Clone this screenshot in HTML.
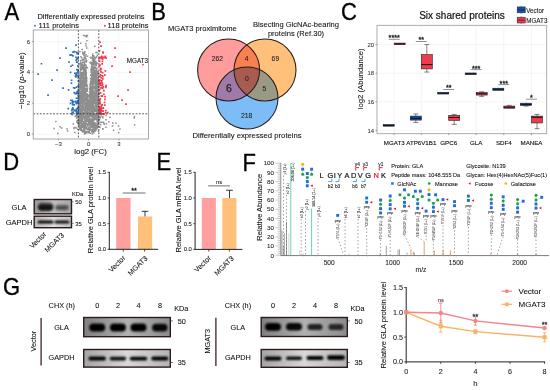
<!DOCTYPE html>
<html><head><meta charset="utf-8"><style>
html,body{margin:0;padding:0;background:#fff;overflow:hidden;}
svg{display:block;will-change:transform;}
text{font-family:"Liberation Sans",sans-serif;}
</style></head><body>
<svg width="550" height="390" viewBox="0 0 550 390">
<rect width="550" height="390" fill="#fff"/>
<defs><filter id="blur1" x="-50%" y="-80%" width="200%" height="260%"><feGaussianBlur stdDeviation="0.8"/></filter><filter id="blur05" x="-50%" y="-80%" width="200%" height="260%"><feGaussianBlur stdDeviation="0.45"/></filter></defs>
<text transform="translate(4.5,20.3) scale(1,1.09)" font-size="22" fill="#000" stroke="#000" stroke-width="0.3">A</text>
<text transform="translate(151.2,20.3) scale(1,1.09)" font-size="22" fill="#000" stroke="#000" stroke-width="0.3">B</text>
<text transform="translate(340.9,20.4) scale(1,1.09)" font-size="22" fill="#000" stroke="#000" stroke-width="0.3">C</text>
<text transform="translate(3.2,170.3) scale(1,1.09)" font-size="22" fill="#000" stroke="#000" stroke-width="0.3">D</text>
<text transform="translate(156.5,170.3) scale(1,1.09)" font-size="22" fill="#000" stroke="#000" stroke-width="0.3">E</text>
<text transform="translate(242.5,170.6) scale(1,1.09)" font-size="22" fill="#000" stroke="#000" stroke-width="0.3">F</text>
<text transform="translate(2.9,295.4) scale(1,1.09)" font-size="22" fill="#000" stroke="#000" stroke-width="0.3">G</text>
<line x1="58.30" y1="30.00" x2="58.30" y2="139.00" stroke="#f0f0f0" stroke-width="0.6" />
<line x1="88.60" y1="30.00" x2="88.60" y2="139.00" stroke="#f0f0f0" stroke-width="0.6" />
<line x1="118.90" y1="30.00" x2="118.90" y2="139.00" stroke="#f0f0f0" stroke-width="0.6" />
<line x1="33.30" y1="134.40" x2="148.50" y2="134.40" stroke="#f0f0f0" stroke-width="0.6" />
<line x1="33.30" y1="103.50" x2="148.50" y2="103.50" stroke="#f0f0f0" stroke-width="0.6" />
<line x1="33.30" y1="72.60" x2="148.50" y2="72.60" stroke="#f0f0f0" stroke-width="0.6" />
<line x1="33.30" y1="41.70" x2="148.50" y2="41.70" stroke="#f0f0f0" stroke-width="0.6" />
<path d="M86.9 107.1h1.5v1.5h-1.5zM81.3 87.7h1.5v1.5h-1.5zM79.4 111.7h1.5v1.5h-1.5zM79.3 128.8h1.5v1.5h-1.5zM97.9 92.5h1.5v1.5h-1.5zM91.1 131.2h1.5v1.5h-1.5zM88.4 127.0h1.5v1.5h-1.5zM81.4 98.2h1.5v1.5h-1.5zM87.0 113.2h1.5v1.5h-1.5zM98.2 85.5h1.5v1.5h-1.5zM84.0 112.6h1.5v1.5h-1.5zM83.5 95.5h1.5v1.5h-1.5zM95.1 100.0h1.5v1.5h-1.5zM97.4 117.7h1.5v1.5h-1.5zM96.4 100.3h1.5v1.5h-1.5zM97.8 98.8h1.5v1.5h-1.5zM93.6 108.3h1.5v1.5h-1.5zM79.3 95.1h1.5v1.5h-1.5zM79.9 109.0h1.5v1.5h-1.5zM79.6 116.1h1.5v1.5h-1.5zM89.1 95.3h1.5v1.5h-1.5zM81.4 87.9h1.5v1.5h-1.5zM79.9 105.5h1.5v1.5h-1.5zM81.9 79.7h1.5v1.5h-1.5zM83.8 54.7h1.5v1.5h-1.5zM81.8 94.6h1.5v1.5h-1.5zM79.5 67.4h1.5v1.5h-1.5zM81.9 106.5h1.5v1.5h-1.5zM83.6 123.7h1.5v1.5h-1.5zM79.3 98.5h1.5v1.5h-1.5zM85.2 99.0h1.5v1.5h-1.5zM97.4 92.3h1.5v1.5h-1.5zM81.3 118.9h1.5v1.5h-1.5zM96.3 116.8h1.5v1.5h-1.5zM92.8 69.6h1.5v1.5h-1.5zM81.5 80.6h1.5v1.5h-1.5zM86.2 123.7h1.5v1.5h-1.5zM78.3 91.1h1.5v1.5h-1.5zM82.8 76.3h1.5v1.5h-1.5zM89.9 80.4h1.5v1.5h-1.5zM78.9 115.5h1.5v1.5h-1.5zM89.1 106.9h1.5v1.5h-1.5zM96.5 118.9h1.5v1.5h-1.5zM81.1 101.2h1.5v1.5h-1.5zM97.8 92.6h1.5v1.5h-1.5zM91.8 128.9h1.5v1.5h-1.5zM77.8 90.5h1.5v1.5h-1.5zM92.0 82.1h1.5v1.5h-1.5zM84.1 89.6h1.5v1.5h-1.5zM92.8 67.3h1.5v1.5h-1.5zM92.8 69.8h1.5v1.5h-1.5zM84.8 91.9h1.5v1.5h-1.5zM96.2 78.1h1.5v1.5h-1.5zM95.4 95.0h1.5v1.5h-1.5zM90.4 90.1h1.5v1.5h-1.5zM79.1 90.0h1.5v1.5h-1.5zM98.1 106.0h1.5v1.5h-1.5zM92.7 91.9h1.5v1.5h-1.5zM78.1 101.9h1.5v1.5h-1.5zM82.8 79.4h1.5v1.5h-1.5zM81.7 117.6h1.5v1.5h-1.5zM96.3 81.1h1.5v1.5h-1.5zM84.3 88.6h1.5v1.5h-1.5zM81.6 83.0h1.5v1.5h-1.5zM95.8 101.4h1.5v1.5h-1.5zM89.6 94.7h1.5v1.5h-1.5zM94.9 71.4h1.5v1.5h-1.5zM92.2 114.9h1.5v1.5h-1.5zM86.8 111.5h1.5v1.5h-1.5zM81.9 100.5h1.5v1.5h-1.5zM84.0 69.6h1.5v1.5h-1.5zM95.6 128.5h1.5v1.5h-1.5zM92.2 78.0h1.5v1.5h-1.5zM77.8 124.3h1.5v1.5h-1.5zM86.9 109.5h1.5v1.5h-1.5zM80.4 128.1h1.5v1.5h-1.5zM90.5 89.2h1.5v1.5h-1.5zM94.2 63.4h1.5v1.5h-1.5zM91.7 114.7h1.5v1.5h-1.5zM77.7 103.5h1.5v1.5h-1.5zM92.3 101.6h1.5v1.5h-1.5zM92.0 87.6h1.5v1.5h-1.5zM90.2 74.4h1.5v1.5h-1.5zM96.3 125.9h1.5v1.5h-1.5zM96.8 102.8h1.5v1.5h-1.5zM90.5 70.7h1.5v1.5h-1.5zM85.3 88.1h1.5v1.5h-1.5zM97.1 105.9h1.5v1.5h-1.5zM91.0 69.5h1.5v1.5h-1.5zM90.8 70.2h1.5v1.5h-1.5zM81.9 52.8h1.5v1.5h-1.5zM84.1 99.1h1.5v1.5h-1.5zM79.2 108.1h1.5v1.5h-1.5zM88.9 129.7h1.5v1.5h-1.5zM94.3 126.8h1.5v1.5h-1.5zM94.1 73.5h1.5v1.5h-1.5zM80.4 118.9h1.5v1.5h-1.5zM97.1 108.7h1.5v1.5h-1.5zM97.2 97.2h1.5v1.5h-1.5zM83.5 78.4h1.5v1.5h-1.5zM90.7 96.8h1.5v1.5h-1.5zM83.9 102.7h1.5v1.5h-1.5zM95.0 71.4h1.5v1.5h-1.5zM97.6 103.0h1.5v1.5h-1.5zM89.4 92.2h1.5v1.5h-1.5zM90.0 129.2h1.5v1.5h-1.5zM97.6 94.2h1.5v1.5h-1.5zM89.2 95.2h1.5v1.5h-1.5zM91.8 93.9h1.5v1.5h-1.5zM97.4 78.1h1.5v1.5h-1.5zM83.0 100.4h1.5v1.5h-1.5zM94.4 69.7h1.5v1.5h-1.5zM96.7 121.2h1.5v1.5h-1.5zM93.7 110.6h1.5v1.5h-1.5zM91.7 104.1h1.5v1.5h-1.5zM84.8 82.4h1.5v1.5h-1.5zM80.0 99.6h1.5v1.5h-1.5zM82.7 97.2h1.5v1.5h-1.5zM85.3 96.3h1.5v1.5h-1.5zM90.7 88.0h1.5v1.5h-1.5zM95.2 116.2h1.5v1.5h-1.5zM92.9 80.2h1.5v1.5h-1.5zM96.2 77.9h1.5v1.5h-1.5zM82.0 61.4h1.5v1.5h-1.5zM95.9 81.9h1.5v1.5h-1.5zM82.8 122.5h1.5v1.5h-1.5zM94.8 122.8h1.5v1.5h-1.5zM85.8 80.2h1.5v1.5h-1.5zM77.8 85.7h1.5v1.5h-1.5zM97.6 122.2h1.5v1.5h-1.5zM81.4 126.8h1.5v1.5h-1.5zM79.7 94.0h1.5v1.5h-1.5zM89.3 118.4h1.5v1.5h-1.5zM81.3 65.3h1.5v1.5h-1.5zM96.7 122.7h1.5v1.5h-1.5zM78.7 84.0h1.5v1.5h-1.5zM84.2 97.6h1.5v1.5h-1.5zM88.2 131.9h1.5v1.5h-1.5zM92.0 66.7h1.5v1.5h-1.5zM81.2 107.4h1.5v1.5h-1.5zM81.5 117.3h1.5v1.5h-1.5zM92.1 68.0h1.5v1.5h-1.5zM90.5 96.7h1.5v1.5h-1.5zM97.9 85.3h1.5v1.5h-1.5zM82.8 69.9h1.5v1.5h-1.5zM94.4 103.1h1.5v1.5h-1.5zM96.1 76.7h1.5v1.5h-1.5zM93.4 102.6h1.5v1.5h-1.5zM92.5 91.0h1.5v1.5h-1.5zM77.7 111.7h1.5v1.5h-1.5zM90.7 68.4h1.5v1.5h-1.5zM91.3 104.7h1.5v1.5h-1.5zM91.2 103.3h1.5v1.5h-1.5zM98.2 101.3h1.5v1.5h-1.5zM92.0 130.1h1.5v1.5h-1.5zM90.3 93.0h1.5v1.5h-1.5zM82.8 115.7h1.5v1.5h-1.5zM85.3 122.9h1.5v1.5h-1.5zM82.7 89.9h1.5v1.5h-1.5zM97.6 102.2h1.5v1.5h-1.5zM89.9 84.9h1.5v1.5h-1.5zM78.4 103.0h1.5v1.5h-1.5zM81.0 98.1h1.5v1.5h-1.5zM90.2 90.3h1.5v1.5h-1.5zM85.1 92.3h1.5v1.5h-1.5zM83.3 73.5h1.5v1.5h-1.5zM83.6 127.7h1.5v1.5h-1.5zM80.7 82.8h1.5v1.5h-1.5zM85.6 126.7h1.5v1.5h-1.5zM98.0 91.2h1.5v1.5h-1.5zM79.0 99.5h1.5v1.5h-1.5zM97.7 117.7h1.5v1.5h-1.5zM97.8 92.4h1.5v1.5h-1.5zM90.0 92.1h1.5v1.5h-1.5zM81.7 126.8h1.5v1.5h-1.5zM86.9 110.1h1.5v1.5h-1.5zM89.6 98.0h1.5v1.5h-1.5zM98.2 79.8h1.5v1.5h-1.5zM92.7 67.5h1.5v1.5h-1.5zM93.8 82.9h1.5v1.5h-1.5zM84.9 91.4h1.5v1.5h-1.5zM89.8 77.7h1.5v1.5h-1.5zM93.1 61.2h1.5v1.5h-1.5zM96.5 74.6h1.5v1.5h-1.5zM78.3 105.1h1.5v1.5h-1.5zM90.4 121.8h1.5v1.5h-1.5zM85.2 106.8h1.5v1.5h-1.5zM92.9 70.6h1.5v1.5h-1.5zM79.0 89.2h1.5v1.5h-1.5zM93.4 110.5h1.5v1.5h-1.5zM86.3 104.5h1.5v1.5h-1.5zM84.2 79.6h1.5v1.5h-1.5zM86.3 105.8h1.5v1.5h-1.5zM79.5 125.5h1.5v1.5h-1.5zM89.2 96.3h1.5v1.5h-1.5zM91.7 124.9h1.5v1.5h-1.5zM81.9 77.5h1.5v1.5h-1.5zM79.1 94.3h1.5v1.5h-1.5zM83.3 117.0h1.5v1.5h-1.5zM84.9 121.6h1.5v1.5h-1.5zM92.2 91.6h1.5v1.5h-1.5zM96.6 95.1h1.5v1.5h-1.5zM94.2 108.9h1.5v1.5h-1.5zM84.1 82.8h1.5v1.5h-1.5zM82.6 99.3h1.5v1.5h-1.5zM85.1 104.0h1.5v1.5h-1.5zM81.5 88.8h1.5v1.5h-1.5zM94.0 97.6h1.5v1.5h-1.5zM81.1 84.5h1.5v1.5h-1.5zM95.8 96.1h1.5v1.5h-1.5zM79.2 72.5h1.5v1.5h-1.5zM79.2 90.4h1.5v1.5h-1.5zM80.4 113.5h1.5v1.5h-1.5zM82.0 87.7h1.5v1.5h-1.5zM88.3 105.9h1.5v1.5h-1.5zM97.6 99.2h1.5v1.5h-1.5zM96.5 105.2h1.5v1.5h-1.5zM94.6 81.9h1.5v1.5h-1.5zM94.8 82.7h1.5v1.5h-1.5zM97.4 95.5h1.5v1.5h-1.5zM94.1 102.0h1.5v1.5h-1.5zM85.3 115.3h1.5v1.5h-1.5zM81.7 74.1h1.5v1.5h-1.5zM78.7 111.6h1.5v1.5h-1.5zM79.8 120.3h1.5v1.5h-1.5zM78.7 109.7h1.5v1.5h-1.5zM89.6 121.6h1.5v1.5h-1.5zM81.3 114.8h1.5v1.5h-1.5zM82.3 113.8h1.5v1.5h-1.5zM81.3 113.4h1.5v1.5h-1.5zM81.0 93.7h1.5v1.5h-1.5zM94.4 98.7h1.5v1.5h-1.5zM82.9 99.8h1.5v1.5h-1.5zM94.1 100.1h1.5v1.5h-1.5zM91.1 110.9h1.5v1.5h-1.5zM77.7 99.6h1.5v1.5h-1.5zM92.3 84.3h1.5v1.5h-1.5zM80.7 111.0h1.5v1.5h-1.5zM95.5 92.3h1.5v1.5h-1.5zM90.7 86.8h1.5v1.5h-1.5zM80.6 82.9h1.5v1.5h-1.5zM77.5 89.2h1.5v1.5h-1.5zM79.2 118.1h1.5v1.5h-1.5zM92.4 90.6h1.5v1.5h-1.5zM97.3 94.2h1.5v1.5h-1.5zM95.3 102.9h1.5v1.5h-1.5zM96.5 123.1h1.5v1.5h-1.5zM94.6 91.5h1.5v1.5h-1.5zM80.7 71.7h1.5v1.5h-1.5zM83.9 107.4h1.5v1.5h-1.5zM84.9 101.9h1.5v1.5h-1.5zM94.7 102.7h1.5v1.5h-1.5zM92.2 111.0h1.5v1.5h-1.5zM94.1 113.8h1.5v1.5h-1.5zM90.3 91.2h1.5v1.5h-1.5zM83.7 102.1h1.5v1.5h-1.5zM85.6 115.9h1.5v1.5h-1.5zM92.7 105.8h1.5v1.5h-1.5zM97.1 114.3h1.5v1.5h-1.5zM94.6 124.1h1.5v1.5h-1.5zM80.4 80.0h1.5v1.5h-1.5zM81.2 99.5h1.5v1.5h-1.5zM94.9 113.8h1.5v1.5h-1.5zM80.7 122.0h1.5v1.5h-1.5zM85.9 92.9h1.5v1.5h-1.5zM93.4 103.0h1.5v1.5h-1.5zM86.0 131.5h1.5v1.5h-1.5zM85.8 83.5h1.5v1.5h-1.5zM91.2 97.6h1.5v1.5h-1.5zM77.8 101.4h1.5v1.5h-1.5zM79.7 104.0h1.5v1.5h-1.5zM80.7 92.6h1.5v1.5h-1.5zM96.2 101.6h1.5v1.5h-1.5zM80.4 87.7h1.5v1.5h-1.5zM98.0 98.4h1.5v1.5h-1.5zM81.6 71.8h1.5v1.5h-1.5zM90.5 110.1h1.5v1.5h-1.5zM84.3 93.4h1.5v1.5h-1.5zM80.0 77.1h1.5v1.5h-1.5zM80.3 90.4h1.5v1.5h-1.5zM89.1 111.8h1.5v1.5h-1.5zM96.4 84.3h1.5v1.5h-1.5zM80.0 82.4h1.5v1.5h-1.5zM83.5 87.0h1.5v1.5h-1.5zM94.7 116.8h1.5v1.5h-1.5zM88.8 116.1h1.5v1.5h-1.5zM98.0 83.7h1.5v1.5h-1.5zM91.1 79.8h1.5v1.5h-1.5zM85.4 82.9h1.5v1.5h-1.5zM94.2 93.2h1.5v1.5h-1.5zM80.4 104.4h1.5v1.5h-1.5zM89.3 108.6h1.5v1.5h-1.5zM89.3 102.0h1.5v1.5h-1.5zM90.8 116.2h1.5v1.5h-1.5zM97.4 95.2h1.5v1.5h-1.5zM93.2 72.6h1.5v1.5h-1.5zM86.0 99.9h1.5v1.5h-1.5zM89.2 88.4h1.5v1.5h-1.5zM84.1 60.8h1.5v1.5h-1.5zM92.7 83.3h1.5v1.5h-1.5zM93.1 125.5h1.5v1.5h-1.5zM80.0 97.2h1.5v1.5h-1.5zM88.4 112.2h1.5v1.5h-1.5zM83.8 126.1h1.5v1.5h-1.5zM96.4 71.2h1.5v1.5h-1.5zM91.3 68.6h1.5v1.5h-1.5zM82.1 84.9h1.5v1.5h-1.5zM80.0 97.9h1.5v1.5h-1.5zM97.2 110.2h1.5v1.5h-1.5zM84.2 126.2h1.5v1.5h-1.5zM96.1 105.0h1.5v1.5h-1.5zM89.6 128.3h1.5v1.5h-1.5zM78.1 102.1h1.5v1.5h-1.5zM96.9 79.7h1.5v1.5h-1.5zM96.1 115.2h1.5v1.5h-1.5zM94.9 118.3h1.5v1.5h-1.5zM95.7 63.5h1.5v1.5h-1.5zM81.7 76.8h1.5v1.5h-1.5zM78.5 125.4h1.5v1.5h-1.5zM92.5 74.1h1.5v1.5h-1.5zM92.3 116.3h1.5v1.5h-1.5zM91.9 123.2h1.5v1.5h-1.5zM82.1 108.7h1.5v1.5h-1.5zM92.2 110.4h1.5v1.5h-1.5zM91.3 70.2h1.5v1.5h-1.5zM85.2 94.2h1.5v1.5h-1.5zM82.2 112.6h1.5v1.5h-1.5zM96.7 94.1h1.5v1.5h-1.5zM79.3 81.9h1.5v1.5h-1.5zM86.6 128.9h1.5v1.5h-1.5zM89.9 108.4h1.5v1.5h-1.5zM82.7 108.4h1.5v1.5h-1.5zM93.2 111.2h1.5v1.5h-1.5zM83.3 74.7h1.5v1.5h-1.5zM87.8 120.2h1.5v1.5h-1.5zM89.0 87.8h1.5v1.5h-1.5zM93.7 95.1h1.5v1.5h-1.5zM97.2 121.9h1.5v1.5h-1.5zM93.7 109.9h1.5v1.5h-1.5zM93.8 93.1h1.5v1.5h-1.5zM82.1 93.5h1.5v1.5h-1.5zM81.2 96.2h1.5v1.5h-1.5zM86.5 99.4h1.5v1.5h-1.5zM82.9 69.7h1.5v1.5h-1.5zM89.3 92.9h1.5v1.5h-1.5zM93.9 105.9h1.5v1.5h-1.5zM78.3 111.6h1.5v1.5h-1.5zM90.4 90.4h1.5v1.5h-1.5zM79.3 85.6h1.5v1.5h-1.5zM81.0 85.9h1.5v1.5h-1.5zM94.7 74.2h1.5v1.5h-1.5zM78.7 119.4h1.5v1.5h-1.5zM87.6 120.4h1.5v1.5h-1.5zM86.9 99.5h1.5v1.5h-1.5zM78.3 122.7h1.5v1.5h-1.5zM85.6 102.7h1.5v1.5h-1.5zM93.3 77.2h1.5v1.5h-1.5zM82.2 112.1h1.5v1.5h-1.5zM85.0 94.7h1.5v1.5h-1.5zM78.3 100.7h1.5v1.5h-1.5zM91.0 75.3h1.5v1.5h-1.5zM95.4 89.2h1.5v1.5h-1.5zM95.9 84.1h1.5v1.5h-1.5zM85.4 77.0h1.5v1.5h-1.5zM81.9 93.9h1.5v1.5h-1.5zM80.9 114.8h1.5v1.5h-1.5zM81.9 101.7h1.5v1.5h-1.5zM98.1 95.5h1.5v1.5h-1.5zM95.4 125.3h1.5v1.5h-1.5zM91.8 98.5h1.5v1.5h-1.5zM83.2 108.7h1.5v1.5h-1.5zM92.3 117.6h1.5v1.5h-1.5zM96.9 105.1h1.5v1.5h-1.5zM93.4 130.6h1.5v1.5h-1.5zM84.1 108.6h1.5v1.5h-1.5zM79.2 84.0h1.5v1.5h-1.5zM88.3 127.6h1.5v1.5h-1.5zM85.6 118.9h1.5v1.5h-1.5zM89.8 129.1h1.5v1.5h-1.5zM83.9 121.3h1.5v1.5h-1.5zM92.1 107.6h1.5v1.5h-1.5zM92.5 113.9h1.5v1.5h-1.5zM83.3 83.9h1.5v1.5h-1.5zM85.9 116.6h1.5v1.5h-1.5zM83.5 100.4h1.5v1.5h-1.5zM81.9 86.5h1.5v1.5h-1.5zM97.7 86.8h1.5v1.5h-1.5zM81.9 76.8h1.5v1.5h-1.5zM91.3 106.7h1.5v1.5h-1.5zM90.6 123.8h1.5v1.5h-1.5zM86.3 104.2h1.5v1.5h-1.5zM84.3 93.5h1.5v1.5h-1.5zM83.3 93.7h1.5v1.5h-1.5zM80.9 83.2h1.5v1.5h-1.5zM82.4 97.0h1.5v1.5h-1.5zM80.6 90.6h1.5v1.5h-1.5zM92.0 130.6h1.5v1.5h-1.5zM85.6 105.3h1.5v1.5h-1.5zM78.8 103.8h1.5v1.5h-1.5zM89.6 94.8h1.5v1.5h-1.5zM84.2 104.2h1.5v1.5h-1.5zM96.0 92.7h1.5v1.5h-1.5zM82.9 97.6h1.5v1.5h-1.5zM90.2 68.8h1.5v1.5h-1.5zM85.0 90.4h1.5v1.5h-1.5zM90.5 90.0h1.5v1.5h-1.5zM86.0 80.8h1.5v1.5h-1.5zM95.7 102.6h1.5v1.5h-1.5zM96.4 96.0h1.5v1.5h-1.5zM83.9 102.9h1.5v1.5h-1.5zM97.8 116.5h1.5v1.5h-1.5zM91.6 109.7h1.5v1.5h-1.5zM77.5 121.1h1.5v1.5h-1.5zM97.6 113.8h1.5v1.5h-1.5zM84.7 77.8h1.5v1.5h-1.5zM91.9 82.8h1.5v1.5h-1.5zM97.5 94.9h1.5v1.5h-1.5zM85.1 94.1h1.5v1.5h-1.5zM82.4 107.7h1.5v1.5h-1.5zM84.2 119.9h1.5v1.5h-1.5zM78.8 126.4h1.5v1.5h-1.5zM79.6 103.2h1.5v1.5h-1.5zM93.5 95.9h1.5v1.5h-1.5zM80.8 126.6h1.5v1.5h-1.5zM82.7 100.2h1.5v1.5h-1.5zM94.0 113.3h1.5v1.5h-1.5zM92.3 101.2h1.5v1.5h-1.5zM84.4 74.0h1.5v1.5h-1.5zM89.3 105.9h1.5v1.5h-1.5zM92.2 80.7h1.5v1.5h-1.5zM80.1 110.0h1.5v1.5h-1.5zM91.4 131.3h1.5v1.5h-1.5zM97.6 103.2h1.5v1.5h-1.5zM90.6 95.6h1.5v1.5h-1.5zM96.9 87.3h1.5v1.5h-1.5zM79.9 128.9h1.5v1.5h-1.5zM83.4 121.5h1.5v1.5h-1.5zM84.3 131.1h1.5v1.5h-1.5zM88.7 110.0h1.5v1.5h-1.5zM94.1 72.4h1.5v1.5h-1.5zM83.4 84.3h1.5v1.5h-1.5zM97.9 106.1h1.5v1.5h-1.5zM91.9 120.6h1.5v1.5h-1.5zM81.1 123.4h1.5v1.5h-1.5zM96.9 122.9h1.5v1.5h-1.5zM84.2 130.4h1.5v1.5h-1.5zM89.2 107.1h1.5v1.5h-1.5zM82.2 91.9h1.5v1.5h-1.5zM85.1 126.1h1.5v1.5h-1.5zM96.0 108.2h1.5v1.5h-1.5zM79.1 74.4h1.5v1.5h-1.5zM81.7 68.2h1.5v1.5h-1.5zM87.5 109.6h1.5v1.5h-1.5zM78.6 96.4h1.5v1.5h-1.5zM91.1 68.7h1.5v1.5h-1.5zM95.4 72.4h1.5v1.5h-1.5zM86.7 116.2h1.5v1.5h-1.5zM78.0 124.0h1.5v1.5h-1.5zM79.9 81.0h1.5v1.5h-1.5zM83.9 91.5h1.5v1.5h-1.5zM93.9 75.3h1.5v1.5h-1.5zM94.7 84.1h1.5v1.5h-1.5zM98.0 102.0h1.5v1.5h-1.5zM92.1 106.3h1.5v1.5h-1.5zM96.4 112.2h1.5v1.5h-1.5zM85.5 102.8h1.5v1.5h-1.5zM91.1 81.5h1.5v1.5h-1.5zM84.8 111.3h1.5v1.5h-1.5zM96.3 108.5h1.5v1.5h-1.5zM92.9 112.1h1.5v1.5h-1.5zM92.9 118.1h1.5v1.5h-1.5zM79.7 121.9h1.5v1.5h-1.5zM84.7 94.8h1.5v1.5h-1.5zM85.8 106.6h1.5v1.5h-1.5zM84.1 79.9h1.5v1.5h-1.5zM79.7 69.1h1.5v1.5h-1.5zM82.0 101.3h1.5v1.5h-1.5zM92.1 78.7h1.5v1.5h-1.5zM97.2 108.6h1.5v1.5h-1.5zM81.3 122.4h1.5v1.5h-1.5zM90.7 93.1h1.5v1.5h-1.5zM90.8 66.1h1.5v1.5h-1.5zM95.3 81.6h1.5v1.5h-1.5zM91.8 95.8h1.5v1.5h-1.5zM91.3 113.1h1.5v1.5h-1.5zM89.9 86.3h1.5v1.5h-1.5zM89.8 86.0h1.5v1.5h-1.5zM96.8 70.7h1.5v1.5h-1.5zM92.8 102.7h1.5v1.5h-1.5zM92.8 63.0h1.5v1.5h-1.5zM80.1 73.8h1.5v1.5h-1.5zM97.0 72.2h1.5v1.5h-1.5zM94.0 128.3h1.5v1.5h-1.5zM95.5 85.4h1.5v1.5h-1.5zM82.7 90.7h1.5v1.5h-1.5zM95.5 117.8h1.5v1.5h-1.5zM83.3 91.9h1.5v1.5h-1.5zM93.8 95.0h1.5v1.5h-1.5zM82.5 75.2h1.5v1.5h-1.5zM94.0 121.9h1.5v1.5h-1.5zM78.2 109.5h1.5v1.5h-1.5zM95.4 116.5h1.5v1.5h-1.5zM85.5 77.3h1.5v1.5h-1.5zM81.8 89.0h1.5v1.5h-1.5zM95.7 87.4h1.5v1.5h-1.5zM86.4 131.5h1.5v1.5h-1.5zM84.5 110.4h1.5v1.5h-1.5zM90.0 74.1h1.5v1.5h-1.5zM81.2 94.4h1.5v1.5h-1.5zM80.1 121.4h1.5v1.5h-1.5zM97.0 119.3h1.5v1.5h-1.5zM98.1 99.1h1.5v1.5h-1.5zM92.8 100.3h1.5v1.5h-1.5zM80.5 87.2h1.5v1.5h-1.5zM86.3 97.1h1.5v1.5h-1.5zM84.7 90.4h1.5v1.5h-1.5zM83.4 76.5h1.5v1.5h-1.5zM83.4 93.7h1.5v1.5h-1.5zM96.9 110.1h1.5v1.5h-1.5zM92.9 126.3h1.5v1.5h-1.5zM86.2 111.4h1.5v1.5h-1.5zM91.4 110.7h1.5v1.5h-1.5zM86.0 108.4h1.5v1.5h-1.5zM86.2 101.2h1.5v1.5h-1.5zM94.5 88.0h1.5v1.5h-1.5zM79.5 87.1h1.5v1.5h-1.5zM79.3 93.0h1.5v1.5h-1.5zM91.4 100.6h1.5v1.5h-1.5zM96.1 89.4h1.5v1.5h-1.5zM87.2 106.2h1.5v1.5h-1.5zM87.1 94.4h1.5v1.5h-1.5zM97.6 71.4h1.5v1.5h-1.5zM98.1 104.9h1.5v1.5h-1.5zM92.0 53.2h1.5v1.5h-1.5zM78.8 99.5h1.5v1.5h-1.5zM82.0 65.7h1.5v1.5h-1.5zM81.8 103.3h1.5v1.5h-1.5zM92.9 123.4h1.5v1.5h-1.5zM80.9 87.8h1.5v1.5h-1.5zM82.7 82.7h1.5v1.5h-1.5zM92.7 93.9h1.5v1.5h-1.5zM77.8 94.0h1.5v1.5h-1.5zM97.1 108.3h1.5v1.5h-1.5zM88.6 93.9h1.5v1.5h-1.5zM79.8 98.3h1.5v1.5h-1.5zM80.0 98.7h1.5v1.5h-1.5zM80.1 108.0h1.5v1.5h-1.5zM93.6 109.1h1.5v1.5h-1.5zM86.1 96.3h1.5v1.5h-1.5zM89.1 96.1h1.5v1.5h-1.5zM95.1 116.3h1.5v1.5h-1.5zM97.6 96.5h1.5v1.5h-1.5zM85.9 79.4h1.5v1.5h-1.5zM86.0 132.1h1.5v1.5h-1.5zM80.6 82.0h1.5v1.5h-1.5zM80.7 101.7h1.5v1.5h-1.5zM78.0 80.7h1.5v1.5h-1.5zM90.8 67.3h1.5v1.5h-1.5zM78.4 116.7h1.5v1.5h-1.5zM79.8 76.7h1.5v1.5h-1.5zM84.3 80.5h1.5v1.5h-1.5zM97.1 96.9h1.5v1.5h-1.5zM87.9 107.2h1.5v1.5h-1.5zM92.8 110.6h1.5v1.5h-1.5zM85.1 106.9h1.5v1.5h-1.5zM86.4 97.4h1.5v1.5h-1.5zM78.5 101.3h1.5v1.5h-1.5zM88.8 102.2h1.5v1.5h-1.5zM82.1 104.9h1.5v1.5h-1.5zM87.5 113.5h1.5v1.5h-1.5zM93.0 99.1h1.5v1.5h-1.5zM89.8 82.8h1.5v1.5h-1.5zM85.1 108.3h1.5v1.5h-1.5zM90.1 96.0h1.5v1.5h-1.5zM78.6 113.5h1.5v1.5h-1.5zM94.0 96.8h1.5v1.5h-1.5zM95.3 88.7h1.5v1.5h-1.5zM79.2 74.3h1.5v1.5h-1.5zM94.7 78.2h1.5v1.5h-1.5zM93.8 80.5h1.5v1.5h-1.5zM78.6 96.8h1.5v1.5h-1.5zM90.7 63.5h1.5v1.5h-1.5zM89.5 132.5h1.5v1.5h-1.5zM92.8 71.5h1.5v1.5h-1.5zM96.5 125.4h1.5v1.5h-1.5zM93.7 106.2h1.5v1.5h-1.5zM86.8 98.5h1.5v1.5h-1.5zM79.9 127.0h1.5v1.5h-1.5zM79.9 73.0h1.5v1.5h-1.5zM91.3 121.1h1.5v1.5h-1.5zM83.9 68.4h1.5v1.5h-1.5zM89.1 97.7h1.5v1.5h-1.5zM80.0 129.5h1.5v1.5h-1.5zM86.4 106.4h1.5v1.5h-1.5zM91.5 74.3h1.5v1.5h-1.5zM85.5 81.5h1.5v1.5h-1.5zM79.6 95.4h1.5v1.5h-1.5zM81.7 107.2h1.5v1.5h-1.5zM80.9 99.1h1.5v1.5h-1.5zM85.5 85.7h1.5v1.5h-1.5zM95.0 99.5h1.5v1.5h-1.5zM97.8 109.2h1.5v1.5h-1.5zM92.0 76.7h1.5v1.5h-1.5zM89.4 108.5h1.5v1.5h-1.5zM78.8 89.6h1.5v1.5h-1.5zM86.5 93.6h1.5v1.5h-1.5zM89.1 89.2h1.5v1.5h-1.5zM87.6 115.5h1.5v1.5h-1.5zM93.1 66.7h1.5v1.5h-1.5zM78.2 92.8h1.5v1.5h-1.5zM89.3 119.7h1.5v1.5h-1.5zM97.2 89.7h1.5v1.5h-1.5zM94.2 110.1h1.5v1.5h-1.5zM81.6 89.4h1.5v1.5h-1.5zM90.1 82.0h1.5v1.5h-1.5zM96.2 67.6h1.5v1.5h-1.5zM91.8 86.5h1.5v1.5h-1.5zM83.5 61.5h1.5v1.5h-1.5zM92.6 130.5h1.5v1.5h-1.5zM88.6 109.6h1.5v1.5h-1.5zM83.5 95.2h1.5v1.5h-1.5zM83.1 107.2h1.5v1.5h-1.5zM83.2 121.1h1.5v1.5h-1.5zM95.3 76.3h1.5v1.5h-1.5zM90.1 97.3h1.5v1.5h-1.5zM91.2 68.9h1.5v1.5h-1.5zM93.6 66.4h1.5v1.5h-1.5zM85.0 75.6h1.5v1.5h-1.5zM82.3 86.2h1.5v1.5h-1.5zM97.1 99.3h1.5v1.5h-1.5zM79.7 73.2h1.5v1.5h-1.5zM91.1 119.8h1.5v1.5h-1.5zM89.2 119.9h1.5v1.5h-1.5zM91.3 123.7h1.5v1.5h-1.5zM78.1 109.8h1.5v1.5h-1.5zM95.2 86.2h1.5v1.5h-1.5zM88.3 114.7h1.5v1.5h-1.5zM88.4 103.2h1.5v1.5h-1.5zM87.8 102.1h1.5v1.5h-1.5zM87.6 124.3h1.5v1.5h-1.5zM87.6 106.2h1.5v1.5h-1.5zM80.3 112.7h1.5v1.5h-1.5zM84.4 71.2h1.5v1.5h-1.5zM97.2 95.2h1.5v1.5h-1.5zM95.3 95.7h1.5v1.5h-1.5zM89.7 82.2h1.5v1.5h-1.5zM90.2 125.4h1.5v1.5h-1.5zM78.1 74.7h1.5v1.5h-1.5zM94.7 91.7h1.5v1.5h-1.5zM93.2 79.9h1.5v1.5h-1.5zM77.5 77.5h1.5v1.5h-1.5zM94.8 98.1h1.5v1.5h-1.5zM84.4 78.6h1.5v1.5h-1.5zM82.9 88.5h1.5v1.5h-1.5zM88.4 101.4h1.5v1.5h-1.5zM82.3 64.5h1.5v1.5h-1.5zM81.1 96.1h1.5v1.5h-1.5zM93.8 102.6h1.5v1.5h-1.5zM82.4 95.2h1.5v1.5h-1.5zM82.8 76.4h1.5v1.5h-1.5zM81.3 106.6h1.5v1.5h-1.5zM92.6 76.6h1.5v1.5h-1.5zM93.9 79.2h1.5v1.5h-1.5zM82.5 113.8h1.5v1.5h-1.5zM86.1 101.8h1.5v1.5h-1.5zM96.4 73.5h1.5v1.5h-1.5zM85.5 71.8h1.5v1.5h-1.5zM84.5 69.2h1.5v1.5h-1.5zM85.3 82.2h1.5v1.5h-1.5zM96.5 120.8h1.5v1.5h-1.5zM81.7 59.0h1.5v1.5h-1.5zM84.6 80.6h1.5v1.5h-1.5zM80.4 118.0h1.5v1.5h-1.5zM80.3 100.5h1.5v1.5h-1.5zM95.8 101.0h1.5v1.5h-1.5zM85.2 124.3h1.5v1.5h-1.5zM83.1 115.3h1.5v1.5h-1.5zM84.7 127.6h1.5v1.5h-1.5zM83.8 91.6h1.5v1.5h-1.5zM93.3 126.3h1.5v1.5h-1.5zM82.1 125.4h1.5v1.5h-1.5zM83.9 93.3h1.5v1.5h-1.5zM80.8 114.0h1.5v1.5h-1.5zM95.0 74.0h1.5v1.5h-1.5zM93.3 117.4h1.5v1.5h-1.5zM81.0 82.2h1.5v1.5h-1.5zM81.9 74.0h1.5v1.5h-1.5zM87.1 109.2h1.5v1.5h-1.5zM78.3 115.7h1.5v1.5h-1.5zM90.3 88.4h1.5v1.5h-1.5zM84.0 101.0h1.5v1.5h-1.5zM95.8 98.6h1.5v1.5h-1.5zM87.0 109.0h1.5v1.5h-1.5zM96.5 78.6h1.5v1.5h-1.5zM95.8 114.9h1.5v1.5h-1.5zM88.0 116.6h1.5v1.5h-1.5zM92.5 111.1h1.5v1.5h-1.5zM89.6 104.8h1.5v1.5h-1.5zM79.5 80.2h1.5v1.5h-1.5zM84.7 76.7h1.5v1.5h-1.5zM88.1 105.1h1.5v1.5h-1.5zM77.5 107.6h1.5v1.5h-1.5zM90.6 94.9h1.5v1.5h-1.5zM79.3 99.1h1.5v1.5h-1.5zM97.6 114.1h1.5v1.5h-1.5zM86.7 110.1h1.5v1.5h-1.5zM94.7 71.5h1.5v1.5h-1.5zM82.7 95.8h1.5v1.5h-1.5zM87.9 106.2h1.5v1.5h-1.5zM81.5 76.0h1.5v1.5h-1.5zM97.8 72.4h1.5v1.5h-1.5zM91.7 69.6h1.5v1.5h-1.5zM94.1 118.9h1.5v1.5h-1.5zM94.4 70.7h1.5v1.5h-1.5zM77.9 102.0h1.5v1.5h-1.5zM84.6 67.8h1.5v1.5h-1.5zM96.8 98.8h1.5v1.5h-1.5zM78.8 81.6h1.5v1.5h-1.5zM95.6 109.3h1.5v1.5h-1.5zM81.3 73.2h1.5v1.5h-1.5zM90.4 122.2h1.5v1.5h-1.5zM92.6 64.5h1.5v1.5h-1.5zM93.8 65.8h1.5v1.5h-1.5zM89.3 89.3h1.5v1.5h-1.5zM85.4 105.9h1.5v1.5h-1.5zM77.9 116.5h1.5v1.5h-1.5zM91.0 66.1h1.5v1.5h-1.5zM91.9 110.1h1.5v1.5h-1.5zM81.3 88.0h1.5v1.5h-1.5zM91.7 59.8h1.5v1.5h-1.5zM96.4 111.8h1.5v1.5h-1.5zM97.3 98.4h1.5v1.5h-1.5zM84.4 113.3h1.5v1.5h-1.5zM88.6 96.9h1.5v1.5h-1.5zM92.9 87.1h1.5v1.5h-1.5zM82.5 104.0h1.5v1.5h-1.5zM78.9 96.9h1.5v1.5h-1.5zM97.2 92.5h1.5v1.5h-1.5zM86.1 99.7h1.5v1.5h-1.5zM97.4 122.8h1.5v1.5h-1.5zM86.5 96.0h1.5v1.5h-1.5zM90.8 75.5h1.5v1.5h-1.5zM96.2 71.9h1.5v1.5h-1.5zM88.4 113.9h1.5v1.5h-1.5zM93.4 87.1h1.5v1.5h-1.5zM83.1 80.0h1.5v1.5h-1.5zM92.6 86.1h1.5v1.5h-1.5zM92.1 89.1h1.5v1.5h-1.5zM95.9 126.8h1.5v1.5h-1.5zM78.9 105.8h1.5v1.5h-1.5zM80.1 97.5h1.5v1.5h-1.5zM89.4 84.8h1.5v1.5h-1.5zM91.6 89.2h1.5v1.5h-1.5zM87.3 131.4h1.5v1.5h-1.5zM79.0 125.5h1.5v1.5h-1.5zM97.3 79.9h1.5v1.5h-1.5zM79.9 111.6h1.5v1.5h-1.5zM82.0 98.1h1.5v1.5h-1.5zM85.7 78.6h1.5v1.5h-1.5zM82.8 96.3h1.5v1.5h-1.5zM85.1 104.1h1.5v1.5h-1.5zM86.9 104.3h1.5v1.5h-1.5zM83.8 70.5h1.5v1.5h-1.5zM86.9 107.4h1.5v1.5h-1.5zM85.3 69.4h1.5v1.5h-1.5zM97.8 93.9h1.5v1.5h-1.5zM92.9 109.0h1.5v1.5h-1.5zM92.5 74.2h1.5v1.5h-1.5zM86.5 89.8h1.5v1.5h-1.5zM82.2 66.5h1.5v1.5h-1.5zM84.6 88.0h1.5v1.5h-1.5zM77.8 120.7h1.5v1.5h-1.5zM90.2 110.6h1.5v1.5h-1.5zM78.7 98.8h1.5v1.5h-1.5zM94.5 86.3h1.5v1.5h-1.5zM92.3 80.1h1.5v1.5h-1.5zM93.0 82.8h1.5v1.5h-1.5zM89.1 93.1h1.5v1.5h-1.5zM98.0 109.4h1.5v1.5h-1.5zM92.6 55.4h1.5v1.5h-1.5zM83.2 99.0h1.5v1.5h-1.5zM80.9 92.1h1.5v1.5h-1.5zM96.0 83.3h1.5v1.5h-1.5zM86.2 120.7h1.5v1.5h-1.5zM84.8 107.5h1.5v1.5h-1.5zM91.8 81.7h1.5v1.5h-1.5zM94.7 105.4h1.5v1.5h-1.5zM88.6 130.1h1.5v1.5h-1.5zM85.2 107.9h1.5v1.5h-1.5zM95.6 75.5h1.5v1.5h-1.5zM82.6 123.9h1.5v1.5h-1.5zM94.0 76.1h1.5v1.5h-1.5zM82.9 130.3h1.5v1.5h-1.5zM94.5 72.1h1.5v1.5h-1.5zM81.8 107.1h1.5v1.5h-1.5zM95.7 117.7h1.5v1.5h-1.5zM98.0 97.9h1.5v1.5h-1.5zM80.6 68.0h1.5v1.5h-1.5zM84.5 80.7h1.5v1.5h-1.5zM96.5 87.3h1.5v1.5h-1.5zM81.0 116.7h1.5v1.5h-1.5zM95.8 68.7h1.5v1.5h-1.5zM82.2 84.6h1.5v1.5h-1.5zM78.4 91.7h1.5v1.5h-1.5zM78.8 95.3h1.5v1.5h-1.5zM84.8 64.7h1.5v1.5h-1.5zM78.8 125.1h1.5v1.5h-1.5zM77.9 116.9h1.5v1.5h-1.5zM91.3 82.5h1.5v1.5h-1.5zM84.2 93.9h1.5v1.5h-1.5zM84.9 103.0h1.5v1.5h-1.5zM82.6 131.2h1.5v1.5h-1.5zM83.9 85.0h1.5v1.5h-1.5zM83.0 90.8h1.5v1.5h-1.5zM88.1 104.7h1.5v1.5h-1.5zM95.9 88.0h1.5v1.5h-1.5zM91.9 97.5h1.5v1.5h-1.5zM86.0 101.1h1.5v1.5h-1.5zM93.9 130.1h1.5v1.5h-1.5zM83.7 129.5h1.5v1.5h-1.5zM94.0 116.1h1.5v1.5h-1.5zM95.5 80.6h1.5v1.5h-1.5zM91.7 97.2h1.5v1.5h-1.5zM85.7 98.7h1.5v1.5h-1.5zM95.8 64.7h1.5v1.5h-1.5zM79.0 115.8h1.5v1.5h-1.5zM97.6 115.7h1.5v1.5h-1.5zM95.4 96.3h1.5v1.5h-1.5zM80.5 99.5h1.5v1.5h-1.5zM89.8 97.7h1.5v1.5h-1.5zM96.2 89.8h1.5v1.5h-1.5zM82.0 109.1h1.5v1.5h-1.5zM89.5 83.6h1.5v1.5h-1.5zM77.8 119.0h1.5v1.5h-1.5zM79.0 81.0h1.5v1.5h-1.5zM84.4 121.3h1.5v1.5h-1.5zM90.7 109.8h1.5v1.5h-1.5zM94.4 126.8h1.5v1.5h-1.5zM78.2 101.0h1.5v1.5h-1.5zM80.4 119.0h1.5v1.5h-1.5zM84.1 116.1h1.5v1.5h-1.5zM90.7 76.1h1.5v1.5h-1.5zM96.9 102.6h1.5v1.5h-1.5zM94.6 110.1h1.5v1.5h-1.5zM92.3 59.9h1.5v1.5h-1.5zM82.4 106.6h1.5v1.5h-1.5zM96.5 118.2h1.5v1.5h-1.5zM82.4 109.4h1.5v1.5h-1.5zM95.0 89.3h1.5v1.5h-1.5zM90.5 109.0h1.5v1.5h-1.5zM92.4 93.9h1.5v1.5h-1.5zM85.4 93.0h1.5v1.5h-1.5zM78.5 101.0h1.5v1.5h-1.5zM84.3 118.0h1.5v1.5h-1.5zM89.8 91.1h1.5v1.5h-1.5zM79.1 79.8h1.5v1.5h-1.5zM78.1 86.9h1.5v1.5h-1.5zM90.3 71.5h1.5v1.5h-1.5zM93.3 72.7h1.5v1.5h-1.5zM80.5 119.6h1.5v1.5h-1.5zM78.2 103.5h1.5v1.5h-1.5zM79.2 128.5h1.5v1.5h-1.5zM95.1 129.7h1.5v1.5h-1.5zM79.8 115.1h1.5v1.5h-1.5zM81.4 85.3h1.5v1.5h-1.5zM80.9 117.5h1.5v1.5h-1.5zM88.0 102.1h1.5v1.5h-1.5zM87.3 114.5h1.5v1.5h-1.5zM84.4 132.0h1.5v1.5h-1.5zM95.9 98.4h1.5v1.5h-1.5zM97.0 122.9h1.5v1.5h-1.5zM85.4 83.9h1.5v1.5h-1.5zM83.4 79.7h1.5v1.5h-1.5zM92.0 55.0h1.5v1.5h-1.5zM81.3 89.6h1.5v1.5h-1.5zM79.8 66.7h1.5v1.5h-1.5zM92.9 82.5h1.5v1.5h-1.5zM97.4 87.3h1.5v1.5h-1.5zM91.1 79.6h1.5v1.5h-1.5zM80.4 122.8h1.5v1.5h-1.5zM93.7 125.4h1.5v1.5h-1.5zM90.5 86.4h1.5v1.5h-1.5zM81.4 96.1h1.5v1.5h-1.5zM95.3 101.7h1.5v1.5h-1.5zM91.9 114.6h1.5v1.5h-1.5zM95.1 104.4h1.5v1.5h-1.5zM77.5 90.4h1.5v1.5h-1.5zM90.7 125.0h1.5v1.5h-1.5zM92.3 77.1h1.5v1.5h-1.5zM95.3 63.5h1.5v1.5h-1.5zM86.2 108.9h1.5v1.5h-1.5zM92.9 91.3h1.5v1.5h-1.5zM91.7 56.2h1.5v1.5h-1.5zM81.7 82.0h1.5v1.5h-1.5zM80.8 115.5h1.5v1.5h-1.5zM92.6 86.4h1.5v1.5h-1.5zM91.5 121.9h1.5v1.5h-1.5zM78.2 106.6h1.5v1.5h-1.5zM94.6 76.4h1.5v1.5h-1.5zM85.2 123.2h1.5v1.5h-1.5zM90.8 129.0h1.5v1.5h-1.5zM80.8 126.5h1.5v1.5h-1.5zM84.6 119.8h1.5v1.5h-1.5zM91.4 89.6h1.5v1.5h-1.5zM89.6 84.4h1.5v1.5h-1.5zM91.5 69.9h1.5v1.5h-1.5zM90.6 95.0h1.5v1.5h-1.5zM77.7 105.6h1.5v1.5h-1.5zM78.7 89.3h1.5v1.5h-1.5zM98.1 85.4h1.5v1.5h-1.5zM83.5 82.6h1.5v1.5h-1.5zM87.5 109.6h1.5v1.5h-1.5zM85.8 117.0h1.5v1.5h-1.5zM80.6 99.6h1.5v1.5h-1.5zM90.0 106.8h1.5v1.5h-1.5zM85.1 78.7h1.5v1.5h-1.5zM81.9 88.4h1.5v1.5h-1.5zM80.2 121.0h1.5v1.5h-1.5zM96.0 87.5h1.5v1.5h-1.5zM81.9 100.1h1.5v1.5h-1.5zM90.0 97.7h1.5v1.5h-1.5zM80.4 78.4h1.5v1.5h-1.5zM79.7 95.9h1.5v1.5h-1.5zM96.2 80.2h1.5v1.5h-1.5zM81.7 92.4h1.5v1.5h-1.5zM83.7 67.0h1.5v1.5h-1.5zM81.8 72.9h1.5v1.5h-1.5zM97.2 96.5h1.5v1.5h-1.5zM84.1 78.5h1.5v1.5h-1.5zM78.3 112.4h1.5v1.5h-1.5zM80.4 93.0h1.5v1.5h-1.5zM82.6 94.5h1.5v1.5h-1.5zM84.1 74.0h1.5v1.5h-1.5zM84.5 94.4h1.5v1.5h-1.5zM91.9 120.7h1.5v1.5h-1.5zM79.4 121.5h1.5v1.5h-1.5zM94.6 107.7h1.5v1.5h-1.5zM85.1 116.7h1.5v1.5h-1.5zM97.7 95.6h1.5v1.5h-1.5zM89.9 87.5h1.5v1.5h-1.5zM93.5 75.0h1.5v1.5h-1.5zM85.9 93.0h1.5v1.5h-1.5zM85.2 89.8h1.5v1.5h-1.5zM84.8 102.5h1.5v1.5h-1.5zM95.1 72.5h1.5v1.5h-1.5zM85.5 93.4h1.5v1.5h-1.5zM82.7 77.9h1.5v1.5h-1.5zM96.6 109.5h1.5v1.5h-1.5zM85.3 84.5h1.5v1.5h-1.5zM96.0 124.6h1.5v1.5h-1.5zM82.7 72.1h1.5v1.5h-1.5zM84.8 98.9h1.5v1.5h-1.5zM81.6 110.6h1.5v1.5h-1.5zM92.6 128.8h1.5v1.5h-1.5zM90.7 113.9h1.5v1.5h-1.5zM79.9 126.6h1.5v1.5h-1.5zM93.9 96.9h1.5v1.5h-1.5zM89.9 105.7h1.5v1.5h-1.5zM78.2 89.6h1.5v1.5h-1.5zM84.9 66.9h1.5v1.5h-1.5zM95.5 81.4h1.5v1.5h-1.5zM79.3 98.8h1.5v1.5h-1.5zM79.5 119.1h1.5v1.5h-1.5zM98.1 98.3h1.5v1.5h-1.5zM96.1 81.7h1.5v1.5h-1.5zM91.4 95.6h1.5v1.5h-1.5zM91.8 80.9h1.5v1.5h-1.5zM79.4 122.5h1.5v1.5h-1.5zM78.4 109.5h1.5v1.5h-1.5zM86.6 90.6h1.5v1.5h-1.5zM89.2 106.2h1.5v1.5h-1.5zM95.0 67.5h1.5v1.5h-1.5zM77.5 94.6h1.5v1.5h-1.5zM78.9 114.8h1.5v1.5h-1.5zM93.4 102.8h1.5v1.5h-1.5zM88.3 116.9h1.5v1.5h-1.5zM87.1 123.2h1.5v1.5h-1.5zM80.3 113.9h1.5v1.5h-1.5zM94.8 102.6h1.5v1.5h-1.5zM80.8 115.5h1.5v1.5h-1.5zM93.2 87.1h1.5v1.5h-1.5zM96.9 119.7h1.5v1.5h-1.5zM82.3 68.6h1.5v1.5h-1.5zM96.4 108.6h1.5v1.5h-1.5zM82.5 85.4h1.5v1.5h-1.5zM92.4 94.3h1.5v1.5h-1.5zM87.2 108.7h1.5v1.5h-1.5zM86.9 109.5h1.5v1.5h-1.5zM89.2 121.1h1.5v1.5h-1.5zM79.1 103.1h1.5v1.5h-1.5zM97.0 110.4h1.5v1.5h-1.5zM85.1 107.6h1.5v1.5h-1.5zM80.3 110.3h1.5v1.5h-1.5zM81.1 124.2h1.5v1.5h-1.5zM77.8 96.1h1.5v1.5h-1.5zM93.9 124.7h1.5v1.5h-1.5zM81.4 86.2h1.5v1.5h-1.5zM83.7 91.5h1.5v1.5h-1.5zM84.8 114.5h1.5v1.5h-1.5zM94.3 66.8h1.5v1.5h-1.5zM90.0 112.6h1.5v1.5h-1.5zM98.1 120.7h1.5v1.5h-1.5zM94.2 95.2h1.5v1.5h-1.5zM94.9 81.1h1.5v1.5h-1.5zM81.7 88.6h1.5v1.5h-1.5zM78.5 117.3h1.5v1.5h-1.5zM83.5 97.9h1.5v1.5h-1.5zM94.5 124.4h1.5v1.5h-1.5zM82.6 113.1h1.5v1.5h-1.5zM86.0 96.0h1.5v1.5h-1.5zM83.5 131.1h1.5v1.5h-1.5zM91.5 102.3h1.5v1.5h-1.5zM83.1 126.6h1.5v1.5h-1.5zM83.6 129.6h1.5v1.5h-1.5zM87.4 130.9h1.5v1.5h-1.5zM95.7 98.1h1.5v1.5h-1.5zM78.0 124.8h1.5v1.5h-1.5zM93.8 106.9h1.5v1.5h-1.5zM93.1 93.8h1.5v1.5h-1.5zM93.9 73.5h1.5v1.5h-1.5zM91.5 101.4h1.5v1.5h-1.5zM95.3 127.8h1.5v1.5h-1.5zM93.1 73.7h1.5v1.5h-1.5zM78.5 108.1h1.5v1.5h-1.5zM85.3 88.4h1.5v1.5h-1.5zM80.5 85.0h1.5v1.5h-1.5zM77.6 121.2h1.5v1.5h-1.5zM92.7 104.8h1.5v1.5h-1.5zM79.1 97.2h1.5v1.5h-1.5zM92.7 81.3h1.5v1.5h-1.5zM78.1 102.2h1.5v1.5h-1.5zM84.5 57.9h1.5v1.5h-1.5zM80.0 97.3h1.5v1.5h-1.5zM83.1 105.9h1.5v1.5h-1.5zM86.0 98.9h1.5v1.5h-1.5zM86.5 85.2h1.5v1.5h-1.5zM96.3 88.8h1.5v1.5h-1.5zM82.2 86.2h1.5v1.5h-1.5zM90.1 99.8h1.5v1.5h-1.5zM98.1 126.3h1.5v1.5h-1.5zM81.8 81.0h1.5v1.5h-1.5zM94.9 110.4h1.5v1.5h-1.5zM93.8 67.8h1.5v1.5h-1.5zM82.9 52.7h1.5v1.5h-1.5zM92.4 87.9h1.5v1.5h-1.5zM93.0 108.0h1.5v1.5h-1.5zM84.2 69.0h1.5v1.5h-1.5zM81.8 114.3h1.5v1.5h-1.5zM97.4 72.4h1.5v1.5h-1.5zM95.1 80.8h1.5v1.5h-1.5zM94.9 127.7h1.5v1.5h-1.5zM78.7 85.1h1.5v1.5h-1.5zM98.1 111.0h1.5v1.5h-1.5zM91.5 103.5h1.5v1.5h-1.5zM90.8 126.4h1.5v1.5h-1.5zM96.2 101.2h1.5v1.5h-1.5zM81.7 105.2h1.5v1.5h-1.5zM91.6 132.9h1.5v1.5h-1.5zM85.7 112.3h1.5v1.5h-1.5zM82.2 82.5h1.5v1.5h-1.5zM96.4 83.9h1.5v1.5h-1.5zM77.9 90.6h1.5v1.5h-1.5zM90.2 105.7h1.5v1.5h-1.5zM84.5 126.1h1.5v1.5h-1.5zM91.6 62.1h1.5v1.5h-1.5zM91.3 73.1h1.5v1.5h-1.5zM94.4 72.8h1.5v1.5h-1.5zM95.4 88.8h1.5v1.5h-1.5zM85.0 78.0h1.5v1.5h-1.5zM97.9 99.2h1.5v1.5h-1.5zM95.2 96.2h1.5v1.5h-1.5zM96.1 113.9h1.5v1.5h-1.5zM77.7 89.4h1.5v1.5h-1.5zM85.7 107.8h1.5v1.5h-1.5zM91.8 96.8h1.5v1.5h-1.5zM80.0 91.2h1.5v1.5h-1.5zM81.5 97.7h1.5v1.5h-1.5zM82.2 66.8h1.5v1.5h-1.5zM83.5 94.6h1.5v1.5h-1.5zM88.3 126.3h1.5v1.5h-1.5zM84.7 105.5h1.5v1.5h-1.5zM94.4 87.2h1.5v1.5h-1.5zM95.5 90.7h1.5v1.5h-1.5zM78.6 80.4h1.5v1.5h-1.5zM98.0 84.9h1.5v1.5h-1.5zM80.7 97.2h1.5v1.5h-1.5zM80.2 77.6h1.5v1.5h-1.5zM88.1 104.6h1.5v1.5h-1.5zM78.9 79.6h1.5v1.5h-1.5zM82.9 87.1h1.5v1.5h-1.5zM84.1 79.9h1.5v1.5h-1.5zM96.3 62.3h1.5v1.5h-1.5zM82.7 76.1h1.5v1.5h-1.5zM79.3 125.0h1.5v1.5h-1.5zM97.2 123.0h1.5v1.5h-1.5zM92.4 73.7h1.5v1.5h-1.5zM78.7 84.6h1.5v1.5h-1.5zM94.5 130.2h1.5v1.5h-1.5zM92.0 128.2h1.5v1.5h-1.5zM88.4 120.2h1.5v1.5h-1.5zM92.4 82.7h1.5v1.5h-1.5zM84.3 99.2h1.5v1.5h-1.5zM88.4 113.4h1.5v1.5h-1.5zM83.4 73.9h1.5v1.5h-1.5zM85.1 116.7h1.5v1.5h-1.5zM77.5 77.1h1.5v1.5h-1.5zM89.7 126.3h1.5v1.5h-1.5zM80.8 83.8h1.5v1.5h-1.5zM97.3 111.4h1.5v1.5h-1.5zM82.3 129.7h1.5v1.5h-1.5zM87.7 101.6h1.5v1.5h-1.5zM85.1 70.4h1.5v1.5h-1.5zM88.5 123.2h1.5v1.5h-1.5zM92.1 113.9h1.5v1.5h-1.5zM91.7 108.3h1.5v1.5h-1.5zM80.7 81.6h1.5v1.5h-1.5zM96.5 127.3h1.5v1.5h-1.5zM85.1 74.5h1.5v1.5h-1.5zM78.8 84.7h1.5v1.5h-1.5zM84.8 124.1h1.5v1.5h-1.5zM84.9 85.9h1.5v1.5h-1.5zM91.1 121.4h1.5v1.5h-1.5zM82.9 73.1h1.5v1.5h-1.5zM89.0 87.7h1.5v1.5h-1.5zM92.3 108.7h1.5v1.5h-1.5zM81.6 98.8h1.5v1.5h-1.5zM83.3 84.6h1.5v1.5h-1.5zM86.1 127.7h1.5v1.5h-1.5zM80.0 67.9h1.5v1.5h-1.5zM85.6 72.7h1.5v1.5h-1.5zM81.0 116.0h1.5v1.5h-1.5zM79.2 100.6h1.5v1.5h-1.5zM79.8 98.0h1.5v1.5h-1.5zM80.3 85.9h1.5v1.5h-1.5zM94.1 67.8h1.5v1.5h-1.5zM80.3 99.4h1.5v1.5h-1.5zM78.0 85.8h1.5v1.5h-1.5zM91.6 63.5h1.5v1.5h-1.5zM94.8 81.8h1.5v1.5h-1.5zM94.2 126.6h1.5v1.5h-1.5zM93.3 91.0h1.5v1.5h-1.5zM98.0 89.1h1.5v1.5h-1.5zM97.6 84.6h1.5v1.5h-1.5zM95.8 86.9h1.5v1.5h-1.5zM78.8 95.7h1.5v1.5h-1.5zM97.3 100.3h1.5v1.5h-1.5zM78.8 104.3h1.5v1.5h-1.5zM79.1 98.2h1.5v1.5h-1.5zM95.2 94.8h1.5v1.5h-1.5zM85.9 118.6h1.5v1.5h-1.5zM87.0 124.9h1.5v1.5h-1.5zM86.3 120.0h1.5v1.5h-1.5zM94.7 97.9h1.5v1.5h-1.5zM80.8 114.1h1.5v1.5h-1.5zM94.9 92.9h1.5v1.5h-1.5zM78.4 120.6h1.5v1.5h-1.5zM86.4 84.8h1.5v1.5h-1.5zM82.8 129.0h1.5v1.5h-1.5zM89.1 118.1h1.5v1.5h-1.5zM81.7 130.9h1.5v1.5h-1.5zM78.0 121.4h1.5v1.5h-1.5zM77.8 111.2h1.5v1.5h-1.5zM82.6 89.0h1.5v1.5h-1.5zM83.3 94.5h1.5v1.5h-1.5zM83.5 72.0h1.5v1.5h-1.5zM91.6 72.3h1.5v1.5h-1.5zM84.6 107.6h1.5v1.5h-1.5zM90.9 106.4h1.5v1.5h-1.5zM79.8 111.5h1.5v1.5h-1.5zM79.5 84.1h1.5v1.5h-1.5zM80.4 105.9h1.5v1.5h-1.5zM96.8 87.9h1.5v1.5h-1.5zM94.8 60.6h1.5v1.5h-1.5zM90.4 88.1h1.5v1.5h-1.5zM84.2 113.3h1.5v1.5h-1.5zM90.8 64.1h1.5v1.5h-1.5zM92.4 101.1h1.5v1.5h-1.5zM88.8 97.5h1.5v1.5h-1.5zM91.6 88.8h1.5v1.5h-1.5zM88.9 98.3h1.5v1.5h-1.5zM95.9 69.5h1.5v1.5h-1.5zM83.5 101.1h1.5v1.5h-1.5zM81.2 83.3h1.5v1.5h-1.5zM79.2 117.6h1.5v1.5h-1.5zM81.5 124.2h1.5v1.5h-1.5zM90.4 89.0h1.5v1.5h-1.5zM90.2 82.5h1.5v1.5h-1.5zM81.9 75.8h1.5v1.5h-1.5zM89.6 84.5h1.5v1.5h-1.5zM93.4 107.9h1.5v1.5h-1.5zM85.2 89.5h1.5v1.5h-1.5zM81.3 66.4h1.5v1.5h-1.5zM97.9 113.5h1.5v1.5h-1.5zM85.4 124.0h1.5v1.5h-1.5zM77.8 107.1h1.5v1.5h-1.5zM93.7 100.4h1.5v1.5h-1.5zM92.9 94.0h1.5v1.5h-1.5zM91.3 91.8h1.5v1.5h-1.5zM79.3 107.1h1.5v1.5h-1.5zM97.6 109.0h1.5v1.5h-1.5zM80.9 120.0h1.5v1.5h-1.5zM95.9 117.9h1.5v1.5h-1.5zM92.3 57.3h1.5v1.5h-1.5zM79.3 76.5h1.5v1.5h-1.5zM77.6 101.1h1.5v1.5h-1.5zM90.7 96.2h1.5v1.5h-1.5zM80.9 80.8h1.5v1.5h-1.5zM79.8 93.6h1.5v1.5h-1.5zM87.3 100.0h1.5v1.5h-1.5zM84.2 71.3h1.5v1.5h-1.5zM78.4 90.6h1.5v1.5h-1.5zM87.6 115.0h1.5v1.5h-1.5zM86.6 99.2h1.5v1.5h-1.5zM90.0 95.5h1.5v1.5h-1.5zM94.0 66.7h1.5v1.5h-1.5zM82.4 101.9h1.5v1.5h-1.5zM82.7 82.7h1.5v1.5h-1.5zM83.0 76.9h1.5v1.5h-1.5zM86.6 99.6h1.5v1.5h-1.5zM97.2 77.7h1.5v1.5h-1.5zM94.5 116.6h1.5v1.5h-1.5zM84.0 94.2h1.5v1.5h-1.5zM97.6 103.4h1.5v1.5h-1.5zM96.4 97.1h1.5v1.5h-1.5zM82.4 123.0h1.5v1.5h-1.5zM96.7 97.1h1.5v1.5h-1.5zM81.6 114.7h1.5v1.5h-1.5zM89.7 123.2h1.5v1.5h-1.5zM82.5 81.1h1.5v1.5h-1.5zM82.2 78.1h1.5v1.5h-1.5zM89.6 104.6h1.5v1.5h-1.5zM98.2 119.1h1.5v1.5h-1.5zM79.2 115.7h1.5v1.5h-1.5zM93.4 96.9h1.5v1.5h-1.5zM80.5 97.5h1.5v1.5h-1.5zM86.7 106.9h1.5v1.5h-1.5zM92.1 107.7h1.5v1.5h-1.5zM93.7 123.8h1.5v1.5h-1.5zM80.1 98.0h1.5v1.5h-1.5zM83.4 68.4h1.5v1.5h-1.5zM86.5 95.7h1.5v1.5h-1.5zM93.4 102.0h1.5v1.5h-1.5zM91.8 101.8h1.5v1.5h-1.5zM77.6 104.5h1.5v1.5h-1.5zM88.1 109.8h1.5v1.5h-1.5zM85.8 108.9h1.5v1.5h-1.5zM89.9 102.9h1.5v1.5h-1.5zM93.7 87.1h1.5v1.5h-1.5zM79.6 113.3h1.5v1.5h-1.5zM97.2 101.9h1.5v1.5h-1.5zM92.8 119.6h1.5v1.5h-1.5zM82.1 119.2h1.5v1.5h-1.5zM78.0 104.7h1.5v1.5h-1.5zM77.7 104.1h1.5v1.5h-1.5zM91.2 124.0h1.5v1.5h-1.5zM82.3 75.7h1.5v1.5h-1.5zM93.4 73.3h1.5v1.5h-1.5zM90.0 86.5h1.5v1.5h-1.5zM81.3 92.4h1.5v1.5h-1.5zM89.8 94.8h1.5v1.5h-1.5zM90.7 102.9h1.5v1.5h-1.5zM95.0 95.5h1.5v1.5h-1.5zM95.8 71.0h1.5v1.5h-1.5zM91.8 89.2h1.5v1.5h-1.5zM82.6 108.7h1.5v1.5h-1.5zM90.2 85.8h1.5v1.5h-1.5zM90.1 108.1h1.5v1.5h-1.5zM91.9 65.7h1.5v1.5h-1.5zM84.1 100.2h1.5v1.5h-1.5zM90.6 70.7h1.5v1.5h-1.5zM93.4 60.1h1.5v1.5h-1.5zM86.8 105.6h1.5v1.5h-1.5zM91.0 100.3h1.5v1.5h-1.5zM85.0 93.0h1.5v1.5h-1.5zM97.2 122.1h1.5v1.5h-1.5zM96.2 106.9h1.5v1.5h-1.5zM77.8 91.6h1.5v1.5h-1.5zM78.9 97.2h1.5v1.5h-1.5zM94.6 60.9h1.5v1.5h-1.5zM81.2 105.3h1.5v1.5h-1.5zM83.5 111.2h1.5v1.5h-1.5zM78.7 101.0h1.5v1.5h-1.5zM92.5 92.1h1.5v1.5h-1.5zM95.6 91.9h1.5v1.5h-1.5zM91.6 85.5h1.5v1.5h-1.5zM81.7 76.5h1.5v1.5h-1.5zM90.5 107.8h1.5v1.5h-1.5zM87.2 103.6h1.5v1.5h-1.5zM84.8 112.1h1.5v1.5h-1.5zM90.1 87.9h1.5v1.5h-1.5zM83.4 69.1h1.5v1.5h-1.5zM82.5 72.2h1.5v1.5h-1.5zM91.7 116.2h1.5v1.5h-1.5zM85.5 98.0h1.5v1.5h-1.5zM84.4 102.0h1.5v1.5h-1.5zM79.4 83.0h1.5v1.5h-1.5zM84.8 68.5h1.5v1.5h-1.5zM95.7 90.5h1.5v1.5h-1.5zM94.9 93.7h1.5v1.5h-1.5zM89.8 126.3h1.5v1.5h-1.5zM85.0 132.4h1.5v1.5h-1.5zM93.1 123.6h1.5v1.5h-1.5zM86.2 97.4h1.5v1.5h-1.5zM80.5 87.5h1.5v1.5h-1.5zM82.3 73.7h1.5v1.5h-1.5zM86.8 112.8h1.5v1.5h-1.5zM83.9 109.5h1.5v1.5h-1.5zM97.0 84.9h1.5v1.5h-1.5zM91.5 115.0h1.5v1.5h-1.5zM83.8 115.7h1.5v1.5h-1.5zM83.4 92.0h1.5v1.5h-1.5zM93.2 116.9h1.5v1.5h-1.5zM79.4 121.7h1.5v1.5h-1.5zM87.7 111.7h1.5v1.5h-1.5zM93.8 105.4h1.5v1.5h-1.5zM78.0 91.4h1.5v1.5h-1.5zM85.6 98.6h1.5v1.5h-1.5zM88.7 119.3h1.5v1.5h-1.5zM79.0 63.0h1.5v1.5h-1.5zM90.0 87.1h1.5v1.5h-1.5zM78.3 92.7h1.5v1.5h-1.5zM87.4 109.8h1.5v1.5h-1.5zM93.7 102.9h1.5v1.5h-1.5zM78.2 93.8h1.5v1.5h-1.5zM97.0 100.5h1.5v1.5h-1.5zM91.6 80.7h1.5v1.5h-1.5zM86.0 83.3h1.5v1.5h-1.5zM84.6 96.5h1.5v1.5h-1.5zM86.4 97.0h1.5v1.5h-1.5zM78.6 120.8h1.5v1.5h-1.5zM85.5 107.3h1.5v1.5h-1.5zM93.2 105.7h1.5v1.5h-1.5zM95.4 126.4h1.5v1.5h-1.5zM91.2 65.8h1.5v1.5h-1.5zM90.2 102.7h1.5v1.5h-1.5zM81.2 115.8h1.5v1.5h-1.5zM94.0 87.5h1.5v1.5h-1.5zM94.7 85.5h1.5v1.5h-1.5zM81.2 93.5h1.5v1.5h-1.5zM87.0 119.0h1.5v1.5h-1.5zM83.0 128.2h1.5v1.5h-1.5zM90.9 78.7h1.5v1.5h-1.5zM82.7 93.6h1.5v1.5h-1.5zM96.7 93.2h1.5v1.5h-1.5zM87.1 109.3h1.5v1.5h-1.5zM78.9 99.6h1.5v1.5h-1.5zM93.0 79.1h1.5v1.5h-1.5zM81.1 81.5h1.5v1.5h-1.5zM90.4 102.6h1.5v1.5h-1.5zM92.7 121.5h1.5v1.5h-1.5zM78.3 106.3h1.5v1.5h-1.5zM82.2 123.6h1.5v1.5h-1.5zM94.9 112.8h1.5v1.5h-1.5zM93.1 132.1h1.5v1.5h-1.5zM81.0 129.7h1.5v1.5h-1.5zM80.8 71.7h1.5v1.5h-1.5zM93.3 71.0h1.5v1.5h-1.5zM97.6 81.1h1.5v1.5h-1.5zM94.7 74.5h1.5v1.5h-1.5zM90.7 75.2h1.5v1.5h-1.5zM95.7 107.0h1.5v1.5h-1.5zM78.0 92.8h1.5v1.5h-1.5zM93.2 94.1h1.5v1.5h-1.5zM81.9 106.7h1.5v1.5h-1.5zM85.0 106.6h1.5v1.5h-1.5zM78.6 96.8h1.5v1.5h-1.5zM93.1 125.1h1.5v1.5h-1.5zM83.3 102.3h1.5v1.5h-1.5zM83.6 131.3h1.5v1.5h-1.5zM86.8 128.2h1.5v1.5h-1.5zM78.0 107.6h1.5v1.5h-1.5zM78.9 102.6h1.5v1.5h-1.5zM88.3 119.2h1.5v1.5h-1.5zM87.5 104.1h1.5v1.5h-1.5zM89.6 88.5h1.5v1.5h-1.5zM82.8 83.7h1.5v1.5h-1.5zM81.7 86.2h1.5v1.5h-1.5zM98.0 115.1h1.5v1.5h-1.5zM90.5 121.0h1.5v1.5h-1.5zM81.1 99.5h1.5v1.5h-1.5zM96.6 78.4h1.5v1.5h-1.5zM88.5 127.7h1.5v1.5h-1.5zM79.8 75.8h1.5v1.5h-1.5zM83.7 93.0h1.5v1.5h-1.5zM93.6 95.4h1.5v1.5h-1.5zM97.6 90.5h1.5v1.5h-1.5zM78.0 84.0h1.5v1.5h-1.5zM84.5 124.9h1.5v1.5h-1.5zM79.2 88.7h1.5v1.5h-1.5zM97.0 124.1h1.5v1.5h-1.5zM93.6 95.0h1.5v1.5h-1.5zM93.7 117.9h1.5v1.5h-1.5zM80.4 126.2h1.5v1.5h-1.5zM86.4 128.2h1.5v1.5h-1.5zM93.2 117.5h1.5v1.5h-1.5zM79.6 92.1h1.5v1.5h-1.5zM89.6 101.2h1.5v1.5h-1.5zM84.7 99.6h1.5v1.5h-1.5zM79.0 86.4h1.5v1.5h-1.5zM90.4 113.4h1.5v1.5h-1.5zM87.0 125.1h1.5v1.5h-1.5zM80.3 97.2h1.5v1.5h-1.5zM88.6 106.5h1.5v1.5h-1.5zM92.1 125.9h1.5v1.5h-1.5zM95.0 110.1h1.5v1.5h-1.5zM90.5 122.6h1.5v1.5h-1.5zM96.4 126.0h1.5v1.5h-1.5zM81.3 85.3h1.5v1.5h-1.5zM80.4 112.8h1.5v1.5h-1.5zM90.0 80.7h1.5v1.5h-1.5zM95.5 77.5h1.5v1.5h-1.5zM95.2 88.7h1.5v1.5h-1.5zM90.3 80.7h1.5v1.5h-1.5zM89.0 124.2h1.5v1.5h-1.5zM78.6 95.6h1.5v1.5h-1.5zM79.2 118.7h1.5v1.5h-1.5zM97.5 104.7h1.5v1.5h-1.5zM77.6 117.3h1.5v1.5h-1.5zM78.8 114.5h1.5v1.5h-1.5zM77.8 121.0h1.5v1.5h-1.5zM96.7 77.2h1.5v1.5h-1.5zM93.6 105.6h1.5v1.5h-1.5zM92.8 99.0h1.5v1.5h-1.5zM79.8 85.2h1.5v1.5h-1.5zM82.7 96.9h1.5v1.5h-1.5zM96.4 86.1h1.5v1.5h-1.5zM91.9 66.4h1.5v1.5h-1.5zM89.8 90.8h1.5v1.5h-1.5zM88.9 114.0h1.5v1.5h-1.5zM81.4 98.0h1.5v1.5h-1.5zM83.9 133.2h1.5v1.5h-1.5zM81.8 95.0h1.5v1.5h-1.5zM85.7 122.7h1.5v1.5h-1.5zM91.8 69.5h1.5v1.5h-1.5zM79.4 99.6h1.5v1.5h-1.5zM88.0 100.1h1.5v1.5h-1.5zM98.0 85.8h1.5v1.5h-1.5zM91.3 77.2h1.5v1.5h-1.5zM98.2 116.7h1.5v1.5h-1.5zM94.5 67.1h1.5v1.5h-1.5zM82.2 93.1h1.5v1.5h-1.5zM96.7 105.7h1.5v1.5h-1.5zM90.2 69.1h1.5v1.5h-1.5zM83.6 81.0h1.5v1.5h-1.5zM97.8 123.5h1.5v1.5h-1.5zM90.5 79.2h1.5v1.5h-1.5zM83.3 125.5h1.5v1.5h-1.5zM81.1 107.8h1.5v1.5h-1.5zM80.5 123.5h1.5v1.5h-1.5zM91.7 90.2h1.5v1.5h-1.5zM97.8 111.8h1.5v1.5h-1.5zM93.6 79.2h1.5v1.5h-1.5zM84.6 128.1h1.5v1.5h-1.5zM79.2 93.5h1.5v1.5h-1.5zM97.3 102.0h1.5v1.5h-1.5zM93.9 86.9h1.5v1.5h-1.5zM91.2 83.6h1.5v1.5h-1.5zM92.5 122.8h1.5v1.5h-1.5zM79.3 111.0h1.5v1.5h-1.5zM81.0 124.8h1.5v1.5h-1.5zM80.1 94.3h1.5v1.5h-1.5zM85.0 84.0h1.5v1.5h-1.5zM96.5 82.5h1.5v1.5h-1.5zM80.3 96.5h1.5v1.5h-1.5zM82.1 82.5h1.5v1.5h-1.5zM84.8 117.8h1.5v1.5h-1.5zM83.0 92.7h1.5v1.5h-1.5zM78.6 123.7h1.5v1.5h-1.5zM90.4 121.9h1.5v1.5h-1.5zM88.5 96.1h1.5v1.5h-1.5zM96.7 117.6h1.5v1.5h-1.5zM92.8 98.8h1.5v1.5h-1.5zM81.9 73.7h1.5v1.5h-1.5zM87.3 105.4h1.5v1.5h-1.5zM92.5 124.0h1.5v1.5h-1.5zM86.9 107.0h1.5v1.5h-1.5zM81.6 87.6h1.5v1.5h-1.5zM78.3 120.4h1.5v1.5h-1.5zM94.8 79.5h1.5v1.5h-1.5zM95.9 107.4h1.5v1.5h-1.5zM94.8 129.8h1.5v1.5h-1.5zM84.5 99.4h1.5v1.5h-1.5zM77.6 93.5h1.5v1.5h-1.5zM81.8 105.9h1.5v1.5h-1.5zM81.1 99.2h1.5v1.5h-1.5zM82.0 112.7h1.5v1.5h-1.5zM98.1 112.7h1.5v1.5h-1.5zM97.8 92.9h1.5v1.5h-1.5zM90.7 89.3h1.5v1.5h-1.5zM98.2 82.2h1.5v1.5h-1.5zM90.2 128.8h1.5v1.5h-1.5zM81.8 72.1h1.5v1.5h-1.5zM91.2 130.3h1.5v1.5h-1.5zM96.9 100.3h1.5v1.5h-1.5zM96.6 77.5h1.5v1.5h-1.5zM81.1 108.4h1.5v1.5h-1.5zM84.1 133.1h1.5v1.5h-1.5zM97.6 85.8h1.5v1.5h-1.5zM83.6 122.9h1.5v1.5h-1.5zM86.3 105.2h1.5v1.5h-1.5zM85.9 76.7h1.5v1.5h-1.5zM79.1 81.6h1.5v1.5h-1.5zM80.2 68.1h1.5v1.5h-1.5zM97.4 96.8h1.5v1.5h-1.5zM89.2 96.9h1.5v1.5h-1.5zM84.0 63.3h1.5v1.5h-1.5zM78.9 105.7h1.5v1.5h-1.5zM92.1 67.1h1.5v1.5h-1.5zM93.7 78.6h1.5v1.5h-1.5zM84.4 125.1h1.5v1.5h-1.5zM92.5 75.1h1.5v1.5h-1.5zM81.5 103.0h1.5v1.5h-1.5zM83.5 77.0h1.5v1.5h-1.5zM96.4 79.7h1.5v1.5h-1.5zM97.7 126.0h1.5v1.5h-1.5zM85.9 102.6h1.5v1.5h-1.5zM79.6 112.9h1.5v1.5h-1.5zM79.2 101.7h1.5v1.5h-1.5zM84.5 94.0h1.5v1.5h-1.5zM80.7 128.3h1.5v1.5h-1.5zM91.8 95.1h1.5v1.5h-1.5zM86.0 77.3h1.5v1.5h-1.5zM78.6 111.9h1.5v1.5h-1.5zM84.4 92.3h1.5v1.5h-1.5zM83.6 90.6h1.5v1.5h-1.5zM92.3 104.1h1.5v1.5h-1.5zM92.6 122.9h1.5v1.5h-1.5zM84.1 85.6h1.5v1.5h-1.5zM90.2 91.4h1.5v1.5h-1.5zM95.4 110.4h1.5v1.5h-1.5zM81.8 123.5h1.5v1.5h-1.5zM79.0 97.9h1.5v1.5h-1.5zM95.8 75.1h1.5v1.5h-1.5zM95.1 113.6h1.5v1.5h-1.5zM85.4 74.9h1.5v1.5h-1.5zM90.6 104.4h1.5v1.5h-1.5zM79.3 95.6h1.5v1.5h-1.5zM91.1 80.7h1.5v1.5h-1.5zM96.4 123.2h1.5v1.5h-1.5zM85.1 70.5h1.5v1.5h-1.5zM87.2 105.8h1.5v1.5h-1.5zM94.1 109.0h1.5v1.5h-1.5zM92.6 129.9h1.5v1.5h-1.5zM84.9 72.3h1.5v1.5h-1.5zM85.3 92.4h1.5v1.5h-1.5zM91.9 78.4h1.5v1.5h-1.5zM90.4 108.6h1.5v1.5h-1.5zM82.2 80.8h1.5v1.5h-1.5zM79.3 71.0h1.5v1.5h-1.5zM93.7 78.4h1.5v1.5h-1.5zM92.9 130.7h1.5v1.5h-1.5zM88.3 128.9h1.5v1.5h-1.5zM79.9 98.1h1.5v1.5h-1.5zM82.0 124.4h1.5v1.5h-1.5zM80.0 59.7h1.5v1.5h-1.5zM80.3 118.2h1.5v1.5h-1.5zM95.7 85.4h1.5v1.5h-1.5zM97.5 81.8h1.5v1.5h-1.5zM95.0 74.5h1.5v1.5h-1.5zM96.2 62.8h1.5v1.5h-1.5zM93.3 96.5h1.5v1.5h-1.5zM92.2 92.5h1.5v1.5h-1.5zM96.9 89.5h1.5v1.5h-1.5zM84.1 105.0h1.5v1.5h-1.5zM82.0 91.2h1.5v1.5h-1.5zM96.4 124.7h1.5v1.5h-1.5zM83.4 87.7h1.5v1.5h-1.5zM98.1 81.4h1.5v1.5h-1.5zM88.5 94.9h1.5v1.5h-1.5zM91.6 81.0h1.5v1.5h-1.5zM94.8 81.5h1.5v1.5h-1.5zM94.4 115.0h1.5v1.5h-1.5zM95.1 118.6h1.5v1.5h-1.5zM91.1 87.0h1.5v1.5h-1.5zM80.8 75.3h1.5v1.5h-1.5zM97.1 123.6h1.5v1.5h-1.5zM92.0 103.4h1.5v1.5h-1.5zM86.0 114.5h1.5v1.5h-1.5zM95.1 129.6h1.5v1.5h-1.5zM92.5 82.3h1.5v1.5h-1.5zM86.1 126.4h1.5v1.5h-1.5zM94.9 129.8h1.5v1.5h-1.5zM80.8 113.8h1.5v1.5h-1.5zM94.4 101.4h1.5v1.5h-1.5zM85.5 74.6h1.5v1.5h-1.5zM95.3 104.4h1.5v1.5h-1.5zM93.4 74.4h1.5v1.5h-1.5zM78.9 107.9h1.5v1.5h-1.5zM85.8 94.2h1.5v1.5h-1.5zM81.5 120.5h1.5v1.5h-1.5zM83.1 66.0h1.5v1.5h-1.5zM97.5 94.1h1.5v1.5h-1.5zM85.1 68.6h1.5v1.5h-1.5zM91.7 89.3h1.5v1.5h-1.5zM86.4 88.0h1.5v1.5h-1.5zM93.6 109.2h1.5v1.5h-1.5zM97.4 98.8h1.5v1.5h-1.5zM87.9 121.9h1.5v1.5h-1.5zM85.2 94.6h1.5v1.5h-1.5zM88.2 99.9h1.5v1.5h-1.5zM87.7 99.7h1.5v1.5h-1.5zM78.5 100.5h1.5v1.5h-1.5zM82.7 84.5h1.5v1.5h-1.5zM97.5 93.6h1.5v1.5h-1.5zM90.3 80.9h1.5v1.5h-1.5zM81.5 103.4h1.5v1.5h-1.5zM89.6 91.4h1.5v1.5h-1.5zM86.6 98.4h1.5v1.5h-1.5zM83.0 61.7h1.5v1.5h-1.5zM82.1 64.2h1.5v1.5h-1.5zM95.2 74.0h1.5v1.5h-1.5zM90.2 118.2h1.5v1.5h-1.5zM89.7 99.5h1.5v1.5h-1.5zM96.3 75.0h1.5v1.5h-1.5zM91.5 103.3h1.5v1.5h-1.5zM92.9 97.5h1.5v1.5h-1.5zM96.0 90.6h1.5v1.5h-1.5zM91.3 122.5h1.5v1.5h-1.5zM88.0 118.7h1.5v1.5h-1.5zM83.6 107.6h1.5v1.5h-1.5zM83.3 94.5h1.5v1.5h-1.5zM90.9 80.1h1.5v1.5h-1.5zM85.6 117.2h1.5v1.5h-1.5zM93.1 62.4h1.5v1.5h-1.5zM95.8 110.0h1.5v1.5h-1.5zM80.2 87.9h1.5v1.5h-1.5zM84.7 89.6h1.5v1.5h-1.5zM90.3 78.3h1.5v1.5h-1.5zM94.7 102.3h1.5v1.5h-1.5zM90.8 94.3h1.5v1.5h-1.5zM91.6 110.3h1.5v1.5h-1.5zM97.4 104.5h1.5v1.5h-1.5zM97.6 119.9h1.5v1.5h-1.5zM82.7 106.6h1.5v1.5h-1.5zM80.2 81.1h1.5v1.5h-1.5zM79.7 91.3h1.5v1.5h-1.5zM78.8 87.0h1.5v1.5h-1.5zM78.1 110.3h1.5v1.5h-1.5zM78.2 109.3h1.5v1.5h-1.5zM85.0 110.0h1.5v1.5h-1.5zM87.3 100.4h1.5v1.5h-1.5zM81.3 97.8h1.5v1.5h-1.5zM92.8 95.9h1.5v1.5h-1.5zM81.9 106.7h1.5v1.5h-1.5zM86.1 101.8h1.5v1.5h-1.5zM81.8 90.3h1.5v1.5h-1.5zM90.1 120.6h1.5v1.5h-1.5zM95.2 64.5h1.5v1.5h-1.5zM79.8 111.0h1.5v1.5h-1.5zM97.1 99.5h1.5v1.5h-1.5zM95.5 80.2h1.5v1.5h-1.5zM94.9 93.6h1.5v1.5h-1.5zM95.3 83.3h1.5v1.5h-1.5zM88.2 123.5h1.5v1.5h-1.5zM96.2 111.5h1.5v1.5h-1.5zM93.6 129.3h1.5v1.5h-1.5zM87.8 107.1h1.5v1.5h-1.5zM88.9 94.9h1.5v1.5h-1.5zM93.2 114.9h1.5v1.5h-1.5zM82.4 108.0h1.5v1.5h-1.5zM82.9 108.1h1.5v1.5h-1.5zM88.2 128.2h1.5v1.5h-1.5zM89.8 87.5h1.5v1.5h-1.5zM85.4 130.8h1.5v1.5h-1.5zM79.7 114.9h1.5v1.5h-1.5zM92.8 68.8h1.5v1.5h-1.5zM80.8 116.1h1.5v1.5h-1.5zM89.3 111.4h1.5v1.5h-1.5zM96.2 92.4h1.5v1.5h-1.5zM91.8 90.5h1.5v1.5h-1.5zM84.3 79.4h1.5v1.5h-1.5zM90.9 118.2h1.5v1.5h-1.5zM92.1 130.5h1.5v1.5h-1.5zM88.9 95.2h1.5v1.5h-1.5zM96.4 93.5h1.5v1.5h-1.5zM93.0 86.8h1.5v1.5h-1.5zM88.0 107.7h1.5v1.5h-1.5zM83.7 124.2h1.5v1.5h-1.5zM88.3 101.1h1.5v1.5h-1.5zM89.9 96.0h1.5v1.5h-1.5zM94.7 105.5h1.5v1.5h-1.5zM95.9 105.4h1.5v1.5h-1.5zM97.0 98.9h1.5v1.5h-1.5zM88.6 112.0h1.5v1.5h-1.5zM86.7 109.6h1.5v1.5h-1.5zM79.1 94.1h1.5v1.5h-1.5zM79.4 79.1h1.5v1.5h-1.5zM84.0 108.4h1.5v1.5h-1.5zM92.5 102.4h1.5v1.5h-1.5zM96.6 77.3h1.5v1.5h-1.5zM91.8 108.5h1.5v1.5h-1.5zM90.8 109.9h1.5v1.5h-1.5zM95.1 91.4h1.5v1.5h-1.5zM95.6 92.7h1.5v1.5h-1.5zM95.4 98.7h1.5v1.5h-1.5zM97.6 100.8h1.5v1.5h-1.5zM91.1 112.1h1.5v1.5h-1.5zM92.8 62.6h1.5v1.5h-1.5zM93.2 62.0h1.5v1.5h-1.5zM79.7 77.0h1.5v1.5h-1.5zM94.0 76.9h1.5v1.5h-1.5zM91.0 129.1h1.5v1.5h-1.5zM77.7 104.8h1.5v1.5h-1.5zM77.7 88.0h1.5v1.5h-1.5zM77.5 97.4h1.5v1.5h-1.5zM82.9 95.1h1.5v1.5h-1.5zM79.9 117.3h1.5v1.5h-1.5zM92.7 60.8h1.5v1.5h-1.5zM86.0 117.9h1.5v1.5h-1.5zM91.0 104.6h1.5v1.5h-1.5zM94.7 66.7h1.5v1.5h-1.5zM81.2 122.9h1.5v1.5h-1.5zM96.4 108.8h1.5v1.5h-1.5zM91.7 118.2h1.5v1.5h-1.5zM91.2 114.5h1.5v1.5h-1.5zM80.6 77.4h1.5v1.5h-1.5zM90.0 99.7h1.5v1.5h-1.5zM88.9 112.0h1.5v1.5h-1.5zM91.1 110.8h1.5v1.5h-1.5zM85.4 123.8h1.5v1.5h-1.5zM78.3 107.7h1.5v1.5h-1.5zM85.3 71.5h1.5v1.5h-1.5zM78.3 86.4h1.5v1.5h-1.5zM84.9 111.6h1.5v1.5h-1.5zM90.2 119.9h1.5v1.5h-1.5zM91.6 77.1h1.5v1.5h-1.5zM98.1 112.2h1.5v1.5h-1.5zM88.2 106.0h1.5v1.5h-1.5zM86.0 98.0h1.5v1.5h-1.5zM96.3 102.6h1.5v1.5h-1.5zM94.4 85.4h1.5v1.5h-1.5zM91.0 100.9h1.5v1.5h-1.5zM98.2 86.4h1.5v1.5h-1.5zM92.2 89.7h1.5v1.5h-1.5zM93.0 60.8h1.5v1.5h-1.5zM85.9 79.3h1.5v1.5h-1.5zM91.9 99.7h1.5v1.5h-1.5zM80.0 97.8h1.5v1.5h-1.5zM93.1 68.1h1.5v1.5h-1.5zM77.7 85.2h1.5v1.5h-1.5zM84.8 94.4h1.5v1.5h-1.5zM83.4 116.3h1.5v1.5h-1.5zM91.9 90.5h1.5v1.5h-1.5zM96.5 78.8h1.5v1.5h-1.5zM77.9 102.7h1.5v1.5h-1.5zM85.8 110.9h1.5v1.5h-1.5zM78.8 106.4h1.5v1.5h-1.5zM88.9 127.3h1.5v1.5h-1.5zM84.9 73.4h1.5v1.5h-1.5zM83.5 66.8h1.5v1.5h-1.5zM95.5 100.1h1.5v1.5h-1.5zM84.3 79.1h1.5v1.5h-1.5zM97.3 74.6h1.5v1.5h-1.5zM91.6 113.3h1.5v1.5h-1.5zM92.8 97.1h1.5v1.5h-1.5zM78.2 89.9h1.5v1.5h-1.5zM81.2 89.9h1.5v1.5h-1.5zM86.5 106.2h1.5v1.5h-1.5zM93.6 74.6h1.5v1.5h-1.5zM96.9 106.0h1.5v1.5h-1.5zM84.1 113.1h1.5v1.5h-1.5zM93.1 117.6h1.5v1.5h-1.5zM84.0 107.9h1.5v1.5h-1.5zM87.1 96.3h1.5v1.5h-1.5zM98.0 118.0h1.5v1.5h-1.5zM81.4 89.2h1.5v1.5h-1.5zM84.4 67.2h1.5v1.5h-1.5zM84.1 94.5h1.5v1.5h-1.5zM81.2 87.6h1.5v1.5h-1.5zM98.0 92.4h1.5v1.5h-1.5zM89.3 103.1h1.5v1.5h-1.5zM79.3 106.3h1.5v1.5h-1.5zM85.1 120.6h1.5v1.5h-1.5zM97.2 97.6h1.5v1.5h-1.5zM82.3 99.4h1.5v1.5h-1.5zM81.1 81.0h1.5v1.5h-1.5zM96.9 94.2h1.5v1.5h-1.5zM88.6 101.5h1.5v1.5h-1.5zM91.8 96.2h1.5v1.5h-1.5zM94.4 81.9h1.5v1.5h-1.5zM78.3 102.6h1.5v1.5h-1.5zM81.1 109.7h1.5v1.5h-1.5zM82.3 80.1h1.5v1.5h-1.5zM88.0 127.6h1.5v1.5h-1.5zM78.2 120.1h1.5v1.5h-1.5zM83.6 118.2h1.5v1.5h-1.5zM95.1 83.0h1.5v1.5h-1.5zM81.2 92.8h1.5v1.5h-1.5zM78.3 111.0h1.5v1.5h-1.5zM83.7 84.9h1.5v1.5h-1.5zM96.0 71.6h1.5v1.5h-1.5zM97.4 84.3h1.5v1.5h-1.5zM81.5 118.4h1.5v1.5h-1.5zM95.0 81.6h1.5v1.5h-1.5zM80.2 111.7h1.5v1.5h-1.5zM96.6 111.1h1.5v1.5h-1.5zM94.0 95.6h1.5v1.5h-1.5zM89.1 115.5h1.5v1.5h-1.5zM91.4 118.8h1.5v1.5h-1.5zM82.5 99.8h1.5v1.5h-1.5zM79.8 97.5h1.5v1.5h-1.5zM81.1 106.4h1.5v1.5h-1.5zM87.9 128.6h1.5v1.5h-1.5zM82.9 116.7h1.5v1.5h-1.5zM81.1 118.7h1.5v1.5h-1.5zM92.9 106.4h1.5v1.5h-1.5zM83.2 94.2h1.5v1.5h-1.5zM89.3 84.3h1.5v1.5h-1.5zM83.3 82.0h1.5v1.5h-1.5zM81.1 74.7h1.5v1.5h-1.5zM88.6 130.7h1.5v1.5h-1.5zM84.9 77.7h1.5v1.5h-1.5zM77.6 107.9h1.5v1.5h-1.5zM89.4 86.2h1.5v1.5h-1.5zM80.2 69.6h1.5v1.5h-1.5zM78.0 102.6h1.5v1.5h-1.5zM94.7 66.6h1.5v1.5h-1.5zM94.4 122.8h1.5v1.5h-1.5zM95.9 113.7h1.5v1.5h-1.5zM81.8 95.2h1.5v1.5h-1.5zM78.4 91.8h1.5v1.5h-1.5zM84.8 70.9h1.5v1.5h-1.5zM89.1 97.9h1.5v1.5h-1.5zM86.8 117.9h1.5v1.5h-1.5zM94.1 69.8h1.5v1.5h-1.5zM80.9 114.2h1.5v1.5h-1.5zM98.2 76.2h1.5v1.5h-1.5zM90.9 75.9h1.5v1.5h-1.5zM95.4 101.3h1.5v1.5h-1.5zM89.2 128.1h1.5v1.5h-1.5zM81.2 97.4h1.5v1.5h-1.5zM90.7 115.6h1.5v1.5h-1.5zM86.2 119.2h1.5v1.5h-1.5zM82.8 124.1h1.5v1.5h-1.5zM81.1 98.0h1.5v1.5h-1.5zM97.5 72.0h1.5v1.5h-1.5zM90.5 105.9h1.5v1.5h-1.5zM83.2 124.4h1.5v1.5h-1.5zM91.8 112.1h1.5v1.5h-1.5zM98.1 104.9h1.5v1.5h-1.5zM92.0 77.6h1.5v1.5h-1.5zM88.0 119.6h1.5v1.5h-1.5zM79.8 116.7h1.5v1.5h-1.5zM84.6 97.7h1.5v1.5h-1.5zM88.5 128.1h1.5v1.5h-1.5zM89.2 103.7h1.5v1.5h-1.5zM98.2 106.4h1.5v1.5h-1.5zM83.7 118.3h1.5v1.5h-1.5zM84.0 78.6h1.5v1.5h-1.5zM84.8 77.0h1.5v1.5h-1.5zM83.7 108.8h1.5v1.5h-1.5zM95.1 124.7h1.5v1.5h-1.5zM94.8 80.6h1.5v1.5h-1.5zM77.8 108.6h1.5v1.5h-1.5zM81.1 57.2h1.5v1.5h-1.5zM81.9 63.3h1.5v1.5h-1.5zM92.2 130.1h1.5v1.5h-1.5zM77.9 84.2h1.5v1.5h-1.5zM79.9 83.0h1.5v1.5h-1.5zM91.5 99.1h1.5v1.5h-1.5zM85.2 75.2h1.5v1.5h-1.5zM80.6 81.4h1.5v1.5h-1.5zM93.6 69.8h1.5v1.5h-1.5zM94.7 87.7h1.5v1.5h-1.5zM84.9 122.6h1.5v1.5h-1.5zM78.3 97.8h1.5v1.5h-1.5zM80.8 104.7h1.5v1.5h-1.5zM84.7 67.0h1.5v1.5h-1.5zM97.8 115.4h1.5v1.5h-1.5zM91.9 89.6h1.5v1.5h-1.5zM84.0 71.6h1.5v1.5h-1.5zM82.0 84.8h1.5v1.5h-1.5zM79.0 125.4h1.5v1.5h-1.5zM94.2 79.8h1.5v1.5h-1.5zM93.2 70.9h1.5v1.5h-1.5zM80.3 87.1h1.5v1.5h-1.5zM84.9 80.7h1.5v1.5h-1.5zM80.9 102.5h1.5v1.5h-1.5zM81.4 117.1h1.5v1.5h-1.5zM91.9 124.0h1.5v1.5h-1.5zM94.9 79.8h1.5v1.5h-1.5zM90.9 65.9h1.5v1.5h-1.5zM87.8 116.1h1.5v1.5h-1.5zM96.4 102.0h1.5v1.5h-1.5zM85.9 115.0h1.5v1.5h-1.5zM91.2 71.9h1.5v1.5h-1.5zM85.8 89.7h1.5v1.5h-1.5zM85.6 104.3h1.5v1.5h-1.5zM81.1 83.9h1.5v1.5h-1.5zM78.4 95.5h1.5v1.5h-1.5zM80.8 102.0h1.5v1.5h-1.5zM79.5 119.6h1.5v1.5h-1.5zM81.8 129.7h1.5v1.5h-1.5zM77.6 105.1h1.5v1.5h-1.5zM80.3 77.9h1.5v1.5h-1.5zM87.0 114.8h1.5v1.5h-1.5zM81.3 109.8h1.5v1.5h-1.5zM88.8 122.1h1.5v1.5h-1.5zM78.9 77.5h1.5v1.5h-1.5zM77.7 93.4h1.5v1.5h-1.5zM78.4 107.0h1.5v1.5h-1.5zM92.1 82.4h1.5v1.5h-1.5zM92.0 106.0h1.5v1.5h-1.5zM87.5 101.8h1.5v1.5h-1.5zM79.7 127.7h1.5v1.5h-1.5zM90.9 61.9h1.5v1.5h-1.5zM89.8 91.9h1.5v1.5h-1.5zM83.3 68.4h1.5v1.5h-1.5zM82.9 111.9h1.5v1.5h-1.5zM96.6 99.3h1.5v1.5h-1.5zM92.6 104.5h1.5v1.5h-1.5zM88.0 108.3h1.5v1.5h-1.5zM88.2 120.9h1.5v1.5h-1.5zM96.4 96.3h1.5v1.5h-1.5zM83.6 82.7h1.5v1.5h-1.5zM79.9 84.2h1.5v1.5h-1.5zM92.9 64.4h1.5v1.5h-1.5zM81.3 90.1h1.5v1.5h-1.5zM86.7 87.3h1.5v1.5h-1.5zM87.3 99.0h1.5v1.5h-1.5zM88.7 102.3h1.5v1.5h-1.5zM96.2 103.9h1.5v1.5h-1.5zM84.0 88.1h1.5v1.5h-1.5zM91.3 85.4h1.5v1.5h-1.5zM77.6 110.9h1.5v1.5h-1.5zM91.9 112.1h1.5v1.5h-1.5zM96.7 88.1h1.5v1.5h-1.5zM90.4 114.4h1.5v1.5h-1.5zM82.0 95.8h1.5v1.5h-1.5zM96.0 87.7h1.5v1.5h-1.5zM98.2 99.9h1.5v1.5h-1.5zM83.8 131.2h1.5v1.5h-1.5zM95.5 82.2h1.5v1.5h-1.5zM77.7 91.2h1.5v1.5h-1.5zM90.2 97.7h1.5v1.5h-1.5zM81.2 96.5h1.5v1.5h-1.5zM95.4 116.7h1.5v1.5h-1.5zM80.5 114.4h1.5v1.5h-1.5zM83.8 115.2h1.5v1.5h-1.5zM82.2 78.5h1.5v1.5h-1.5zM97.0 104.7h1.5v1.5h-1.5zM78.7 124.7h1.5v1.5h-1.5zM91.1 63.8h1.5v1.5h-1.5zM79.8 99.2h1.5v1.5h-1.5zM78.0 123.2h1.5v1.5h-1.5zM80.6 112.9h1.5v1.5h-1.5zM94.3 89.6h1.5v1.5h-1.5zM93.0 91.7h1.5v1.5h-1.5zM79.1 105.5h1.5v1.5h-1.5zM97.8 118.9h1.5v1.5h-1.5zM84.2 110.5h1.5v1.5h-1.5zM85.7 98.2h1.5v1.5h-1.5zM96.8 88.0h1.5v1.5h-1.5zM96.5 103.0h1.5v1.5h-1.5zM91.0 79.1h1.5v1.5h-1.5zM84.3 92.7h1.5v1.5h-1.5zM97.9 106.7h1.5v1.5h-1.5zM82.7 70.2h1.5v1.5h-1.5zM85.4 96.7h1.5v1.5h-1.5zM81.7 99.5h1.5v1.5h-1.5zM79.0 110.4h1.5v1.5h-1.5zM88.8 91.3h1.5v1.5h-1.5zM93.4 85.8h1.5v1.5h-1.5zM80.8 84.4h1.5v1.5h-1.5zM78.4 121.5h1.5v1.5h-1.5zM77.5 104.9h1.5v1.5h-1.5zM91.3 96.9h1.5v1.5h-1.5zM92.6 120.0h1.5v1.5h-1.5zM78.9 127.9h1.5v1.5h-1.5zM92.7 82.7h1.5v1.5h-1.5zM96.0 85.4h1.5v1.5h-1.5zM87.3 102.6h1.5v1.5h-1.5zM90.0 94.1h1.5v1.5h-1.5zM86.5 89.3h1.5v1.5h-1.5zM92.2 73.6h1.5v1.5h-1.5zM80.0 125.0h1.5v1.5h-1.5zM86.6 94.9h1.5v1.5h-1.5zM83.0 121.1h1.5v1.5h-1.5zM89.5 106.8h1.5v1.5h-1.5zM92.6 59.9h1.5v1.5h-1.5zM82.0 89.7h1.5v1.5h-1.5zM94.0 45.4h1.5v1.5h-1.5zM91.2 67.3h1.5v1.5h-1.5zM77.5 69.3h1.5v1.5h-1.5zM90.9 105.7h1.5v1.5h-1.5zM93.6 95.8h1.5v1.5h-1.5zM79.2 118.4h1.5v1.5h-1.5zM92.0 120.2h1.5v1.5h-1.5zM91.9 126.3h1.5v1.5h-1.5zM96.2 89.5h1.5v1.5h-1.5zM81.0 112.3h1.5v1.5h-1.5zM81.0 88.4h1.5v1.5h-1.5zM91.3 77.9h1.5v1.5h-1.5zM80.0 117.1h1.5v1.5h-1.5zM95.2 90.9h1.5v1.5h-1.5zM82.4 101.8h1.5v1.5h-1.5zM78.0 115.8h1.5v1.5h-1.5zM79.6 91.7h1.5v1.5h-1.5zM82.0 92.4h1.5v1.5h-1.5zM84.6 70.8h1.5v1.5h-1.5zM80.3 63.0h1.5v1.5h-1.5zM85.7 66.5h1.5v1.5h-1.5zM82.7 59.3h1.5v1.5h-1.5zM81.1 65.0h1.5v1.5h-1.5zM82.7 66.9h1.5v1.5h-1.5zM78.8 63.2h1.5v1.5h-1.5zM81.8 63.7h1.5v1.5h-1.5zM84.4 60.8h1.5v1.5h-1.5zM83.6 56.6h1.5v1.5h-1.5zM84.4 35.3h1.5v1.5h-1.5zM83.2 53.1h1.5v1.5h-1.5zM83.2 66.3h1.5v1.5h-1.5zM85.4 58.3h1.5v1.5h-1.5zM79.1 51.1h1.5v1.5h-1.5zM82.8 34.8h1.5v1.5h-1.5zM82.1 59.6h1.5v1.5h-1.5zM85.9 35.9h1.5v1.5h-1.5zM84.9 60.2h1.5v1.5h-1.5zM82.2 51.4h1.5v1.5h-1.5zM85.9 59.9h1.5v1.5h-1.5zM84.4 57.4h1.5v1.5h-1.5zM83.2 64.4h1.5v1.5h-1.5zM81.0 63.7h1.5v1.5h-1.5zM86.6 66.9h1.5v1.5h-1.5zM80.5 64.5h1.5v1.5h-1.5zM85.3 54.0h1.5v1.5h-1.5zM81.2 65.9h1.5v1.5h-1.5zM84.1 50.9h1.5v1.5h-1.5zM83.9 52.3h1.5v1.5h-1.5zM83.5 66.9h1.5v1.5h-1.5zM85.1 42.9h1.5v1.5h-1.5zM80.1 61.5h1.5v1.5h-1.5zM86.6 34.8h1.5v1.5h-1.5zM85.3 45.2h1.5v1.5h-1.5zM80.0 42.5h1.5v1.5h-1.5zM85.3 64.6h1.5v1.5h-1.5zM86.0 47.3h1.5v1.5h-1.5zM86.1 40.1h1.5v1.5h-1.5zM79.5 65.0h1.5v1.5h-1.5zM85.2 65.0h1.5v1.5h-1.5zM81.5 48.7h1.5v1.5h-1.5zM85.4 61.2h1.5v1.5h-1.5zM82.1 53.1h1.5v1.5h-1.5zM86.7 55.5h1.5v1.5h-1.5zM81.5 64.0h1.5v1.5h-1.5zM80.2 56.0h1.5v1.5h-1.5zM84.5 64.2h1.5v1.5h-1.5zM84.7 56.2h1.5v1.5h-1.5zM83.3 58.3h1.5v1.5h-1.5zM82.0 67.0h1.5v1.5h-1.5zM83.1 54.3h1.5v1.5h-1.5zM85.9 34.8h1.5v1.5h-1.5zM83.9 65.1h1.5v1.5h-1.5zM85.6 60.9h1.5v1.5h-1.5zM86.5 34.8h1.5v1.5h-1.5zM89.9 62.3h1.5v1.5h-1.5zM89.6 56.8h1.5v1.5h-1.5zM92.9 57.5h1.5v1.5h-1.5zM91.7 57.9h1.5v1.5h-1.5zM90.0 61.4h1.5v1.5h-1.5zM94.8 61.2h1.5v1.5h-1.5zM90.1 57.2h1.5v1.5h-1.5zM96.6 51.8h1.5v1.5h-1.5zM95.9 56.1h1.5v1.5h-1.5zM89.3 61.7h1.5v1.5h-1.5zM93.6 58.7h1.5v1.5h-1.5zM95.5 62.4h1.5v1.5h-1.5zM93.9 62.2h1.5v1.5h-1.5zM94.9 62.1h1.5v1.5h-1.5zM92.9 55.0h1.5v1.5h-1.5zM96.6 54.4h1.5v1.5h-1.5zM95.1 60.8h1.5v1.5h-1.5zM94.0 58.6h1.5v1.5h-1.5zM93.0 57.9h1.5v1.5h-1.5zM92.6 60.1h1.5v1.5h-1.5zM95.0 57.2h1.5v1.5h-1.5zM96.6 51.8h1.5v1.5h-1.5zM95.3 62.0h1.5v1.5h-1.5zM93.0 59.0h1.5v1.5h-1.5zM95.2 51.8h1.5v1.5h-1.5zM90.7 62.5h1.5v1.5h-1.5zM95.8 51.8h1.5v1.5h-1.5zM91.8 57.8h1.5v1.5h-1.5zM92.1 60.1h1.5v1.5h-1.5zM94.0 56.5h1.5v1.5h-1.5zM102.2 128.0h1.5v1.5h-1.5zM108.1 121.0h1.5v1.5h-1.5zM72.6 123.3h1.5v1.5h-1.5zM76.5 116.5h1.5v1.5h-1.5zM112.0 122.2h1.5v1.5h-1.5zM99.2 126.5h1.5v1.5h-1.5zM76.9 128.6h1.5v1.5h-1.5zM99.4 116.8h1.5v1.5h-1.5zM76.1 121.2h1.5v1.5h-1.5zM102.6 121.4h1.5v1.5h-1.5zM75.4 127.3h1.5v1.5h-1.5zM105.5 114.7h1.5v1.5h-1.5zM102.9 113.7h1.5v1.5h-1.5zM99.6 117.0h1.5v1.5h-1.5zM75.8 117.6h1.5v1.5h-1.5zM76.4 119.8h1.5v1.5h-1.5zM105.6 122.9h1.5v1.5h-1.5zM99.8 124.0h1.5v1.5h-1.5zM115.2 122.3h1.5v1.5h-1.5zM102.0 128.4h1.5v1.5h-1.5zM102.0 115.9h1.5v1.5h-1.5zM102.2 117.0h1.5v1.5h-1.5zM73.4 126.8h1.5v1.5h-1.5zM75.6 113.7h1.5v1.5h-1.5zM74.5 115.4h1.5v1.5h-1.5zM100.9 121.4h1.5v1.5h-1.5zM75.5 114.9h1.5v1.5h-1.5zM77.2 122.5h1.5v1.5h-1.5zM99.9 121.8h1.5v1.5h-1.5zM103.2 122.5h1.5v1.5h-1.5zM71.6 113.9h1.5v1.5h-1.5zM76.1 115.3h1.5v1.5h-1.5zM98.9 118.9h1.5v1.5h-1.5zM73.2 127.8h1.5v1.5h-1.5zM100.4 115.3h1.5v1.5h-1.5zM109.2 116.4h1.5v1.5h-1.5zM77.0 114.3h1.5v1.5h-1.5zM75.2 126.8h1.5v1.5h-1.5zM105.2 126.5h1.5v1.5h-1.5zM111.8 125.2h1.5v1.5h-1.5zM133.7 115.8h1.5v1.5h-1.5zM59.3 126.0h1.5v1.5h-1.5zM85.3 124.2h1.5v1.5h-1.5zM96.3 120.1h1.5v1.5h-1.5zM55.1 120.8h1.5v1.5h-1.5zM117.8 125.3h1.5v1.5h-1.5zM66.3 128.2h1.5v1.5h-1.5zM97.7 130.6h1.5v1.5h-1.5zM60.9 127.3h1.5v1.5h-1.5zM105.3 119.1h1.5v1.5h-1.5zM91.8 130.1h1.5v1.5h-1.5zM74.1 131.8h1.5v1.5h-1.5zM133.9 124.3h1.5v1.5h-1.5zM119.2 128.3h1.5v1.5h-1.5zM66.9 130.2h1.5v1.5h-1.5zM77.3 120.2h1.5v1.5h-1.5zM92.6 126.9h1.5v1.5h-1.5zM53.2 127.8h1.5v1.5h-1.5zM112.8 129.6h1.5v1.5h-1.5zM133.5 117.3h1.5v1.5h-1.5zM57.0 132.8h1.5v1.5h-1.5zM117.9 132.1h1.5v1.5h-1.5zM103.5 123.6h1.5v1.5h-1.5zM79.6 122.1h1.5v1.5h-1.5z" fill="#8e8e8e"/>
<path d="M71.7 64.4h1.7v1.7h-1.7zM77.0 112.8h1.7v1.7h-1.7zM76.3 107.7h1.7v1.7h-1.7zM70.9 109.8h1.7v1.7h-1.7zM74.0 51.0h1.7v1.7h-1.7zM67.4 107.8h1.7v1.7h-1.7zM77.3 110.7h1.7v1.7h-1.7zM77.3 101.3h1.7v1.7h-1.7zM71.8 108.4h1.7v1.7h-1.7zM76.2 97.4h1.7v1.7h-1.7zM75.6 112.4h1.7v1.7h-1.7zM77.0 108.0h1.7v1.7h-1.7zM77.3 52.3h1.7v1.7h-1.7zM76.7 52.4h1.7v1.7h-1.7zM73.9 87.2h1.7v1.7h-1.7zM77.0 65.0h1.7v1.7h-1.7zM70.8 54.0h1.7v1.7h-1.7zM73.3 104.0h1.7v1.7h-1.7zM69.7 102.6h1.7v1.7h-1.7zM73.4 50.7h1.7v1.7h-1.7zM72.3 111.4h1.7v1.7h-1.7zM77.6 97.5h1.7v1.7h-1.7zM76.3 52.7h1.7v1.7h-1.7zM75.6 97.4h1.7v1.7h-1.7zM71.9 102.2h1.7v1.7h-1.7zM75.1 76.0h1.7v1.7h-1.7zM77.0 101.9h1.7v1.7h-1.7zM71.5 100.7h1.7v1.7h-1.7zM74.3 92.7h1.7v1.7h-1.7zM75.7 86.3h1.7v1.7h-1.7zM77.5 107.1h1.7v1.7h-1.7zM75.7 110.4h1.7v1.7h-1.7zM75.2 56.4h1.7v1.7h-1.7zM77.4 107.3h1.7v1.7h-1.7zM71.8 103.7h1.7v1.7h-1.7zM75.7 111.8h1.7v1.7h-1.7zM77.0 100.2h1.7v1.7h-1.7zM72.1 55.0h1.7v1.7h-1.7zM75.9 91.2h1.7v1.7h-1.7zM75.1 101.0h1.7v1.7h-1.7zM77.2 90.5h1.7v1.7h-1.7zM76.0 72.2h1.7v1.7h-1.7zM70.6 82.2h1.7v1.7h-1.7zM70.1 99.4h1.7v1.7h-1.7zM75.7 111.4h1.7v1.7h-1.7zM75.5 92.7h1.7v1.7h-1.7zM71.4 111.9h1.7v1.7h-1.7zM76.3 112.9h1.7v1.7h-1.7zM74.8 74.2h1.7v1.7h-1.7zM75.8 61.2h1.7v1.7h-1.7zM77.2 69.6h1.7v1.7h-1.7zM75.4 102.7h1.7v1.7h-1.7zM77.5 85.1h1.7v1.7h-1.7zM77.6 94.7h1.7v1.7h-1.7zM77.1 56.7h1.7v1.7h-1.7zM75.4 59.3h1.7v1.7h-1.7zM76.5 100.7h1.7v1.7h-1.7zM74.7 100.4h1.7v1.7h-1.7zM70.9 113.1h1.7v1.7h-1.7zM71.5 99.4h1.7v1.7h-1.7zM72.9 101.1h1.7v1.7h-1.7zM76.2 74.5h1.7v1.7h-1.7zM75.8 58.2h1.7v1.7h-1.7zM76.8 107.3h1.7v1.7h-1.7zM75.3 108.8h1.7v1.7h-1.7zM69.7 71.6h1.7v1.7h-1.7zM77.1 57.7h1.7v1.7h-1.7zM74.4 110.0h1.7v1.7h-1.7zM67.7 89.1h1.7v1.7h-1.7zM76.5 61.3h1.7v1.7h-1.7zM73.4 91.8h1.7v1.7h-1.7zM74.6 75.4h1.7v1.7h-1.7zM77.1 71.3h1.7v1.7h-1.7zM71.9 107.0h1.7v1.7h-1.7zM74.0 72.4h1.7v1.7h-1.7zM72.4 108.5h1.7v1.7h-1.7zM77.1 52.7h1.7v1.7h-1.7zM77.5 80.2h1.7v1.7h-1.7zM77.5 102.2h1.7v1.7h-1.7zM72.8 86.9h1.7v1.7h-1.7zM76.0 51.6h1.7v1.7h-1.7zM70.7 79.4h1.7v1.7h-1.7zM73.4 109.5h1.7v1.7h-1.7zM76.6 112.9h1.7v1.7h-1.7zM70.2 65.4h1.7v1.7h-1.7zM71.4 108.1h1.7v1.7h-1.7zM76.0 101.7h1.7v1.7h-1.7zM76.0 68.7h1.7v1.7h-1.7zM77.1 69.7h1.7v1.7h-1.7zM77.4 75.3h1.7v1.7h-1.7zM77.0 100.1h1.7v1.7h-1.7zM75.7 72.5h1.7v1.7h-1.7zM77.0 92.3h1.7v1.7h-1.7zM75.5 108.8h1.7v1.7h-1.7zM77.5 107.1h1.7v1.7h-1.7zM40.6 62.9h1.7v1.7h-1.7zM37.2 73.2h1.7v1.7h-1.7zM51.2 79.2h1.7v1.7h-1.7zM47.2 94.2h1.7v1.7h-1.7zM59.2 57.2h1.7v1.7h-1.7zM65.2 47.2h1.7v1.7h-1.7zM69.2 54.2h1.7v1.7h-1.7zM62.2 87.2h1.7v1.7h-1.7zM56.2 69.2h1.7v1.7h-1.7zM72.2 51.2h1.7v1.7h-1.7zM75.2 44.2h1.7v1.7h-1.7zM68.2 61.2h1.7v1.7h-1.7z" fill="#2a72c0"/>
<path d="M100.1 111.2h1.7v1.7h-1.7zM100.8 109.9h1.7v1.7h-1.7zM99.8 108.5h1.7v1.7h-1.7zM99.2 103.0h1.7v1.7h-1.7zM98.8 112.7h1.7v1.7h-1.7zM98.2 92.9h1.7v1.7h-1.7zM99.9 110.1h1.7v1.7h-1.7zM102.0 75.8h1.7v1.7h-1.7zM106.9 111.7h1.7v1.7h-1.7zM98.8 60.5h1.7v1.7h-1.7zM100.1 111.7h1.7v1.7h-1.7zM98.5 65.0h1.7v1.7h-1.7zM104.2 95.7h1.7v1.7h-1.7zM101.0 79.9h1.7v1.7h-1.7zM99.7 92.0h1.7v1.7h-1.7zM99.1 64.3h1.7v1.7h-1.7zM101.8 83.9h1.7v1.7h-1.7zM98.5 106.2h1.7v1.7h-1.7zM101.8 57.7h1.7v1.7h-1.7zM101.5 95.4h1.7v1.7h-1.7zM99.1 83.4h1.7v1.7h-1.7zM102.3 110.2h1.7v1.7h-1.7zM101.3 104.0h1.7v1.7h-1.7zM98.6 50.0h1.7v1.7h-1.7zM99.4 112.3h1.7v1.7h-1.7zM102.5 56.5h1.7v1.7h-1.7zM101.2 84.4h1.7v1.7h-1.7zM101.8 87.5h1.7v1.7h-1.7zM99.2 101.2h1.7v1.7h-1.7zM100.2 68.5h1.7v1.7h-1.7zM102.3 52.1h1.7v1.7h-1.7zM102.2 107.4h1.7v1.7h-1.7zM100.7 86.8h1.7v1.7h-1.7zM101.8 71.7h1.7v1.7h-1.7zM104.1 98.6h1.7v1.7h-1.7zM101.4 95.0h1.7v1.7h-1.7zM104.8 111.9h1.7v1.7h-1.7zM99.9 110.7h1.7v1.7h-1.7zM101.3 63.1h1.7v1.7h-1.7zM98.6 88.9h1.7v1.7h-1.7zM100.3 105.4h1.7v1.7h-1.7zM100.0 56.4h1.7v1.7h-1.7zM101.5 84.5h1.7v1.7h-1.7zM104.2 56.7h1.7v1.7h-1.7zM100.9 57.6h1.7v1.7h-1.7zM104.5 70.0h1.7v1.7h-1.7zM99.1 75.2h1.7v1.7h-1.7zM98.8 107.3h1.7v1.7h-1.7zM103.3 56.4h1.7v1.7h-1.7zM98.8 88.6h1.7v1.7h-1.7zM100.6 108.1h1.7v1.7h-1.7zM98.5 109.9h1.7v1.7h-1.7zM103.1 113.2h1.7v1.7h-1.7zM101.7 58.4h1.7v1.7h-1.7zM101.4 113.0h1.7v1.7h-1.7zM98.7 57.9h1.7v1.7h-1.7zM99.7 67.5h1.7v1.7h-1.7zM100.4 77.1h1.7v1.7h-1.7zM101.4 82.3h1.7v1.7h-1.7zM102.5 107.1h1.7v1.7h-1.7zM98.5 112.3h1.7v1.7h-1.7zM100.4 109.8h1.7v1.7h-1.7zM101.6 60.6h1.7v1.7h-1.7zM98.2 80.4h1.7v1.7h-1.7zM98.6 79.0h1.7v1.7h-1.7zM98.2 57.8h1.7v1.7h-1.7zM102.0 78.0h1.7v1.7h-1.7zM103.9 104.2h1.7v1.7h-1.7zM100.6 95.3h1.7v1.7h-1.7zM99.4 97.9h1.7v1.7h-1.7zM103.0 93.4h1.7v1.7h-1.7zM99.6 84.6h1.7v1.7h-1.7zM99.7 74.1h1.7v1.7h-1.7zM99.2 82.7h1.7v1.7h-1.7zM99.6 82.1h1.7v1.7h-1.7zM104.5 55.4h1.7v1.7h-1.7zM100.1 71.1h1.7v1.7h-1.7zM105.0 86.5h1.7v1.7h-1.7zM103.0 89.7h1.7v1.7h-1.7zM98.9 99.4h1.7v1.7h-1.7zM101.1 104.6h1.7v1.7h-1.7zM98.4 111.1h1.7v1.7h-1.7zM100.3 87.0h1.7v1.7h-1.7zM104.0 74.2h1.7v1.7h-1.7zM100.6 56.5h1.7v1.7h-1.7zM99.5 79.4h1.7v1.7h-1.7zM99.0 56.8h1.7v1.7h-1.7zM99.8 113.1h1.7v1.7h-1.7zM99.0 108.5h1.7v1.7h-1.7zM105.0 109.8h1.7v1.7h-1.7zM100.5 113.2h1.7v1.7h-1.7zM103.7 101.6h1.7v1.7h-1.7zM102.5 86.0h1.7v1.7h-1.7zM100.4 81.2h1.7v1.7h-1.7zM101.0 55.5h1.7v1.7h-1.7zM101.5 75.1h1.7v1.7h-1.7zM99.5 69.0h1.7v1.7h-1.7zM100.1 113.0h1.7v1.7h-1.7zM100.1 106.3h1.7v1.7h-1.7zM105.2 84.7h1.7v1.7h-1.7zM114.2 47.2h1.7v1.7h-1.7zM114.2 56.2h1.7v1.7h-1.7zM129.2 71.2h1.7v1.7h-1.7zM127.2 89.2h1.7v1.7h-1.7zM121.2 99.2h1.7v1.7h-1.7zM99.2 41.2h1.7v1.7h-1.7zM100.2 45.2h1.7v1.7h-1.7zM111.2 65.2h1.7v1.7h-1.7zM105.2 57.2h1.7v1.7h-1.7zM117.2 95.2h1.7v1.7h-1.7zM102.2 51.2h1.7v1.7h-1.7zM125.2 103.2h1.7v1.7h-1.7z" fill="#f03a4a"/>
<circle cx="143" cy="64.6" r="0.9" fill="#f03a4a"/>
<line x1="78.40" y1="30.00" x2="78.40" y2="139.00" stroke="#222" stroke-width="0.75" stroke-dasharray="1.8,1.5"/>
<line x1="98.80" y1="30.00" x2="98.80" y2="139.00" stroke="#222" stroke-width="0.75" stroke-dasharray="1.8,1.5"/>
<line x1="33.30" y1="113.80" x2="148.50" y2="113.80" stroke="#222" stroke-width="0.75" stroke-dasharray="1.8,1.5"/>
<rect x="33.30" y="30.00" width="115.20" height="109.00" fill="none" stroke="#a8a8a8" stroke-width="1.0" />
<line x1="31.80" y1="134.00" x2="33.30" y2="134.00" stroke="#666" stroke-width="0.6" />
<text x="30.10" y="136.10" font-size="6.0" text-anchor="end" fill="#333" stroke="#333" stroke-width="0.08" >0</text>
<line x1="31.80" y1="103.20" x2="33.30" y2="103.20" stroke="#666" stroke-width="0.6" />
<text x="30.10" y="105.30" font-size="6.0" text-anchor="end" fill="#333" stroke="#333" stroke-width="0.08" >2</text>
<line x1="31.80" y1="72.00" x2="33.30" y2="72.00" stroke="#666" stroke-width="0.6" />
<text x="30.10" y="74.10" font-size="6.0" text-anchor="end" fill="#333" stroke="#333" stroke-width="0.08" >4</text>
<line x1="31.80" y1="41.60" x2="33.30" y2="41.60" stroke="#666" stroke-width="0.6" />
<text x="30.10" y="43.70" font-size="6.0" text-anchor="end" fill="#333" stroke="#333" stroke-width="0.08" >6</text>
<line x1="58.30" y1="139.00" x2="58.30" y2="140.50" stroke="#666" stroke-width="0.6" />
<text x="58.30" y="145.60" font-size="6.0" text-anchor="middle" fill="#333" stroke="#333" stroke-width="0.08" >−3</text>
<line x1="88.60" y1="139.00" x2="88.60" y2="140.50" stroke="#666" stroke-width="0.6" />
<text x="88.60" y="145.60" font-size="6.0" text-anchor="middle" fill="#333" stroke="#333" stroke-width="0.08" >0</text>
<line x1="118.90" y1="139.00" x2="118.90" y2="140.50" stroke="#666" stroke-width="0.6" />
<text x="118.90" y="145.60" font-size="6.0" text-anchor="middle" fill="#333" stroke="#333" stroke-width="0.08" >3</text>
<text x="90.60" y="153.50" font-size="7.8" text-anchor="middle" fill="#111" stroke="#111" stroke-width="0.08" >log2 (FC)</text>
<text transform="translate(23.6,80.8) rotate(-90)" font-size="7.8" text-anchor="middle" fill="#111" stroke="#111" stroke-width="0.08">−log10 (<tspan font-style="italic">p</tspan>-value)</text>
<text x="37.40" y="19.20" font-size="7.55" text-anchor="start" fill="#111" stroke="#111" stroke-width="0.08" >Differentially expressed proteins</text>
<rect x="34.1" y="24.9" width="1.7" height="1.7" fill="#2a72c0"/>
<text x="38.60" y="27.90" font-size="7.55" text-anchor="start" fill="#111" stroke="#111" stroke-width="0.08" >111 proteins</text>
<rect x="104" y="24.9" width="1.7" height="1.7" fill="#f03a4a"/>
<text x="107.60" y="27.90" font-size="7.55" text-anchor="start" fill="#111" stroke="#111" stroke-width="0.08" >118 proteins</text>
<text x="126.80" y="62.60" font-size="6.3" text-anchor="start" fill="#111" stroke="#111" stroke-width="0.08" >MGAT3</text>
<defs><clipPath id="cL"><circle cx="228.6" cy="70.0" r="31"/></clipPath><clipPath id="cR"><circle cx="265.0" cy="70.0" r="31"/></clipPath></defs>
<circle cx="228.6" cy="70.0" r="31" fill="#ff9c9c"/>
<circle cx="265.0" cy="70.0" r="31" fill="#ffc07c"/>
<circle cx="247.0" cy="98.0" r="31" fill="#7cbdf8"/>
<circle cx="265.0" cy="70.0" r="31" fill="#f98050" clip-path="url(#cL)"/>
<circle cx="247.0" cy="98.0" r="31" fill="#a07aa8" clip-path="url(#cL)"/>
<circle cx="247.0" cy="98.0" r="31" fill="#9a9a84" clip-path="url(#cR)"/>
<g clip-path="url(#cL)"><circle cx="247.0" cy="98.0" r="31" fill="#a85c50" clip-path="url(#cR)"/></g>
<circle cx="228.6" cy="70.0" r="31" fill="none" stroke="#2a1c1c" stroke-width="1.05"/>
<circle cx="265.0" cy="70.0" r="31" fill="none" stroke="#2a1c1c" stroke-width="1.05"/>
<circle cx="247.0" cy="98.0" r="31" fill="none" stroke="#2a1c1c" stroke-width="1.05"/>
<text x="217.40" y="61.10" font-size="6.8" text-anchor="middle" fill="#222" stroke="#222" stroke-width="0.08" >262</text>
<text x="246.60" y="61.10" font-size="6.8" text-anchor="middle" fill="#222" stroke="#222" stroke-width="0.08" >4</text>
<text x="275.40" y="61.10" font-size="6.8" text-anchor="middle" fill="#222" stroke="#222" stroke-width="0.08" >69</text>
<text x="247.00" y="80.60" font-size="6.8" text-anchor="middle" fill="#222" stroke="#222" stroke-width="0.08" >0</text>
<text x="229.00" y="92.20" font-size="10.5" text-anchor="middle" fill="#222" stroke="#222" stroke-width="0.25" >6</text>
<text x="264.40" y="91.00" font-size="6.8" text-anchor="middle" fill="#222" stroke="#222" stroke-width="0.08" >5</text>
<text x="246.60" y="117.60" font-size="6.8" text-anchor="middle" fill="#222" stroke="#222" stroke-width="0.08" >218</text>
<text x="168.00" y="31.20" font-size="7.55" text-anchor="start" fill="#111" stroke="#111" stroke-width="0.08" >MGAT3 proximitome</text>
<text x="296.00" y="26.60" font-size="7.55" text-anchor="middle" fill="#111" stroke="#111" stroke-width="0.08" >Bisecting GlcNAc-bearing</text>
<text x="296.00" y="35.90" font-size="7.55" text-anchor="middle" fill="#111" stroke="#111" stroke-width="0.08" >proteins (Ref.30)</text>
<text x="247.00" y="138.30" font-size="7.7" text-anchor="middle" fill="#111" stroke="#111" stroke-width="0.08" >Differentially expressed proteins</text>
<line x1="377.00" y1="130.40" x2="546.60" y2="130.40" stroke="#efefef" stroke-width="0.6" />
<line x1="377.00" y1="101.80" x2="546.60" y2="101.80" stroke="#efefef" stroke-width="0.6" />
<line x1="377.00" y1="73.20" x2="546.60" y2="73.20" stroke="#efefef" stroke-width="0.6" />
<line x1="377.00" y1="44.60" x2="546.60" y2="44.60" stroke="#efefef" stroke-width="0.6" />
<line x1="394.20" y1="25.40" x2="394.20" y2="133.60" stroke="#efefef" stroke-width="0.6" />
<line x1="421.30" y1="25.40" x2="421.30" y2="133.60" stroke="#efefef" stroke-width="0.6" />
<line x1="448.70" y1="25.40" x2="448.70" y2="133.60" stroke="#efefef" stroke-width="0.6" />
<line x1="476.20" y1="25.40" x2="476.20" y2="133.60" stroke="#efefef" stroke-width="0.6" />
<line x1="503.80" y1="25.40" x2="503.80" y2="133.60" stroke="#efefef" stroke-width="0.6" />
<line x1="531.50" y1="25.40" x2="531.50" y2="133.60" stroke="#efefef" stroke-width="0.6" />
<line x1="388.70" y1="124.68" x2="388.70" y2="125.11" stroke="#333" stroke-width="0.6" />
<line x1="388.70" y1="126.11" x2="388.70" y2="125.68" stroke="#333" stroke-width="0.6" />
<rect x="383.20" y="124.60" width="11.00" height="1.60" fill="#1452b0" stroke="#222" stroke-width="0.6" />
<line x1="383.20" y1="125.40" x2="394.20" y2="125.40" stroke="#111" stroke-width="1.0" />
<line x1="399.70" y1="43.17" x2="399.70" y2="43.46" stroke="#333" stroke-width="0.6" />
<line x1="399.70" y1="44.89" x2="399.70" y2="44.31" stroke="#333" stroke-width="0.6" />
<rect x="394.20" y="43.08" width="11.00" height="1.60" fill="#f03a4e" stroke="#222" stroke-width="0.6" />
<line x1="394.20" y1="43.88" x2="405.20" y2="43.88" stroke="#111" stroke-width="1.0" />
<line x1="415.80" y1="113.95" x2="415.80" y2="116.10" stroke="#333" stroke-width="0.6" />
<line x1="415.80" y1="122.53" x2="415.80" y2="120.10" stroke="#333" stroke-width="0.6" />
<line x1="413.30" y1="113.95" x2="418.30" y2="113.95" stroke="#333" stroke-width="0.6" />
<line x1="413.30" y1="122.53" x2="418.30" y2="122.53" stroke="#333" stroke-width="0.6" />
<rect x="410.30" y="116.10" width="11.00" height="4.00" fill="#1452b0" stroke="#222" stroke-width="0.6" />
<line x1="410.30" y1="118.25" x2="421.30" y2="118.25" stroke="#111" stroke-width="1.0" />
<line x1="426.80" y1="44.60" x2="426.80" y2="54.61" stroke="#333" stroke-width="0.6" />
<line x1="426.80" y1="72.06" x2="426.80" y2="68.91" stroke="#333" stroke-width="0.6" />
<line x1="424.30" y1="44.60" x2="429.30" y2="44.60" stroke="#333" stroke-width="0.6" />
<line x1="424.30" y1="72.06" x2="429.30" y2="72.06" stroke="#333" stroke-width="0.6" />
<rect x="421.30" y="54.61" width="11.00" height="14.30" fill="#f03a4e" stroke="#222" stroke-width="0.6" />
<line x1="421.30" y1="64.62" x2="432.30" y2="64.62" stroke="#111" stroke-width="1.0" />
<line x1="443.20" y1="92.79" x2="443.20" y2="92.93" stroke="#333" stroke-width="0.6" />
<line x1="443.20" y1="93.65" x2="443.20" y2="93.51" stroke="#333" stroke-width="0.6" />
<rect x="437.70" y="92.42" width="11.00" height="1.60" fill="#1452b0" stroke="#222" stroke-width="0.6" />
<line x1="437.70" y1="93.22" x2="448.70" y2="93.22" stroke="#111" stroke-width="1.0" />
<line x1="454.20" y1="114.38" x2="454.20" y2="115.38" stroke="#333" stroke-width="0.6" />
<line x1="454.20" y1="124.39" x2="454.20" y2="120.39" stroke="#333" stroke-width="0.6" />
<line x1="451.70" y1="114.38" x2="456.70" y2="114.38" stroke="#333" stroke-width="0.6" />
<line x1="451.70" y1="124.39" x2="456.70" y2="124.39" stroke="#333" stroke-width="0.6" />
<rect x="448.70" y="115.38" width="11.00" height="5.01" fill="#f03a4e" stroke="#222" stroke-width="0.6" />
<line x1="448.70" y1="117.53" x2="459.70" y2="117.53" stroke="#111" stroke-width="1.0" />
<line x1="470.70" y1="73.20" x2="470.70" y2="73.49" stroke="#333" stroke-width="0.6" />
<line x1="470.70" y1="74.34" x2="470.70" y2="74.06" stroke="#333" stroke-width="0.6" />
<rect x="465.20" y="72.97" width="11.00" height="1.60" fill="#1452b0" stroke="#222" stroke-width="0.6" />
<line x1="465.20" y1="73.77" x2="476.20" y2="73.77" stroke="#111" stroke-width="1.0" />
<line x1="481.70" y1="91.79" x2="481.70" y2="92.51" stroke="#333" stroke-width="0.6" />
<line x1="481.70" y1="96.37" x2="481.70" y2="95.08" stroke="#333" stroke-width="0.6" />
<line x1="479.20" y1="91.79" x2="484.20" y2="91.79" stroke="#333" stroke-width="0.6" />
<line x1="479.20" y1="96.37" x2="484.20" y2="96.37" stroke="#333" stroke-width="0.6" />
<rect x="476.20" y="92.51" width="11.00" height="2.57" fill="#f03a4e" stroke="#222" stroke-width="0.6" />
<line x1="476.20" y1="93.79" x2="487.20" y2="93.79" stroke="#111" stroke-width="1.0" />
<line x1="498.30" y1="87.93" x2="498.30" y2="88.22" stroke="#333" stroke-width="0.6" />
<line x1="498.30" y1="90.65" x2="498.30" y2="90.36" stroke="#333" stroke-width="0.6" />
<rect x="492.80" y="88.22" width="11.00" height="2.14" fill="#1452b0" stroke="#222" stroke-width="0.6" />
<line x1="492.80" y1="89.22" x2="503.80" y2="89.22" stroke="#111" stroke-width="1.0" />
<line x1="509.30" y1="105.38" x2="509.30" y2="106.09" stroke="#333" stroke-width="0.6" />
<line x1="509.30" y1="108.66" x2="509.30" y2="108.23" stroke="#333" stroke-width="0.6" />
<line x1="506.80" y1="105.38" x2="511.80" y2="105.38" stroke="#333" stroke-width="0.6" />
<rect x="503.80" y="106.09" width="11.00" height="2.14" fill="#f03a4e" stroke="#222" stroke-width="0.6" />
<line x1="503.80" y1="107.23" x2="514.80" y2="107.23" stroke="#111" stroke-width="1.0" />
<line x1="526.00" y1="102.52" x2="526.00" y2="103.23" stroke="#333" stroke-width="0.6" />
<line x1="526.00" y1="106.09" x2="526.00" y2="105.38" stroke="#333" stroke-width="0.6" />
<line x1="523.50" y1="106.09" x2="528.50" y2="106.09" stroke="#333" stroke-width="0.6" />
<rect x="520.50" y="103.23" width="11.00" height="2.14" fill="#1452b0" stroke="#222" stroke-width="0.6" />
<line x1="520.50" y1="104.37" x2="531.50" y2="104.37" stroke="#111" stroke-width="1.0" />
<line x1="537.00" y1="114.38" x2="537.00" y2="116.10" stroke="#333" stroke-width="0.6" />
<line x1="537.00" y1="128.68" x2="537.00" y2="122.96" stroke="#333" stroke-width="0.6" />
<line x1="534.50" y1="114.38" x2="539.50" y2="114.38" stroke="#333" stroke-width="0.6" />
<line x1="534.50" y1="128.68" x2="539.50" y2="128.68" stroke="#333" stroke-width="0.6" />
<rect x="531.50" y="116.10" width="11.00" height="6.86" fill="#f03a4e" stroke="#222" stroke-width="0.6" />
<line x1="531.50" y1="117.24" x2="542.50" y2="117.24" stroke="#111" stroke-width="1.0" />
<line x1="388.70" y1="39.30" x2="399.70" y2="39.30" stroke="#444" stroke-width="0.6" />
<text x="394.20" y="40.20" font-size="7.2" text-anchor="middle" fill="#222" stroke="#222" stroke-width="0.35" >****</text>
<line x1="415.80" y1="41.50" x2="426.80" y2="41.50" stroke="#444" stroke-width="0.6" />
<text x="421.30" y="42.40" font-size="7.2" text-anchor="middle" fill="#222" stroke="#222" stroke-width="0.35" >**</text>
<line x1="443.20" y1="89.50" x2="454.20" y2="89.50" stroke="#444" stroke-width="0.6" />
<text x="448.70" y="90.40" font-size="7.2" text-anchor="middle" fill="#222" stroke="#222" stroke-width="0.35" >**</text>
<line x1="470.70" y1="69.60" x2="481.70" y2="69.60" stroke="#444" stroke-width="0.6" />
<text x="476.20" y="70.50" font-size="7.2" text-anchor="middle" fill="#222" stroke="#222" stroke-width="0.35" >***</text>
<line x1="498.30" y1="84.60" x2="509.30" y2="84.60" stroke="#444" stroke-width="0.6" />
<text x="503.80" y="85.50" font-size="7.2" text-anchor="middle" fill="#222" stroke="#222" stroke-width="0.35" >***</text>
<line x1="526.00" y1="99.20" x2="537.00" y2="99.20" stroke="#444" stroke-width="0.6" />
<text x="531.50" y="100.10" font-size="7.2" text-anchor="middle" fill="#222" stroke="#222" stroke-width="0.35" >*</text>
<rect x="377.00" y="25.40" width="169.60" height="108.20" fill="none" stroke="#b4b4b4" stroke-width="1.1" />
<line x1="375.50" y1="130.40" x2="377.00" y2="130.40" stroke="#666" stroke-width="0.6" />
<text x="374.00" y="132.50" font-size="5.9" text-anchor="end" fill="#333" stroke="#333" stroke-width="0.08" >14</text>
<line x1="375.50" y1="101.80" x2="377.00" y2="101.80" stroke="#666" stroke-width="0.6" />
<text x="374.00" y="103.90" font-size="5.9" text-anchor="end" fill="#333" stroke="#333" stroke-width="0.08" >16</text>
<line x1="375.50" y1="73.20" x2="377.00" y2="73.20" stroke="#666" stroke-width="0.6" />
<text x="374.00" y="75.30" font-size="5.9" text-anchor="end" fill="#333" stroke="#333" stroke-width="0.08" >18</text>
<line x1="375.50" y1="44.60" x2="377.00" y2="44.60" stroke="#666" stroke-width="0.6" />
<text x="374.00" y="46.70" font-size="5.9" text-anchor="end" fill="#333" stroke="#333" stroke-width="0.08" >20</text>
<line x1="394.20" y1="133.60" x2="394.20" y2="135.10" stroke="#666" stroke-width="0.6" />
<text x="394.20" y="145.30" font-size="6.2" text-anchor="middle" fill="#111" stroke="#111" stroke-width="0.12" >MGAT3</text>
<line x1="421.30" y1="133.60" x2="421.30" y2="135.10" stroke="#666" stroke-width="0.6" />
<text x="421.30" y="145.30" font-size="6.2" text-anchor="middle" fill="#111" stroke="#111" stroke-width="0.12" >ATP6V1B1</text>
<line x1="448.70" y1="133.60" x2="448.70" y2="135.10" stroke="#666" stroke-width="0.6" />
<text x="448.70" y="145.30" font-size="6.2" text-anchor="middle" fill="#111" stroke="#111" stroke-width="0.12" >GPC6</text>
<line x1="476.20" y1="133.60" x2="476.20" y2="135.10" stroke="#666" stroke-width="0.6" />
<text x="476.20" y="145.30" font-size="6.2" text-anchor="middle" fill="#111" stroke="#111" stroke-width="0.12" >GLA</text>
<line x1="503.80" y1="133.60" x2="503.80" y2="135.10" stroke="#666" stroke-width="0.6" />
<text x="503.80" y="145.30" font-size="6.2" text-anchor="middle" fill="#111" stroke="#111" stroke-width="0.12" >SDF4</text>
<line x1="531.50" y1="133.60" x2="531.50" y2="135.10" stroke="#666" stroke-width="0.6" />
<text x="531.50" y="145.30" font-size="6.2" text-anchor="middle" fill="#111" stroke="#111" stroke-width="0.12" >MANEA</text>
<text transform="translate(362.60,78.80) rotate(-90)" font-size="7.7" text-anchor="middle" fill="#111" stroke="#111" stroke-width="0.08">log2 (Abundance)</text>
<text x="462.00" y="18.80" font-size="10.0" text-anchor="middle" fill="#111" stroke="#111" stroke-width="0.2" >Six shared proteins</text>
<rect x="517.20" y="6.90" width="8.00" height="5.90" fill="#1452b0" stroke="#222" stroke-width="0.5" />
<line x1="517.20" y1="9.85" x2="525.20" y2="9.85" stroke="#111" stroke-width="0.6" />
<line x1="521.20" y1="5.80" x2="521.20" y2="6.90" stroke="#333" stroke-width="0.5" />
<line x1="521.20" y1="12.80" x2="521.20" y2="13.90" stroke="#333" stroke-width="0.5" />
<rect x="517.20" y="17.20" width="8.00" height="5.80" fill="#f03a4e" stroke="#222" stroke-width="0.5" />
<line x1="517.20" y1="20.10" x2="525.20" y2="20.10" stroke="#111" stroke-width="0.6" />
<line x1="521.20" y1="16.10" x2="521.20" y2="17.20" stroke="#333" stroke-width="0.5" />
<line x1="521.20" y1="23.00" x2="521.20" y2="24.10" stroke="#333" stroke-width="0.5" />
<text x="526.20" y="13.00" font-size="6.3" text-anchor="start" fill="#111" stroke="#111" stroke-width="0.08" >Vector</text>
<text x="526.20" y="23.20" font-size="6.3" text-anchor="start" fill="#111" stroke="#111" stroke-width="0.08" >MGAT3</text>
<defs><linearGradient id="g34_199" x1="0" y1="0" x2="1" y2="0"><stop offset="0" stop-color="#9a9a9a"/><stop offset="0.5" stop-color="#c0c0c0"/><stop offset="1" stop-color="#a8a8a8"/></linearGradient></defs>
<rect x="34.2" y="199.5" width="37.3" height="14.3" fill="url(#g34_199)"/>
<rect x="37.60" y="202.55" width="16" height="8.5" rx="4.25" fill="#000" opacity="0.55" filter="url(#blur1)"/>
<rect x="38.60" y="204.85" width="14" height="5.5" rx="2.75" fill="#000" opacity="0.75" filter="url(#blur1)"/>
<rect x="55.00" y="204.60" width="14" height="6" rx="3.00" fill="#000" opacity="0.35" filter="url(#blur1)"/>
<rect x="56.50" y="206.30" width="11" height="3" rx="1.50" fill="#000" opacity="0.4" filter="url(#blur1)"/>
<rect x="34.2" y="199.5" width="37.3" height="14.3" fill="none" stroke="#2b1a1a" stroke-width="1.4"/>
<defs><linearGradient id="g34_216" x1="0" y1="0" x2="1" y2="0"><stop offset="0" stop-color="#b8b8b8"/><stop offset="0.5" stop-color="#dedede"/><stop offset="1" stop-color="#c4c4c4"/></linearGradient></defs>
<rect x="34.2" y="216.2" width="37.3" height="11.5" fill="url(#g34_216)"/>
<rect x="37.60" y="220.50" width="16" height="3.0" rx="1.50" fill="#000" opacity="1.0" filter="url(#blur1)"/>
<rect x="54.50" y="220.50" width="15" height="3.0" rx="1.50" fill="#000" opacity="0.95" filter="url(#blur1)"/>
<rect x="34.2" y="216.2" width="37.3" height="11.5" fill="none" stroke="#2b1a1a" stroke-width="1.4"/>
<text x="26.60" y="209.80" font-size="7.5" text-anchor="end" fill="#111" stroke="#111" stroke-width="0.08" >GLA</text>
<text x="32.40" y="224.50" font-size="7.5" text-anchor="end" fill="#111" stroke="#111" stroke-width="0.08" >GAPDH</text>
<text x="72.00" y="196.40" font-size="5.8" text-anchor="start" fill="#111" stroke="#111" stroke-width="0.08" >KDa</text>
<line x1="71.20" y1="201.80" x2="73.60" y2="201.80" stroke="#333" stroke-width="0.6" />
<text x="75.20" y="203.90" font-size="5.8" text-anchor="start" fill="#111" stroke="#111" stroke-width="0.08" >50</text>
<line x1="71.20" y1="223.40" x2="73.60" y2="223.40" stroke="#333" stroke-width="0.6" />
<text x="75.20" y="225.50" font-size="5.8" text-anchor="start" fill="#111" stroke="#111" stroke-width="0.08" >35</text>
<text transform="translate(46.80,234.60) rotate(-45)" font-size="7.2" text-anchor="end" fill="#111" stroke="#111" stroke-width="0.08">Vector</text>
<text transform="translate(64.60,235.60) rotate(-45)" font-size="7.2" text-anchor="end" fill="#111" stroke="#111" stroke-width="0.08">MGAT3</text>
<rect x="116.20" y="198.00" width="14.30" height="51.30" fill="#ffa0a0" stroke="none" stroke-width="1" />
<rect x="138.00" y="216.47" width="14.20" height="32.83" fill="#ffc07c" stroke="none" stroke-width="1" />
<line x1="145.00" y1="216.47" x2="145.00" y2="211.34" stroke="#222" stroke-width="0.9" />
<line x1="141.70" y1="211.34" x2="148.30" y2="211.34" stroke="#222" stroke-width="0.9" />
<line x1="109.30" y1="171.95" x2="109.30" y2="249.30" stroke="#222" stroke-width="1.0" />
<line x1="108.80" y1="249.30" x2="158.20" y2="249.30" stroke="#222" stroke-width="1.0" />
<line x1="107.50" y1="249.30" x2="109.30" y2="249.30" stroke="#222" stroke-width="0.8" />
<text x="106.10" y="251.30" font-size="5.9" text-anchor="end" fill="#222" stroke="#222" stroke-width="0.08" >0.0</text>
<line x1="107.50" y1="223.65" x2="109.30" y2="223.65" stroke="#222" stroke-width="0.8" />
<text x="106.10" y="225.65" font-size="5.9" text-anchor="end" fill="#222" stroke="#222" stroke-width="0.08" >0.5</text>
<line x1="107.50" y1="198.00" x2="109.30" y2="198.00" stroke="#222" stroke-width="0.8" />
<text x="106.10" y="200.00" font-size="5.9" text-anchor="end" fill="#222" stroke="#222" stroke-width="0.08" >1.0</text>
<line x1="107.50" y1="172.35" x2="109.30" y2="172.35" stroke="#222" stroke-width="0.8" />
<text x="106.10" y="174.35" font-size="5.9" text-anchor="end" fill="#222" stroke="#222" stroke-width="0.08" >1.5</text>
<line x1="122.70" y1="193.00" x2="145.50" y2="193.00" stroke="#333" stroke-width="0.7" />
<text x="134.10" y="193.20" font-size="7.2" text-anchor="middle" fill="#222" stroke="#222" stroke-width="0.35" >**</text>
<text transform="translate(93.30,210.00) rotate(-90)" font-size="7.5" text-anchor="middle" fill="#111" stroke="#111" stroke-width="0.08">Relative GLA protein level</text>
<line x1="123.30" y1="249.30" x2="123.30" y2="251.60" stroke="#222" stroke-width="0.8" />
<line x1="144.60" y1="249.30" x2="144.60" y2="251.60" stroke="#222" stroke-width="0.8" />
<text transform="translate(125.90,258.40) rotate(-45)" font-size="7.2" text-anchor="end" fill="#111" stroke="#111" stroke-width="0.08">Vector</text>
<text transform="translate(148.00,258.80) rotate(-45)" font-size="7.2" text-anchor="end" fill="#111" stroke="#111" stroke-width="0.08">MGAT3</text>
<rect x="201.80" y="198.00" width="14.10" height="51.40" fill="#ffa0a0" stroke="none" stroke-width="1" />
<rect x="222.30" y="198.00" width="14.10" height="51.40" fill="#ffc07c" stroke="none" stroke-width="1" />
<line x1="229.50" y1="198.00" x2="229.50" y2="190.29" stroke="#222" stroke-width="0.9" />
<line x1="226.20" y1="190.29" x2="232.80" y2="190.29" stroke="#222" stroke-width="0.9" />
<line x1="195.10" y1="171.90" x2="195.10" y2="249.40" stroke="#222" stroke-width="1.0" />
<line x1="194.60" y1="249.40" x2="242.40" y2="249.40" stroke="#222" stroke-width="1.0" />
<line x1="193.30" y1="249.40" x2="195.10" y2="249.40" stroke="#222" stroke-width="0.8" />
<text x="191.90" y="251.40" font-size="5.9" text-anchor="end" fill="#222" stroke="#222" stroke-width="0.08" >0.0</text>
<line x1="193.30" y1="223.70" x2="195.10" y2="223.70" stroke="#222" stroke-width="0.8" />
<text x="191.90" y="225.70" font-size="5.9" text-anchor="end" fill="#222" stroke="#222" stroke-width="0.08" >0.5</text>
<line x1="193.30" y1="198.00" x2="195.10" y2="198.00" stroke="#222" stroke-width="0.8" />
<text x="191.90" y="200.00" font-size="5.9" text-anchor="end" fill="#222" stroke="#222" stroke-width="0.08" >1.0</text>
<line x1="193.30" y1="172.30" x2="195.10" y2="172.30" stroke="#222" stroke-width="0.8" />
<text x="191.90" y="174.30" font-size="5.9" text-anchor="end" fill="#222" stroke="#222" stroke-width="0.08" >1.5</text>
<line x1="208.20" y1="185.90" x2="230.00" y2="185.90" stroke="#333" stroke-width="0.7" />
<text x="219.10" y="183.60" font-size="5.8" text-anchor="middle" fill="#222" stroke="#222" stroke-width="0.08" >ns</text>
<text transform="translate(180.80,210.00) rotate(-90)" font-size="7.5" text-anchor="middle" fill="#111" stroke="#111" stroke-width="0.08">Relative GLA mRNA level</text>
<line x1="208.80" y1="249.40" x2="208.80" y2="251.60" stroke="#222" stroke-width="0.8" />
<line x1="229.30" y1="249.40" x2="229.30" y2="251.60" stroke="#222" stroke-width="0.8" />
<text transform="translate(211.50,258.40) rotate(-45)" font-size="7.2" text-anchor="end" fill="#111" stroke="#111" stroke-width="0.08">Vector</text>
<text transform="translate(234.30,258.80) rotate(-45)" font-size="7.2" text-anchor="end" fill="#111" stroke="#111" stroke-width="0.08">MGAT3</text>
<line x1="275.60" y1="255.30" x2="280.80" y2="255.30" stroke="#808080" stroke-width="0.45" />
<line x1="277.80" y1="253.46" x2="280.80" y2="253.46" stroke="#808080" stroke-width="0.45" />
<line x1="277.80" y1="251.62" x2="280.80" y2="251.62" stroke="#808080" stroke-width="0.45" />
<line x1="277.80" y1="249.77" x2="280.80" y2="249.77" stroke="#808080" stroke-width="0.45" />
<line x1="277.80" y1="247.93" x2="280.80" y2="247.93" stroke="#808080" stroke-width="0.45" />
<line x1="275.60" y1="246.09" x2="280.80" y2="246.09" stroke="#808080" stroke-width="0.45" />
<line x1="277.80" y1="244.25" x2="280.80" y2="244.25" stroke="#808080" stroke-width="0.45" />
<line x1="277.80" y1="242.41" x2="280.80" y2="242.41" stroke="#808080" stroke-width="0.45" />
<line x1="277.80" y1="240.56" x2="280.80" y2="240.56" stroke="#808080" stroke-width="0.45" />
<line x1="277.80" y1="238.72" x2="280.80" y2="238.72" stroke="#808080" stroke-width="0.45" />
<line x1="275.60" y1="236.88" x2="280.80" y2="236.88" stroke="#808080" stroke-width="0.45" />
<line x1="277.80" y1="235.04" x2="280.80" y2="235.04" stroke="#808080" stroke-width="0.45" />
<line x1="277.80" y1="233.20" x2="280.80" y2="233.20" stroke="#808080" stroke-width="0.45" />
<line x1="277.80" y1="231.35" x2="280.80" y2="231.35" stroke="#808080" stroke-width="0.45" />
<line x1="277.80" y1="229.51" x2="280.80" y2="229.51" stroke="#808080" stroke-width="0.45" />
<line x1="275.60" y1="227.67" x2="280.80" y2="227.67" stroke="#808080" stroke-width="0.45" />
<line x1="277.80" y1="225.83" x2="280.80" y2="225.83" stroke="#808080" stroke-width="0.45" />
<line x1="277.80" y1="223.99" x2="280.80" y2="223.99" stroke="#808080" stroke-width="0.45" />
<line x1="277.80" y1="222.14" x2="280.80" y2="222.14" stroke="#808080" stroke-width="0.45" />
<line x1="277.80" y1="220.30" x2="280.80" y2="220.30" stroke="#808080" stroke-width="0.45" />
<line x1="275.60" y1="218.46" x2="280.80" y2="218.46" stroke="#808080" stroke-width="0.45" />
<line x1="277.80" y1="216.62" x2="280.80" y2="216.62" stroke="#808080" stroke-width="0.45" />
<line x1="277.80" y1="214.78" x2="280.80" y2="214.78" stroke="#808080" stroke-width="0.45" />
<line x1="277.80" y1="212.93" x2="280.80" y2="212.93" stroke="#808080" stroke-width="0.45" />
<line x1="277.80" y1="211.09" x2="280.80" y2="211.09" stroke="#808080" stroke-width="0.45" />
<line x1="275.60" y1="209.25" x2="280.80" y2="209.25" stroke="#808080" stroke-width="0.45" />
<line x1="277.80" y1="207.41" x2="280.80" y2="207.41" stroke="#808080" stroke-width="0.45" />
<line x1="277.80" y1="205.57" x2="280.80" y2="205.57" stroke="#808080" stroke-width="0.45" />
<line x1="277.80" y1="203.72" x2="280.80" y2="203.72" stroke="#808080" stroke-width="0.45" />
<line x1="277.80" y1="201.88" x2="280.80" y2="201.88" stroke="#808080" stroke-width="0.45" />
<line x1="275.60" y1="200.04" x2="280.80" y2="200.04" stroke="#808080" stroke-width="0.45" />
<line x1="277.80" y1="198.20" x2="280.80" y2="198.20" stroke="#808080" stroke-width="0.45" />
<line x1="277.80" y1="196.36" x2="280.80" y2="196.36" stroke="#808080" stroke-width="0.45" />
<line x1="277.80" y1="194.51" x2="280.80" y2="194.51" stroke="#808080" stroke-width="0.45" />
<line x1="277.80" y1="192.67" x2="280.80" y2="192.67" stroke="#808080" stroke-width="0.45" />
<line x1="275.60" y1="190.83" x2="280.80" y2="190.83" stroke="#808080" stroke-width="0.45" />
<line x1="277.80" y1="188.99" x2="280.80" y2="188.99" stroke="#808080" stroke-width="0.45" />
<line x1="277.80" y1="187.15" x2="280.80" y2="187.15" stroke="#808080" stroke-width="0.45" />
<line x1="277.80" y1="185.30" x2="280.80" y2="185.30" stroke="#808080" stroke-width="0.45" />
<line x1="277.80" y1="183.46" x2="280.80" y2="183.46" stroke="#808080" stroke-width="0.45" />
<line x1="275.60" y1="181.62" x2="280.80" y2="181.62" stroke="#808080" stroke-width="0.45" />
<line x1="277.80" y1="179.78" x2="280.80" y2="179.78" stroke="#808080" stroke-width="0.45" />
<line x1="277.80" y1="177.94" x2="280.80" y2="177.94" stroke="#808080" stroke-width="0.45" />
<line x1="277.80" y1="176.09" x2="280.80" y2="176.09" stroke="#808080" stroke-width="0.45" />
<line x1="277.80" y1="174.25" x2="280.80" y2="174.25" stroke="#808080" stroke-width="0.45" />
<line x1="275.60" y1="172.41" x2="280.80" y2="172.41" stroke="#808080" stroke-width="0.45" />
<line x1="277.80" y1="170.57" x2="280.80" y2="170.57" stroke="#808080" stroke-width="0.45" />
<line x1="277.80" y1="168.73" x2="280.80" y2="168.73" stroke="#808080" stroke-width="0.45" />
<line x1="277.80" y1="166.88" x2="280.80" y2="166.88" stroke="#808080" stroke-width="0.45" />
<line x1="277.80" y1="165.04" x2="280.80" y2="165.04" stroke="#808080" stroke-width="0.45" />
<line x1="275.60" y1="163.20" x2="280.80" y2="163.20" stroke="#808080" stroke-width="0.45" />
<line x1="280.80" y1="162.90" x2="280.80" y2="255.30" stroke="#555" stroke-width="0.6" />
<text x="274.00" y="257.50" font-size="6.2" text-anchor="end" fill="#222" stroke="#222" stroke-width="0.08" >0</text>
<text x="274.00" y="248.29" font-size="6.2" text-anchor="end" fill="#222" stroke="#222" stroke-width="0.08" >10</text>
<text x="274.00" y="239.08" font-size="6.2" text-anchor="end" fill="#222" stroke="#222" stroke-width="0.08" >20</text>
<text x="274.00" y="229.87" font-size="6.2" text-anchor="end" fill="#222" stroke="#222" stroke-width="0.08" >30</text>
<text x="274.00" y="220.66" font-size="6.2" text-anchor="end" fill="#222" stroke="#222" stroke-width="0.08" >40</text>
<text x="274.00" y="211.45" font-size="6.2" text-anchor="end" fill="#222" stroke="#222" stroke-width="0.08" >50</text>
<text x="274.00" y="202.24" font-size="6.2" text-anchor="end" fill="#222" stroke="#222" stroke-width="0.08" >60</text>
<text x="274.00" y="193.03" font-size="6.2" text-anchor="end" fill="#222" stroke="#222" stroke-width="0.08" >70</text>
<text x="274.00" y="183.82" font-size="6.2" text-anchor="end" fill="#222" stroke="#222" stroke-width="0.08" >80</text>
<text x="274.00" y="174.61" font-size="6.2" text-anchor="end" fill="#222" stroke="#222" stroke-width="0.08" >90</text>
<text x="274.00" y="165.40" font-size="6.2" text-anchor="end" fill="#222" stroke="#222" stroke-width="0.08" >100</text>
<text transform="translate(262.00,207.30) rotate(-90)" font-size="7.5" text-anchor="middle" fill="#111" stroke="#111" stroke-width="0.08">Relative Abundance</text>
<line x1="280.80" y1="255.50" x2="549.00" y2="255.50" stroke="#555" stroke-width="0.7" />
<line x1="280.94" y1="255.50" x2="280.94" y2="256.50" stroke="#777" stroke-width="0.35" />
<line x1="283.48" y1="255.50" x2="283.48" y2="256.50" stroke="#777" stroke-width="0.35" />
<line x1="286.02" y1="255.50" x2="286.02" y2="256.50" stroke="#777" stroke-width="0.35" />
<line x1="288.56" y1="255.50" x2="288.56" y2="256.50" stroke="#777" stroke-width="0.35" />
<line x1="291.10" y1="255.50" x2="291.10" y2="256.90" stroke="#777" stroke-width="0.35" />
<line x1="293.64" y1="255.50" x2="293.64" y2="256.50" stroke="#777" stroke-width="0.35" />
<line x1="296.18" y1="255.50" x2="296.18" y2="256.50" stroke="#777" stroke-width="0.35" />
<line x1="298.72" y1="255.50" x2="298.72" y2="256.50" stroke="#777" stroke-width="0.35" />
<line x1="301.26" y1="255.50" x2="301.26" y2="256.50" stroke="#777" stroke-width="0.35" />
<line x1="303.80" y1="255.50" x2="303.80" y2="256.90" stroke="#777" stroke-width="0.35" />
<line x1="306.34" y1="255.50" x2="306.34" y2="256.50" stroke="#777" stroke-width="0.35" />
<line x1="308.88" y1="255.50" x2="308.88" y2="256.50" stroke="#777" stroke-width="0.35" />
<line x1="311.42" y1="255.50" x2="311.42" y2="256.50" stroke="#777" stroke-width="0.35" />
<line x1="313.96" y1="255.50" x2="313.96" y2="256.50" stroke="#777" stroke-width="0.35" />
<line x1="316.50" y1="255.50" x2="316.50" y2="256.90" stroke="#777" stroke-width="0.35" />
<line x1="319.04" y1="255.50" x2="319.04" y2="256.50" stroke="#777" stroke-width="0.35" />
<line x1="321.58" y1="255.50" x2="321.58" y2="256.50" stroke="#777" stroke-width="0.35" />
<line x1="324.12" y1="255.50" x2="324.12" y2="256.50" stroke="#777" stroke-width="0.35" />
<line x1="326.66" y1="255.50" x2="326.66" y2="256.50" stroke="#777" stroke-width="0.35" />
<line x1="329.20" y1="255.50" x2="329.20" y2="257.50" stroke="#777" stroke-width="0.35" />
<line x1="331.74" y1="255.50" x2="331.74" y2="256.50" stroke="#777" stroke-width="0.35" />
<line x1="334.28" y1="255.50" x2="334.28" y2="256.50" stroke="#777" stroke-width="0.35" />
<line x1="336.82" y1="255.50" x2="336.82" y2="256.50" stroke="#777" stroke-width="0.35" />
<line x1="339.36" y1="255.50" x2="339.36" y2="256.50" stroke="#777" stroke-width="0.35" />
<line x1="341.90" y1="255.50" x2="341.90" y2="256.90" stroke="#777" stroke-width="0.35" />
<line x1="344.44" y1="255.50" x2="344.44" y2="256.50" stroke="#777" stroke-width="0.35" />
<line x1="346.98" y1="255.50" x2="346.98" y2="256.50" stroke="#777" stroke-width="0.35" />
<line x1="349.52" y1="255.50" x2="349.52" y2="256.50" stroke="#777" stroke-width="0.35" />
<line x1="352.06" y1="255.50" x2="352.06" y2="256.50" stroke="#777" stroke-width="0.35" />
<line x1="354.60" y1="255.50" x2="354.60" y2="256.90" stroke="#777" stroke-width="0.35" />
<line x1="357.14" y1="255.50" x2="357.14" y2="256.50" stroke="#777" stroke-width="0.35" />
<line x1="359.68" y1="255.50" x2="359.68" y2="256.50" stroke="#777" stroke-width="0.35" />
<line x1="362.22" y1="255.50" x2="362.22" y2="256.50" stroke="#777" stroke-width="0.35" />
<line x1="364.76" y1="255.50" x2="364.76" y2="256.50" stroke="#777" stroke-width="0.35" />
<line x1="367.30" y1="255.50" x2="367.30" y2="256.90" stroke="#777" stroke-width="0.35" />
<line x1="369.84" y1="255.50" x2="369.84" y2="256.50" stroke="#777" stroke-width="0.35" />
<line x1="372.38" y1="255.50" x2="372.38" y2="256.50" stroke="#777" stroke-width="0.35" />
<line x1="374.92" y1="255.50" x2="374.92" y2="256.50" stroke="#777" stroke-width="0.35" />
<line x1="377.46" y1="255.50" x2="377.46" y2="256.50" stroke="#777" stroke-width="0.35" />
<line x1="380.00" y1="255.50" x2="380.00" y2="256.90" stroke="#777" stroke-width="0.35" />
<line x1="382.54" y1="255.50" x2="382.54" y2="256.50" stroke="#777" stroke-width="0.35" />
<line x1="385.08" y1="255.50" x2="385.08" y2="256.50" stroke="#777" stroke-width="0.35" />
<line x1="387.62" y1="255.50" x2="387.62" y2="256.50" stroke="#777" stroke-width="0.35" />
<line x1="390.16" y1="255.50" x2="390.16" y2="256.50" stroke="#777" stroke-width="0.35" />
<line x1="392.70" y1="255.50" x2="392.70" y2="257.50" stroke="#777" stroke-width="0.35" />
<line x1="395.24" y1="255.50" x2="395.24" y2="256.50" stroke="#777" stroke-width="0.35" />
<line x1="397.78" y1="255.50" x2="397.78" y2="256.50" stroke="#777" stroke-width="0.35" />
<line x1="400.32" y1="255.50" x2="400.32" y2="256.50" stroke="#777" stroke-width="0.35" />
<line x1="402.86" y1="255.50" x2="402.86" y2="256.50" stroke="#777" stroke-width="0.35" />
<line x1="405.40" y1="255.50" x2="405.40" y2="256.90" stroke="#777" stroke-width="0.35" />
<line x1="407.94" y1="255.50" x2="407.94" y2="256.50" stroke="#777" stroke-width="0.35" />
<line x1="410.48" y1="255.50" x2="410.48" y2="256.50" stroke="#777" stroke-width="0.35" />
<line x1="413.02" y1="255.50" x2="413.02" y2="256.50" stroke="#777" stroke-width="0.35" />
<line x1="415.56" y1="255.50" x2="415.56" y2="256.50" stroke="#777" stroke-width="0.35" />
<line x1="418.10" y1="255.50" x2="418.10" y2="256.90" stroke="#777" stroke-width="0.35" />
<line x1="420.64" y1="255.50" x2="420.64" y2="256.50" stroke="#777" stroke-width="0.35" />
<line x1="423.18" y1="255.50" x2="423.18" y2="256.50" stroke="#777" stroke-width="0.35" />
<line x1="425.72" y1="255.50" x2="425.72" y2="256.50" stroke="#777" stroke-width="0.35" />
<line x1="428.26" y1="255.50" x2="428.26" y2="256.50" stroke="#777" stroke-width="0.35" />
<line x1="430.80" y1="255.50" x2="430.80" y2="256.90" stroke="#777" stroke-width="0.35" />
<line x1="433.34" y1="255.50" x2="433.34" y2="256.50" stroke="#777" stroke-width="0.35" />
<line x1="435.88" y1="255.50" x2="435.88" y2="256.50" stroke="#777" stroke-width="0.35" />
<line x1="438.42" y1="255.50" x2="438.42" y2="256.50" stroke="#777" stroke-width="0.35" />
<line x1="440.96" y1="255.50" x2="440.96" y2="256.50" stroke="#777" stroke-width="0.35" />
<line x1="443.50" y1="255.50" x2="443.50" y2="256.90" stroke="#777" stroke-width="0.35" />
<line x1="446.04" y1="255.50" x2="446.04" y2="256.50" stroke="#777" stroke-width="0.35" />
<line x1="448.58" y1="255.50" x2="448.58" y2="256.50" stroke="#777" stroke-width="0.35" />
<line x1="451.12" y1="255.50" x2="451.12" y2="256.50" stroke="#777" stroke-width="0.35" />
<line x1="453.66" y1="255.50" x2="453.66" y2="256.50" stroke="#777" stroke-width="0.35" />
<line x1="456.20" y1="255.50" x2="456.20" y2="257.50" stroke="#777" stroke-width="0.35" />
<line x1="458.74" y1="255.50" x2="458.74" y2="256.50" stroke="#777" stroke-width="0.35" />
<line x1="461.28" y1="255.50" x2="461.28" y2="256.50" stroke="#777" stroke-width="0.35" />
<line x1="463.82" y1="255.50" x2="463.82" y2="256.50" stroke="#777" stroke-width="0.35" />
<line x1="466.36" y1="255.50" x2="466.36" y2="256.50" stroke="#777" stroke-width="0.35" />
<line x1="468.90" y1="255.50" x2="468.90" y2="256.90" stroke="#777" stroke-width="0.35" />
<line x1="471.44" y1="255.50" x2="471.44" y2="256.50" stroke="#777" stroke-width="0.35" />
<line x1="473.98" y1="255.50" x2="473.98" y2="256.50" stroke="#777" stroke-width="0.35" />
<line x1="476.52" y1="255.50" x2="476.52" y2="256.50" stroke="#777" stroke-width="0.35" />
<line x1="479.06" y1="255.50" x2="479.06" y2="256.50" stroke="#777" stroke-width="0.35" />
<line x1="481.60" y1="255.50" x2="481.60" y2="256.90" stroke="#777" stroke-width="0.35" />
<line x1="484.14" y1="255.50" x2="484.14" y2="256.50" stroke="#777" stroke-width="0.35" />
<line x1="486.68" y1="255.50" x2="486.68" y2="256.50" stroke="#777" stroke-width="0.35" />
<line x1="489.22" y1="255.50" x2="489.22" y2="256.50" stroke="#777" stroke-width="0.35" />
<line x1="491.76" y1="255.50" x2="491.76" y2="256.50" stroke="#777" stroke-width="0.35" />
<line x1="494.30" y1="255.50" x2="494.30" y2="256.90" stroke="#777" stroke-width="0.35" />
<line x1="496.84" y1="255.50" x2="496.84" y2="256.50" stroke="#777" stroke-width="0.35" />
<line x1="499.38" y1="255.50" x2="499.38" y2="256.50" stroke="#777" stroke-width="0.35" />
<line x1="501.92" y1="255.50" x2="501.92" y2="256.50" stroke="#777" stroke-width="0.35" />
<line x1="504.46" y1="255.50" x2="504.46" y2="256.50" stroke="#777" stroke-width="0.35" />
<line x1="507.00" y1="255.50" x2="507.00" y2="256.90" stroke="#777" stroke-width="0.35" />
<line x1="509.54" y1="255.50" x2="509.54" y2="256.50" stroke="#777" stroke-width="0.35" />
<line x1="512.08" y1="255.50" x2="512.08" y2="256.50" stroke="#777" stroke-width="0.35" />
<line x1="514.62" y1="255.50" x2="514.62" y2="256.50" stroke="#777" stroke-width="0.35" />
<line x1="517.16" y1="255.50" x2="517.16" y2="256.50" stroke="#777" stroke-width="0.35" />
<line x1="519.70" y1="255.50" x2="519.70" y2="257.50" stroke="#777" stroke-width="0.35" />
<line x1="522.24" y1="255.50" x2="522.24" y2="256.50" stroke="#777" stroke-width="0.35" />
<line x1="524.78" y1="255.50" x2="524.78" y2="256.50" stroke="#777" stroke-width="0.35" />
<line x1="527.32" y1="255.50" x2="527.32" y2="256.50" stroke="#777" stroke-width="0.35" />
<line x1="529.86" y1="255.50" x2="529.86" y2="256.50" stroke="#777" stroke-width="0.35" />
<line x1="532.40" y1="255.50" x2="532.40" y2="256.90" stroke="#777" stroke-width="0.35" />
<line x1="534.94" y1="255.50" x2="534.94" y2="256.50" stroke="#777" stroke-width="0.35" />
<line x1="537.48" y1="255.50" x2="537.48" y2="256.50" stroke="#777" stroke-width="0.35" />
<line x1="540.02" y1="255.50" x2="540.02" y2="256.50" stroke="#777" stroke-width="0.35" />
<line x1="542.56" y1="255.50" x2="542.56" y2="256.50" stroke="#777" stroke-width="0.35" />
<line x1="545.10" y1="255.50" x2="545.10" y2="256.90" stroke="#777" stroke-width="0.35" />
<line x1="547.64" y1="255.50" x2="547.64" y2="256.50" stroke="#777" stroke-width="0.35" />
<text x="329.20" y="264.60" font-size="6.6" text-anchor="middle" fill="#222" stroke="#222" stroke-width="0.08" >500</text>
<text x="392.70" y="264.60" font-size="6.6" text-anchor="middle" fill="#222" stroke="#222" stroke-width="0.08" >1000</text>
<text x="456.20" y="264.60" font-size="6.6" text-anchor="middle" fill="#222" stroke="#222" stroke-width="0.08" >1500</text>
<text x="519.70" y="264.60" font-size="6.6" text-anchor="middle" fill="#222" stroke="#222" stroke-width="0.08" >2000</text>
<text x="421.00" y="271.60" font-size="6.8" text-anchor="middle" fill="#222" stroke="#222" stroke-width="0.08" >m/z</text>
<line x1="282.00" y1="230.43" x2="282.00" y2="255.30" stroke="#333" stroke-width="0.45" />
<line x1="283.40" y1="246.09" x2="283.40" y2="255.30" stroke="#555" stroke-width="0.45" />
<line x1="284.40" y1="233.20" x2="284.40" y2="255.30" stroke="#444" stroke-width="0.45" />
<line x1="286.50" y1="222.14" x2="286.50" y2="255.30" stroke="#222" stroke-width="0.45" />
<line x1="288.80" y1="233.20" x2="288.80" y2="255.30" stroke="#aaa" stroke-width="0.45" />
<line x1="299.60" y1="250.70" x2="299.60" y2="255.30" stroke="#aaa" stroke-width="0.45" />
<line x1="303.00" y1="253.46" x2="303.00" y2="255.30" stroke="#666" stroke-width="0.45" />
<line x1="386.30" y1="246.09" x2="386.30" y2="255.30" stroke="#222" stroke-width="0.45" />
<line x1="398.00" y1="249.77" x2="398.00" y2="255.30" stroke="#333" stroke-width="0.45" />
<line x1="399.50" y1="249.31" x2="399.50" y2="255.30" stroke="#333" stroke-width="0.45" />
<line x1="407.00" y1="252.54" x2="407.00" y2="255.30" stroke="#555" stroke-width="0.45" />
<line x1="413.30" y1="251.62" x2="413.30" y2="255.30" stroke="#444" stroke-width="0.45" />
<line x1="414.50" y1="252.54" x2="414.50" y2="255.30" stroke="#555" stroke-width="0.45" />
<line x1="349.00" y1="253.46" x2="349.00" y2="255.30" stroke="#666" stroke-width="0.45" />
<line x1="380.00" y1="253.00" x2="380.00" y2="255.30" stroke="#555" stroke-width="0.45" />
<line x1="411.00" y1="248.85" x2="411.00" y2="255.30" stroke="#f38b35" stroke-width="0.85" />
<line x1="424.20" y1="241.49" x2="424.20" y2="255.30" stroke="#f38b35" stroke-width="0.85" />
<line x1="434.40" y1="250.70" x2="434.40" y2="255.30" stroke="#f38b35" stroke-width="0.85" />
<line x1="443.10" y1="249.77" x2="443.10" y2="255.30" stroke="#f38b35" stroke-width="0.85" />
<line x1="450.40" y1="250.23" x2="450.40" y2="255.30" stroke="#f38b35" stroke-width="0.85" />
<line x1="490.90" y1="253.00" x2="490.90" y2="255.30" stroke="#f38b35" stroke-width="0.85" />
<line x1="517.60" y1="253.00" x2="517.60" y2="255.30" stroke="#f38b35" stroke-width="0.85" />
<line x1="536.00" y1="253.00" x2="536.00" y2="255.30" stroke="#f38b35" stroke-width="0.85" />
<line x1="290.80" y1="163.20" x2="290.80" y2="255.30" stroke="#66d2aa" stroke-width="0.95" />
<line x1="311.60" y1="208.33" x2="311.60" y2="255.30" stroke="#66d2aa" stroke-width="0.95" />
<text transform="translate(294.20,162.50) rotate(-90)" font-size="3.7" text-anchor="end" fill="#333" stroke="#333" stroke-width="0.08">206.08 (1+)</text>
<text transform="translate(314.80,188.00) rotate(-90)" font-size="3.7" text-anchor="end" fill="#333" stroke="#333" stroke-width="0.08">388.14 (1+)</text>
<text transform="translate(285.70,163.50) rotate(-90)" font-size="3.5" text-anchor="end" fill="#555" stroke="#555" stroke-width="0.08">y1 (1+)</text>
<line x1="283.50" y1="175.50" x2="283.50" y2="255.00" stroke="#666" stroke-width="0.6" stroke-dasharray="1.5,2.0"/>
<text transform="translate(288.70,183.00) rotate(-90)" font-size="3.5" text-anchor="end" fill="#555" stroke="#555" stroke-width="0.08">b2 (1+)</text>
<line x1="286.50" y1="195.00" x2="286.50" y2="255.00" stroke="#666" stroke-width="0.6" stroke-dasharray="1.5,2.0"/>
<text transform="translate(303.40,207.00) rotate(-90)" font-size="3.5" text-anchor="end" fill="#555" stroke="#555" stroke-width="0.08">b3 (1+)</text>
<line x1="301.20" y1="219.00" x2="301.20" y2="255.00" stroke="#666" stroke-width="0.6" stroke-dasharray="1.5,2.0"/>
<text transform="translate(307.70,199.00) rotate(-90)" font-size="3.5" text-anchor="end" fill="#555" stroke="#555" stroke-width="0.08">y2 (1+)</text>
<line x1="305.50" y1="211.00" x2="305.50" y2="255.00" stroke="#666" stroke-width="0.6" stroke-dasharray="1.5,2.0"/>
<text transform="translate(320.30,206.00) rotate(-90)" font-size="3.5" text-anchor="end" fill="#555" stroke="#555" stroke-width="0.08">y4 (1+)</text>
<line x1="318.10" y1="218.00" x2="318.10" y2="255.00" stroke="#666" stroke-width="0.6" stroke-dasharray="1.5,2.0"/>
<text transform="translate(347.20,207.00) rotate(-90)" font-size="3.5" text-anchor="end" fill="#555" stroke="#555" stroke-width="0.08">b6 (1+)</text>
<line x1="345.00" y1="219.00" x2="345.00" y2="255.00" stroke="#666" stroke-width="0.6" stroke-dasharray="1.5,2.0"/>
<text transform="translate(360.20,207.00) rotate(-90)" font-size="3.5" text-anchor="end" fill="#555" stroke="#555" stroke-width="0.08">b7 (1+)</text>
<line x1="358.00" y1="219.00" x2="358.00" y2="255.00" stroke="#666" stroke-width="0.6" stroke-dasharray="1.5,2.0"/>
<rect x="336.25" y="213.95" width="2.9" height="2.9" fill="#1f6fd0"/>
<text x="337.70" y="221.50" font-size="3.6" text-anchor="middle" fill="#333" stroke="#333" stroke-width="0.1" >pep</text>
<text transform="translate(338.90,223.80) rotate(-90)" font-size="3.2" text-anchor="end" fill="#555" stroke="#555" stroke-width="0.08">Y1N1 (2+)</text>
<line x1="337.70" y1="238.20" x2="343.00" y2="253.00" stroke="#666" stroke-width="0.6" stroke-dasharray="1.5,2.0"/>
<rect x="365.25" y="196.55" width="2.9" height="2.9" fill="#1f6fd0"/>
<rect x="365.25" y="200.85" width="2.9" height="2.9" fill="#1f6fd0"/>
<polygon points="369.75,202.30 372.25,201.05 372.25,203.55" fill="#e8102a"/>
<text x="366.70" y="207.80" font-size="3.6" text-anchor="middle" fill="#333" stroke="#333" stroke-width="0.1" >pep</text>
<text transform="translate(367.90,210.10) rotate(-90)" font-size="3.2" text-anchor="end" fill="#555" stroke="#555" stroke-width="0.08">Y2N2F (2+)</text>
<line x1="366.70" y1="228.10" x2="366.70" y2="255.00" stroke="#666" stroke-width="0.6" stroke-dasharray="1.5,2.0"/>
<line x1="380.60" y1="200.00" x2="380.60" y2="213.00" stroke="#b0b0b0" stroke-width="0.45" />
<rect x="379.15" y="198.55" width="2.9" height="2.9" fill="#1f6fd0"/>
<circle cx="380.60" cy="204.20" r="1.5" fill="#18a045"/>
<rect x="379.15" y="207.15" width="2.9" height="2.9" fill="#1f6fd0"/>
<rect x="379.15" y="211.55" width="2.9" height="2.9" fill="#1f6fd0"/>
<text x="380.60" y="218.30" font-size="3.6" text-anchor="middle" fill="#333" stroke="#333" stroke-width="0.1" >pep</text>
<text transform="translate(381.80,220.60) rotate(-90)" font-size="3.2" text-anchor="end" fill="#555" stroke="#555" stroke-width="0.08">Y1H1N2 (2+)</text>
<line x1="380.60" y1="239.50" x2="380.60" y2="255.00" stroke="#666" stroke-width="0.6" stroke-dasharray="1.5,2.0"/>
<line x1="390.20" y1="196.00" x2="390.20" y2="208.80" stroke="#b0b0b0" stroke-width="0.45" />
<rect x="388.75" y="194.55" width="2.9" height="2.9" fill="#1f6fd0"/>
<circle cx="390.20" cy="200.40" r="1.5" fill="#18a045"/>
<rect x="388.75" y="203.15" width="2.9" height="2.9" fill="#1f6fd0"/>
<rect x="388.75" y="207.35" width="2.9" height="2.9" fill="#1f6fd0"/>
<polygon points="393.35,208.80 395.85,207.55 395.85,210.05" fill="#e8102a"/>
<text x="390.20" y="214.30" font-size="3.6" text-anchor="middle" fill="#333" stroke="#333" stroke-width="0.1" >pep</text>
<text transform="translate(391.40,216.60) rotate(-90)" font-size="3.2" text-anchor="end" fill="#555" stroke="#555" stroke-width="0.08">Y1H1N2F (2+)</text>
<line x1="390.20" y1="236.40" x2="390.20" y2="255.00" stroke="#666" stroke-width="0.6" stroke-dasharray="1.5,2.0"/>
<line x1="399.90" y1="194.80" x2="404.50" y2="189.80" stroke="#b0b0b0" stroke-width="0.45" />
<line x1="408.60" y1="194.80" x2="404.50" y2="189.80" stroke="#b0b0b0" stroke-width="0.45" />
<line x1="399.90" y1="194.80" x2="404.50" y2="198.00" stroke="#b0b0b0" stroke-width="0.45" />
<line x1="408.60" y1="194.80" x2="404.50" y2="198.00" stroke="#b0b0b0" stroke-width="0.45" />
<line x1="404.50" y1="198.00" x2="404.50" y2="206.20" stroke="#b0b0b0" stroke-width="0.45" />
<rect x="403.05" y="188.35" width="2.9" height="2.9" fill="#1f6fd0"/>
<circle cx="399.90" cy="194.80" r="1.5" fill="#18a045"/>
<circle cx="408.60" cy="194.80" r="1.5" fill="#18a045"/>
<circle cx="404.50" cy="198.00" r="1.5" fill="#18a045"/>
<rect x="403.05" y="200.95" width="2.9" height="2.9" fill="#1f6fd0"/>
<rect x="403.05" y="204.75" width="2.9" height="2.9" fill="#1f6fd0"/>
<polygon points="407.35,206.20 409.85,204.95 409.85,207.45" fill="#e8102a"/>
<text x="404.50" y="212.10" font-size="3.6" text-anchor="middle" fill="#333" stroke="#333" stroke-width="0.1" >pep</text>
<text transform="translate(405.70,214.40) rotate(-90)" font-size="3.2" text-anchor="end" fill="#555" stroke="#555" stroke-width="0.08">Y3H3N3F (2+)</text>
<line x1="404.50" y1="235.10" x2="411.00" y2="248.00" stroke="#666" stroke-width="0.6" stroke-dasharray="1.5,2.0"/>
<line x1="413.30" y1="196.60" x2="415.40" y2="191.20" stroke="#b0b0b0" stroke-width="0.45" />
<line x1="422.30" y1="196.60" x2="420.30" y2="191.20" stroke="#b0b0b0" stroke-width="0.45" />
<line x1="413.30" y1="196.60" x2="417.70" y2="199.60" stroke="#b0b0b0" stroke-width="0.45" />
<line x1="422.30" y1="196.60" x2="417.70" y2="199.60" stroke="#b0b0b0" stroke-width="0.45" />
<line x1="417.70" y1="199.60" x2="417.70" y2="208.30" stroke="#b0b0b0" stroke-width="0.45" />
<rect x="413.95" y="189.75" width="2.9" height="2.9" fill="#1f6fd0"/>
<rect x="418.85" y="189.75" width="2.9" height="2.9" fill="#1f6fd0"/>
<circle cx="413.30" cy="196.60" r="1.5" fill="#18a045"/>
<circle cx="422.30" cy="196.60" r="1.5" fill="#18a045"/>
<circle cx="417.70" cy="199.60" r="1.5" fill="#18a045"/>
<rect x="416.25" y="202.25" width="2.9" height="2.9" fill="#1f6fd0"/>
<rect x="416.25" y="206.85" width="2.9" height="2.9" fill="#1f6fd0"/>
<polygon points="420.75,208.30 423.25,207.05 423.25,209.55" fill="#e8102a"/>
<text x="417.70" y="213.70" font-size="3.6" text-anchor="middle" fill="#333" stroke="#333" stroke-width="0.1" >pep</text>
<text transform="translate(418.90,216.00) rotate(-90)" font-size="3.2" text-anchor="end" fill="#555" stroke="#555" stroke-width="0.08">Y4H3N4F (2+)</text>
<line x1="417.70" y1="236.70" x2="424.20" y2="241.40" stroke="#666" stroke-width="0.6" stroke-dasharray="1.5,2.0"/>
<rect x="424.65" y="209.65" width="2.9" height="2.9" fill="#1f6fd0"/>
<text x="426.10" y="217.00" font-size="3.6" text-anchor="middle" fill="#333" stroke="#333" stroke-width="0.1" >pep</text>
<text transform="translate(427.30,219.30) rotate(-90)" font-size="3.2" text-anchor="end" fill="#555" stroke="#555" stroke-width="0.08">Y1N1 (1+)</text>
<line x1="426.10" y1="231.90" x2="426.10" y2="241.00" stroke="#666" stroke-width="0.6" stroke-dasharray="1.5,2.0"/>
<line x1="429.00" y1="189.80" x2="429.00" y2="199.90" stroke="#b0b0b0" stroke-width="0.45" />
<line x1="429.00" y1="199.90" x2="433.40" y2="203.20" stroke="#b0b0b0" stroke-width="0.45" />
<line x1="437.70" y1="199.90" x2="433.40" y2="203.20" stroke="#b0b0b0" stroke-width="0.45" />
<line x1="435.60" y1="194.80" x2="437.70" y2="199.90" stroke="#b0b0b0" stroke-width="0.45" />
<line x1="433.40" y1="203.20" x2="433.40" y2="211.60" stroke="#b0b0b0" stroke-width="0.45" />
<circle cx="429.00" cy="189.80" r="1.5" fill="#f2b705"/>
<rect x="427.55" y="193.05" width="2.9" height="2.9" fill="#1f6fd0"/>
<circle cx="429.00" cy="199.90" r="1.5" fill="#18a045"/>
<rect x="434.15" y="193.35" width="2.9" height="2.9" fill="#1f6fd0"/>
<circle cx="437.70" cy="199.90" r="1.5" fill="#18a045"/>
<circle cx="433.40" cy="203.20" r="1.5" fill="#18a045"/>
<rect x="431.95" y="205.75" width="2.9" height="2.9" fill="#1f6fd0"/>
<rect x="431.95" y="210.15" width="2.9" height="2.9" fill="#1f6fd0"/>
<polygon points="436.25,211.60 438.75,210.35 438.75,212.85" fill="#e8102a"/>
<text x="433.40" y="217.30" font-size="3.6" text-anchor="middle" fill="#333" stroke="#333" stroke-width="0.1" >pep</text>
<text transform="translate(434.60,219.60) rotate(-90)" font-size="3.2" text-anchor="end" fill="#555" stroke="#555" stroke-width="0.08">Y5H4N5F (2+)</text>
<line x1="433.40" y1="240.30" x2="433.40" y2="255.00" stroke="#666" stroke-width="0.6" stroke-dasharray="1.5,2.0"/>
<rect x="441.55" y="198.15" width="2.9" height="2.9" fill="#1f6fd0"/>
<polygon points="445.75,199.60 448.25,198.35 448.25,200.85" fill="#e8102a"/>
<text x="443.00" y="205.00" font-size="3.6" text-anchor="middle" fill="#333" stroke="#333" stroke-width="0.1" >pep</text>
<text transform="translate(444.20,207.30) rotate(-90)" font-size="3.2" text-anchor="end" fill="#555" stroke="#555" stroke-width="0.08">Y1N1F (1+)</text>
<line x1="443.00" y1="225.30" x2="443.00" y2="255.00" stroke="#666" stroke-width="0.6" stroke-dasharray="1.5,2.0"/>
<rect x="453.05" y="200.15" width="2.9" height="2.9" fill="#1f6fd0"/>
<rect x="453.05" y="204.25" width="2.9" height="2.9" fill="#1f6fd0"/>
<text x="454.50" y="211.90" font-size="3.6" text-anchor="middle" fill="#333" stroke="#333" stroke-width="0.1" >pep</text>
<text transform="translate(455.70,214.20) rotate(-90)" font-size="3.2" text-anchor="end" fill="#555" stroke="#555" stroke-width="0.08">Y2N2 (1+)</text>
<line x1="454.50" y1="230.40" x2="454.50" y2="255.00" stroke="#666" stroke-width="0.6" stroke-dasharray="1.5,2.0"/>
<rect x="466.95" y="194.65" width="2.9" height="2.9" fill="#1f6fd0"/>
<rect x="466.95" y="199.05" width="2.9" height="2.9" fill="#1f6fd0"/>
<polygon points="471.55,200.50 474.05,199.25 474.05,201.75" fill="#e8102a"/>
<text x="468.40" y="206.50" font-size="3.6" text-anchor="middle" fill="#333" stroke="#333" stroke-width="0.1" >pep</text>
<text transform="translate(469.60,208.80) rotate(-90)" font-size="3.2" text-anchor="end" fill="#555" stroke="#555" stroke-width="0.08">Y2N2F (1+)</text>
<line x1="468.40" y1="226.80" x2="468.40" y2="255.00" stroke="#666" stroke-width="0.6" stroke-dasharray="1.5,2.0"/>
<line x1="491.30" y1="195.00" x2="491.30" y2="207.70" stroke="#b0b0b0" stroke-width="0.45" />
<circle cx="491.30" cy="195.00" r="1.5" fill="#18a045"/>
<circle cx="491.30" cy="199.20" r="1.5" fill="#18a045"/>
<rect x="489.85" y="201.85" width="2.9" height="2.9" fill="#1f6fd0"/>
<rect x="489.85" y="206.25" width="2.9" height="2.9" fill="#1f6fd0"/>
<text x="491.30" y="213.30" font-size="3.6" text-anchor="middle" fill="#333" stroke="#333" stroke-width="0.1" >pep</text>
<text transform="translate(492.50,215.60) rotate(-90)" font-size="3.2" text-anchor="end" fill="#555" stroke="#555" stroke-width="0.08">Y2H2N2 (1+)</text>
<line x1="491.30" y1="234.50" x2="491.30" y2="255.00" stroke="#666" stroke-width="0.6" stroke-dasharray="1.5,2.0"/>
<line x1="503.20" y1="196.80" x2="503.20" y2="209.40" stroke="#b0b0b0" stroke-width="0.45" />
<rect x="501.75" y="195.35" width="2.9" height="2.9" fill="#1f6fd0"/>
<circle cx="503.20" cy="201.10" r="1.5" fill="#18a045"/>
<rect x="501.75" y="203.85" width="2.9" height="2.9" fill="#1f6fd0"/>
<rect x="501.75" y="207.95" width="2.9" height="2.9" fill="#1f6fd0"/>
<text x="503.20" y="215.30" font-size="3.6" text-anchor="middle" fill="#333" stroke="#333" stroke-width="0.1" >pep</text>
<text transform="translate(504.40,217.60) rotate(-90)" font-size="3.2" text-anchor="end" fill="#555" stroke="#555" stroke-width="0.08">Y1H1N3 (1+)</text>
<line x1="503.20" y1="236.50" x2="497.00" y2="255.00" stroke="#666" stroke-width="0.6" stroke-dasharray="1.5,2.0"/>
<line x1="517.60" y1="199.40" x2="517.60" y2="212.20" stroke="#b0b0b0" stroke-width="0.45" />
<line x1="517.60" y1="203.70" x2="523.20" y2="201.20" stroke="#b0b0b0" stroke-width="0.45" />
<circle cx="517.60" cy="199.40" r="1.5" fill="#18a045"/>
<circle cx="517.60" cy="203.70" r="1.5" fill="#18a045"/>
<rect x="516.15" y="206.35" width="2.9" height="2.9" fill="#1f6fd0"/>
<rect x="516.15" y="210.75" width="2.9" height="2.9" fill="#1f6fd0"/>
<rect x="521.75" y="199.75" width="2.9" height="2.9" fill="#1f6fd0"/>
<text x="517.60" y="217.90" font-size="3.6" text-anchor="middle" fill="#333" stroke="#333" stroke-width="0.1" >pep</text>
<text transform="translate(518.80,220.20) rotate(-90)" font-size="3.2" text-anchor="end" fill="#555" stroke="#555" stroke-width="0.08">Y2H2N3 (1+)</text>
<line x1="517.60" y1="239.10" x2="517.60" y2="255.00" stroke="#666" stroke-width="0.6" stroke-dasharray="1.5,2.0"/>
<line x1="536.00" y1="195.30" x2="536.00" y2="208.10" stroke="#b0b0b0" stroke-width="0.45" />
<line x1="536.00" y1="199.90" x2="541.70" y2="197.30" stroke="#b0b0b0" stroke-width="0.45" />
<circle cx="536.00" cy="195.30" r="1.5" fill="#18a045"/>
<circle cx="536.00" cy="199.90" r="1.5" fill="#18a045"/>
<rect x="534.55" y="202.55" width="2.9" height="2.9" fill="#1f6fd0"/>
<rect x="534.55" y="206.65" width="2.9" height="2.9" fill="#1f6fd0"/>
<rect x="540.25" y="195.85" width="2.9" height="2.9" fill="#1f6fd0"/>
<polygon points="538.85,208.10 541.35,206.85 541.35,209.35" fill="#e8102a"/>
<text x="536.00" y="214.00" font-size="3.6" text-anchor="middle" fill="#333" stroke="#333" stroke-width="0.1" >pep</text>
<text transform="translate(537.20,216.30) rotate(-90)" font-size="3.2" text-anchor="end" fill="#555" stroke="#555" stroke-width="0.08">Y2H2N3F (1+)</text>
<line x1="536.00" y1="236.10" x2="536.00" y2="255.00" stroke="#666" stroke-width="0.6" stroke-dasharray="1.5,2.0"/>
<line x1="302.70" y1="174.20" x2="307.30" y2="177.60" stroke="#b0b0b0" stroke-width="0.45" />
<line x1="311.60" y1="174.20" x2="307.30" y2="177.60" stroke="#b0b0b0" stroke-width="0.45" />
<line x1="307.30" y1="177.60" x2="307.30" y2="185.80" stroke="#b0b0b0" stroke-width="0.45" />
<line x1="302.70" y1="164.20" x2="302.70" y2="174.20" stroke="#b0b0b0" stroke-width="0.45" />
<line x1="311.60" y1="169.20" x2="311.60" y2="174.20" stroke="#b0b0b0" stroke-width="0.45" />
<circle cx="302.70" cy="164.20" r="1.5" fill="#f2b705"/>
<rect x="301.25" y="167.75" width="2.9" height="2.9" fill="#1f6fd0"/>
<rect x="310.15" y="167.75" width="2.9" height="2.9" fill="#1f6fd0"/>
<circle cx="302.70" cy="174.20" r="1.5" fill="#18a045"/>
<circle cx="311.60" cy="174.20" r="1.5" fill="#18a045"/>
<rect x="305.85" y="172.05" width="2.9" height="2.9" fill="#1f6fd0"/>
<circle cx="307.30" cy="177.60" r="1.5" fill="#18a045"/>
<rect x="305.85" y="180.05" width="2.9" height="2.9" fill="#1f6fd0"/>
<rect x="305.85" y="184.35" width="2.9" height="2.9" fill="#1f6fd0"/>
<polygon points="310.25,185.80 312.75,184.55 312.75,187.05" fill="#e8102a"/>
<text x="321.60" y="177.90" font-size="7.4" text-anchor="middle" fill="#111" stroke="#111" stroke-width="0.2" >L</text>
<text x="330.40" y="177.90" font-size="7.4" text-anchor="middle" fill="#111" stroke="#111" stroke-width="0.2" >G</text>
<text x="334.90" y="177.90" font-size="7.4" text-anchor="middle" fill="#111" stroke="#111" stroke-width="0.2" >I</text>
<text x="339.80" y="177.90" font-size="7.4" text-anchor="middle" fill="#111" stroke="#111" stroke-width="0.2" >Y</text>
<text x="347.00" y="177.90" font-size="7.4" text-anchor="middle" fill="#111" stroke="#111" stroke-width="0.2" >A</text>
<text x="353.60" y="177.90" font-size="7.4" text-anchor="middle" fill="#111" stroke="#111" stroke-width="0.2" >D</text>
<text x="360.20" y="177.90" font-size="7.4" text-anchor="middle" fill="#111" stroke="#111" stroke-width="0.2" >V</text>
<text x="368.20" y="177.90" font-size="7.4" text-anchor="middle" fill="#111" stroke="#111" stroke-width="0.2" >G</text>
<text x="376.20" y="177.90" font-size="7.4" text-anchor="middle" fill="#e8102a" stroke="#e8102a" stroke-width="0.2" >N</text>
<text x="383.50" y="177.90" font-size="7.4" text-anchor="middle" fill="#111" stroke="#111" stroke-width="0.2" >K</text>
<text x="357.30" y="165.60" font-size="4.8" text-anchor="middle" fill="#222" stroke="#222" stroke-width="0.1" >y4</text>
<path d="M355.7,170.5 L355.7,167.6 L359.1,167.6" fill="none" stroke="#e8102a" stroke-width="0.9"/>
<text x="365.30" y="165.60" font-size="4.8" text-anchor="middle" fill="#222" stroke="#222" stroke-width="0.1" >y3</text>
<path d="M363.7,170.5 L363.7,167.6 L367.1,167.6" fill="none" stroke="#e8102a" stroke-width="0.9"/>
<text x="380.80" y="165.60" font-size="4.8" text-anchor="middle" fill="#222" stroke="#222" stroke-width="0.1" >y1</text>
<path d="M379.2,170.5 L379.2,167.6 L382.6,167.6" fill="none" stroke="#e8102a" stroke-width="0.9"/>
<text x="330.40" y="188.20" font-size="4.8" text-anchor="middle" fill="#222" stroke="#222" stroke-width="0.1" >b2</text>
<path d="M328.2,181.6 L331.8,181.6 L331.8,178.8" fill="none" stroke="#2aa0e8" stroke-width="0.9"/>
<text x="337.60" y="188.20" font-size="4.8" text-anchor="middle" fill="#222" stroke="#222" stroke-width="0.1" >b3</text>
<path d="M335.4,181.6 L339.0,181.6 L339.0,178.8" fill="none" stroke="#2aa0e8" stroke-width="0.9"/>
<text x="355.00" y="188.20" font-size="4.8" text-anchor="middle" fill="#222" stroke="#222" stroke-width="0.1" >b6</text>
<path d="M352.8,181.6 L356.4,181.6 L356.4,178.8" fill="none" stroke="#2aa0e8" stroke-width="0.9"/>
<text x="363.60" y="188.20" font-size="4.8" text-anchor="middle" fill="#222" stroke="#222" stroke-width="0.1" >b7</text>
<path d="M361.4,181.6 L365.0,181.6 L365.0,178.8" fill="none" stroke="#2aa0e8" stroke-width="0.9"/>
<text x="391.20" y="167.90" font-size="5.6" text-anchor="start" fill="#111" stroke="#111" stroke-width="0.08" >Protein: GLA</text>
<text x="391.20" y="176.50" font-size="5.6" text-anchor="start" fill="#111" stroke="#111" stroke-width="0.08" >Peptide mass: 1048.555 Da</text>
<text x="466.20" y="167.90" font-size="5.6" text-anchor="start" fill="#111" stroke="#111" stroke-width="0.08" >Glycosite: N139</text>
<text x="466.20" y="176.50" font-size="5.6" text-anchor="start" fill="#111" stroke="#111" stroke-width="0.08" >Glycan: Hex(4)HexNAc(5)Fuc(1)</text>
<rect x="391.15" y="182.25" width="2.5" height="2.5" fill="#1f6fd0"/>
<text x="397.30" y="185.50" font-size="5.6" text-anchor="start" fill="#111" stroke="#111" stroke-width="0.08" >GlcNAc</text>
<circle cx="429.20" cy="183.50" r="1.35" fill="#18a045"/>
<text x="434.90" y="185.50" font-size="5.6" text-anchor="start" fill="#111" stroke="#111" stroke-width="0.08" >Mannose</text>
<polygon points="468.35,183.50 470.65,182.35 470.65,184.65" fill="#e8102a"/>
<text x="475.00" y="185.50" font-size="5.6" text-anchor="start" fill="#111" stroke="#111" stroke-width="0.08" >Fucose</text>
<circle cx="505.80" cy="183.50" r="1.35" fill="#f2b705"/>
<text x="510.70" y="185.50" font-size="5.6" text-anchor="start" fill="#111" stroke="#111" stroke-width="0.08" >Galactose</text>
<defs><linearGradient id="g83_317" x1="0" y1="0" x2="1" y2="0"><stop offset="0" stop-color="#808080"/><stop offset="0.5" stop-color="#b0b0b0"/><stop offset="1" stop-color="#8c8c8c"/></linearGradient></defs>
<rect x="83.7" y="317.5" width="86.6" height="19.2" fill="url(#g83_317)"/>
<rect x="89.20" y="323.60" width="16" height="8" rx="4.00" fill="#000" opacity="1.0" filter="url(#blur1)"/>
<rect x="109.90" y="323.60" width="16" height="8" rx="4.00" fill="#000" opacity="1.0" filter="url(#blur1)"/>
<rect x="130.50" y="323.60" width="16" height="8" rx="4.00" fill="#000" opacity="1.0" filter="url(#blur1)"/>
<rect x="152.05" y="323.70" width="15.5" height="7.8" rx="3.90" fill="#000" opacity="0.95" filter="url(#blur1)"/>
<rect x="83.7" y="317.5" width="86.6" height="19.2" fill="none" stroke="#2b1a1a" stroke-width="1.4"/>
<defs><linearGradient id="g83_349" x1="0" y1="0" x2="1" y2="0"><stop offset="0" stop-color="#a4a4a4"/><stop offset="0.5" stop-color="#d8d8d8"/><stop offset="1" stop-color="#b4b4b4"/></linearGradient></defs>
<rect x="83.7" y="349.5" width="86.6" height="17.6" fill="url(#g83_349)"/>
<rect x="88.45" y="356.60" width="17.5" height="4.0" rx="2.00" fill="#000" opacity="1.0" filter="url(#blur1)"/>
<rect x="109.65" y="356.80" width="16.5" height="3.6" rx="1.80" fill="#000" opacity="0.95" filter="url(#blur1)"/>
<rect x="129.75" y="356.70" width="17.5" height="3.8" rx="1.90" fill="#000" opacity="1.0" filter="url(#blur1)"/>
<rect x="151.30" y="356.60" width="17" height="3.8" rx="1.90" fill="#000" opacity="1.0" filter="url(#blur1)"/>
<rect x="83.7" y="349.5" width="86.6" height="17.6" fill="none" stroke="#2b1a1a" stroke-width="1.4"/>
<defs><linearGradient id="g261_317" x1="0" y1="0" x2="1" y2="0"><stop offset="0" stop-color="#808080"/><stop offset="0.5" stop-color="#b0b0b0"/><stop offset="1" stop-color="#8c8c8c"/></linearGradient></defs>
<rect x="261.2" y="317.5" width="86.1" height="19.0" fill="url(#g261_317)"/>
<rect x="265.00" y="322.90" width="16" height="7.8" rx="3.90" fill="#000" opacity="1.0" filter="url(#blur1)"/>
<rect x="286.00" y="323.05" width="16" height="7.5" rx="3.75" fill="#000" opacity="0.95" filter="url(#blur1)"/>
<rect x="307.50" y="323.90" width="15" height="6.2" rx="3.10" fill="#000" opacity="0.8" filter="url(#blur1)"/>
<rect x="328.50" y="323.90" width="15" height="6.2" rx="3.10" fill="#000" opacity="0.75" filter="url(#blur1)"/>
<rect x="261.2" y="317.5" width="86.1" height="19.0" fill="none" stroke="#2b1a1a" stroke-width="1.4"/>
<defs><linearGradient id="g261_349" x1="0" y1="0" x2="1" y2="0"><stop offset="0" stop-color="#a4a4a4"/><stop offset="0.5" stop-color="#d8d8d8"/><stop offset="1" stop-color="#b4b4b4"/></linearGradient></defs>
<rect x="261.2" y="349.5" width="86.1" height="17.8" fill="url(#g261_349)"/>
<rect x="264.50" y="356.50" width="17" height="4.0" rx="2.00" fill="#000" opacity="1.0" filter="url(#blur1)"/>
<rect x="286.00" y="356.50" width="16" height="3.6" rx="1.80" fill="#000" opacity="0.95" filter="url(#blur1)"/>
<rect x="306.50" y="356.10" width="17" height="3.8" rx="1.90" fill="#000" opacity="1.0" filter="url(#blur1)"/>
<rect x="327.00" y="355.30" width="18" height="4.6" rx="2.30" fill="#000" opacity="1.0" filter="url(#blur1)"/>
<rect x="261.2" y="349.5" width="86.1" height="17.8" fill="none" stroke="#2b1a1a" stroke-width="1.4"/>
<text x="61.80" y="308.00" font-size="7.3" text-anchor="middle" fill="#111" stroke="#111" stroke-width="0.08" >CHX (h)</text>
<text x="237.90" y="308.00" font-size="7.3" text-anchor="middle" fill="#111" stroke="#111" stroke-width="0.08" >CHX (h)</text>
<text x="97.40" y="308.00" font-size="7.3" text-anchor="middle" fill="#111" stroke="#111" stroke-width="0.08" >0</text>
<text x="118.00" y="308.00" font-size="7.3" text-anchor="middle" fill="#111" stroke="#111" stroke-width="0.08" >2</text>
<text x="138.50" y="308.00" font-size="7.3" text-anchor="middle" fill="#111" stroke="#111" stroke-width="0.08" >4</text>
<text x="160.00" y="308.00" font-size="7.3" text-anchor="middle" fill="#111" stroke="#111" stroke-width="0.08" >8</text>
<text x="273.00" y="308.00" font-size="7.3" text-anchor="middle" fill="#111" stroke="#111" stroke-width="0.08" >0</text>
<text x="294.00" y="308.00" font-size="7.3" text-anchor="middle" fill="#111" stroke="#111" stroke-width="0.08" >2</text>
<text x="315.00" y="308.00" font-size="7.3" text-anchor="middle" fill="#111" stroke="#111" stroke-width="0.08" >4</text>
<text x="336.00" y="308.00" font-size="7.3" text-anchor="middle" fill="#111" stroke="#111" stroke-width="0.08" >8</text>
<text x="61.50" y="330.00" font-size="7.3" text-anchor="middle" fill="#111" stroke="#111" stroke-width="0.08" >GLA</text>
<text x="61.50" y="360.40" font-size="7.3" text-anchor="middle" fill="#111" stroke="#111" stroke-width="0.08" >GAPDH</text>
<text x="237.90" y="330.10" font-size="7.3" text-anchor="middle" fill="#111" stroke="#111" stroke-width="0.08" >GLA</text>
<text x="237.90" y="360.30" font-size="7.3" text-anchor="middle" fill="#111" stroke="#111" stroke-width="0.08" >GAPDH</text>
<line x1="41.10" y1="318.00" x2="41.10" y2="365.40" stroke="#3a2424" stroke-width="1.3" />
<line x1="215.90" y1="317.70" x2="215.90" y2="365.90" stroke="#3a2424" stroke-width="1.3" />
<text transform="translate(36.00,341.20) rotate(-90)" font-size="7.3" text-anchor="middle" fill="#111" stroke="#111" stroke-width="0.08">Vector</text>
<text transform="translate(209.80,341.30) rotate(-90)" font-size="7.3" text-anchor="middle" fill="#111" stroke="#111" stroke-width="0.08">MGAT3</text>
<text x="174.20" y="311.10" font-size="7.3" text-anchor="start" fill="#111" stroke="#111" stroke-width="0.08" >KDa</text>
<text x="350.40" y="311.40" font-size="7.3" text-anchor="start" fill="#111" stroke="#111" stroke-width="0.08" >KDa</text>
<line x1="170.30" y1="320.90" x2="172.80" y2="320.90" stroke="#333" stroke-width="0.7" />
<text x="177.70" y="323.60" font-size="7.3" text-anchor="start" fill="#111" stroke="#111" stroke-width="0.08" >50</text>
<line x1="170.30" y1="362.50" x2="172.80" y2="362.50" stroke="#333" stroke-width="0.7" />
<text x="177.70" y="365.20" font-size="7.3" text-anchor="start" fill="#111" stroke="#111" stroke-width="0.08" >35</text>
<line x1="347.30" y1="320.90" x2="349.80" y2="320.90" stroke="#333" stroke-width="0.7" />
<text x="354.50" y="323.60" font-size="7.3" text-anchor="start" fill="#111" stroke="#111" stroke-width="0.08" >50</text>
<line x1="347.30" y1="362.50" x2="349.80" y2="362.50" stroke="#333" stroke-width="0.7" />
<text x="354.50" y="365.20" font-size="7.3" text-anchor="start" fill="#111" stroke="#111" stroke-width="0.08" >35</text>
<line x1="406.20" y1="287.10" x2="406.20" y2="361.90" stroke="#222" stroke-width="1.0" />
<line x1="405.70" y1="361.90" x2="545.10" y2="361.90" stroke="#222" stroke-width="1.0" />
<line x1="404.20" y1="361.90" x2="406.20" y2="361.90" stroke="#222" stroke-width="0.8" />
<text x="402.90" y="364.40" font-size="7.2" text-anchor="end" fill="#222" stroke="#222" stroke-width="0.08" >0.0</text>
<line x1="404.20" y1="337.10" x2="406.20" y2="337.10" stroke="#222" stroke-width="0.8" />
<text x="402.90" y="339.60" font-size="7.2" text-anchor="end" fill="#222" stroke="#222" stroke-width="0.08" >0.5</text>
<line x1="404.20" y1="312.30" x2="406.20" y2="312.30" stroke="#222" stroke-width="0.8" />
<text x="402.90" y="314.80" font-size="7.2" text-anchor="end" fill="#222" stroke="#222" stroke-width="0.08" >1.0</text>
<line x1="404.20" y1="287.50" x2="406.20" y2="287.50" stroke="#222" stroke-width="0.8" />
<text x="402.90" y="290.00" font-size="7.2" text-anchor="end" fill="#222" stroke="#222" stroke-width="0.08" >1.5</text>
<line x1="406.20" y1="361.90" x2="406.20" y2="363.90" stroke="#222" stroke-width="0.8" />
<text x="406.20" y="374.30" font-size="7.2" text-anchor="middle" fill="#222" stroke="#222" stroke-width="0.08" >0</text>
<line x1="440.80" y1="361.90" x2="440.80" y2="363.90" stroke="#222" stroke-width="0.8" />
<text x="440.80" y="374.30" font-size="7.2" text-anchor="middle" fill="#222" stroke="#222" stroke-width="0.08" >2</text>
<line x1="475.40" y1="361.90" x2="475.40" y2="363.90" stroke="#222" stroke-width="0.8" />
<text x="475.40" y="374.30" font-size="7.2" text-anchor="middle" fill="#222" stroke="#222" stroke-width="0.08" >4</text>
<line x1="510.00" y1="361.90" x2="510.00" y2="363.90" stroke="#222" stroke-width="0.8" />
<text x="510.00" y="374.30" font-size="7.2" text-anchor="middle" fill="#222" stroke="#222" stroke-width="0.08" >6</text>
<line x1="544.60" y1="361.90" x2="544.60" y2="363.90" stroke="#222" stroke-width="0.8" />
<text x="544.60" y="374.30" font-size="7.2" text-anchor="middle" fill="#222" stroke="#222" stroke-width="0.08" >8</text>
<text x="475.40" y="385.70" font-size="7.8" text-anchor="middle" fill="#222" stroke="#222" stroke-width="0.08" >h</text>
<text transform="translate(386.00,325.00) rotate(-90)" font-size="7.55" text-anchor="middle" fill="#111" stroke="#111" stroke-width="0.08">Relative GLA protein level</text>
<path d="M406.2,312.3 L440.8,326.2 L475.4,331.6 L544.6,337.3" fill="none" stroke="#f9b366" stroke-width="1.4"/>
<rect x="404.10" y="310.20" width="4.20" height="4.20" fill="#f9b366" stroke="none" stroke-width="1" />
<line x1="440.80" y1="332.14" x2="440.80" y2="320.24" stroke="#f9b366" stroke-width="0.9" />
<line x1="439.00" y1="332.14" x2="442.60" y2="332.14" stroke="#f9b366" stroke-width="0.9" />
<line x1="439.00" y1="320.24" x2="442.60" y2="320.24" stroke="#f9b366" stroke-width="0.9" />
<rect x="438.70" y="324.09" width="4.20" height="4.20" fill="#f9b366" stroke="none" stroke-width="1" />
<line x1="475.40" y1="333.08" x2="475.40" y2="330.11" stroke="#f9b366" stroke-width="0.9" />
<line x1="473.60" y1="333.08" x2="477.20" y2="333.08" stroke="#f9b366" stroke-width="0.9" />
<line x1="473.60" y1="330.11" x2="477.20" y2="330.11" stroke="#f9b366" stroke-width="0.9" />
<rect x="473.30" y="329.49" width="4.20" height="4.20" fill="#f9b366" stroke="none" stroke-width="1" />
<line x1="544.60" y1="341.76" x2="544.60" y2="332.83" stroke="#f9b366" stroke-width="0.9" />
<line x1="542.80" y1="341.76" x2="546.40" y2="341.76" stroke="#f9b366" stroke-width="0.9" />
<line x1="542.80" y1="332.83" x2="546.40" y2="332.83" stroke="#f9b366" stroke-width="0.9" />
<rect x="542.50" y="335.20" width="4.20" height="4.20" fill="#f9b366" stroke="none" stroke-width="1" />
<path d="M406.2,312.3 L440.8,313.0 L475.4,320.9 L544.6,328.0" fill="none" stroke="#f3868b" stroke-width="1.4"/>
<circle cx="406.2" cy="312.3" r="2.2" fill="#f3868b"/>
<line x1="440.80" y1="322.91" x2="440.80" y2="303.07" stroke="#f3868b" stroke-width="0.9" />
<line x1="439.00" y1="322.91" x2="442.60" y2="322.91" stroke="#f3868b" stroke-width="0.9" />
<line x1="439.00" y1="303.07" x2="442.60" y2="303.07" stroke="#f3868b" stroke-width="0.9" />
<circle cx="440.8" cy="313.0" r="2.2" fill="#f3868b"/>
<line x1="475.40" y1="325.15" x2="475.40" y2="316.71" stroke="#f3868b" stroke-width="0.9" />
<line x1="473.60" y1="325.15" x2="477.20" y2="325.15" stroke="#f3868b" stroke-width="0.9" />
<line x1="473.60" y1="316.71" x2="477.20" y2="316.71" stroke="#f3868b" stroke-width="0.9" />
<circle cx="475.4" cy="320.9" r="2.2" fill="#f3868b"/>
<circle cx="544.6" cy="328.0" r="2.2" fill="#f3868b"/>
<text x="440.80" y="302.40" font-size="5.8" text-anchor="middle" fill="#333" stroke="#333" stroke-width="0.08" >ns</text>
<text x="475.40" y="318.90" font-size="7.2" text-anchor="middle" fill="#333" stroke="#333" stroke-width="0.35" >**</text>
<text x="544.60" y="327.10" font-size="7.2" text-anchor="middle" fill="#333" stroke="#333" stroke-width="0.35" >**</text>
<line x1="501.50" y1="291.20" x2="512.00" y2="291.20" stroke="#f3868b" stroke-width="1.2" />
<circle cx="506.8" cy="291.2" r="1.9" fill="#f3868b"/>
<text x="518.50" y="293.90" font-size="8.0" text-anchor="start" fill="#111" stroke="#111" stroke-width="0.08" >Vector</text>
<line x1="501.50" y1="304.30" x2="512.00" y2="304.30" stroke="#f9b366" stroke-width="1.2" />
<rect x="504.90" y="302.40" width="3.80" height="3.80" fill="#f9b366" stroke="none" stroke-width="1" />
<text x="518.50" y="307.20" font-size="8.0" text-anchor="start" fill="#111" stroke="#111" stroke-width="0.08" >MGAT3</text>
</svg></body></html>
